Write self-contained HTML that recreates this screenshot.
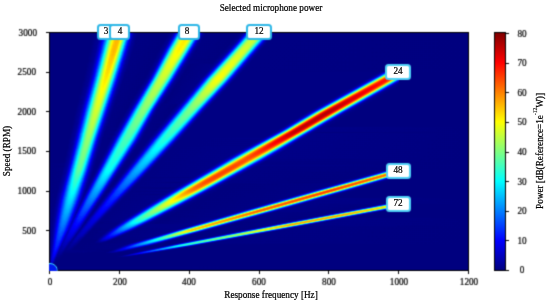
<!DOCTYPE html>
<html><head><meta charset="utf-8"><style>
html,body{margin:0;padding:0;background:#fff;width:550px;height:304px;overflow:hidden}
body{position:relative;font-family:"Liberation Serif","Times New Roman",serif;color:#000}
b{font-weight:normal;display:block}
#all{position:absolute;left:0;top:0;width:550px;height:304px;filter:url(#soft);background:#fff}
.heat{position:absolute;left:49px;top:32px;width:420px;height:239px;background:#000;overflow:hidden;filter:url(#jet)}
.heat i{position:absolute;left:0;width:420px;height:1px}
.frame{position:absolute;left:49px;top:32px;width:420px;height:239px;box-sizing:border-box;border:1px solid #000}
.cbar{position:absolute;left:494px;top:32px;width:12px;height:239px;box-sizing:border-box;border:1px solid #000;background:linear-gradient(to top,rgb(0,0,128) 0%,rgb(0,0,255) 12.5%,rgb(0,128,255) 25%,rgb(0,255,255) 37.5%,rgb(128,255,128) 50%,rgb(255,255,0) 62.5%,rgb(255,128,0) 75%,rgb(255,0,0) 87.5%,rgb(128,0,0) 100%)}
.tk{position:absolute;background:#000}
.t{position:absolute;font-size:36.8px;line-height:44px;white-space:nowrap;transform-origin:0 0;-webkit-text-stroke:0.85px #000}
.lb{position:absolute;box-sizing:border-box;background:#fff;border:2px solid #4fd0f5;border-radius:3.5px}
.lb.top{border-color:#2cb6e6}
.org{position:absolute;left:41.5px;top:262.5px;width:16px;height:16px;border-radius:50%;box-sizing:border-box;border:1.5px solid #3cdcff;background:#0018f0;clip-path:inset(0 0 7.5px 7.5px)}
</style></head><body>
<svg width="0" height="0" style="position:absolute"><filter id="jet" x="0" y="0" width="100%" height="100%" color-interpolation-filters="sRGB">
<feComponentTransfer><feFuncR type="table" tableValues="0 0 0 0 0.5 1 1 1 0.5"/><feFuncG type="table" tableValues="0 0 0.5 1 1 1 0.5 0 0"/><feFuncB type="table" tableValues="0.5 1 1 1 0.5 0 0 0 0"/></feComponentTransfer>
</filter><filter id="soft" x="0" y="0" width="100%" height="100%" color-interpolation-filters="sRGB"><feConvolveMatrix order="3" kernelMatrix="0.02768 0.11101 0.02768 0.11101 0.44521 0.11101 0.02768 0.11101 0.02768" edgeMode="duplicate" preserveAlpha="true"/></filter></svg>
<div id="all">
<div class="heat">
<i style="top:0px;background:linear-gradient(90deg,#000000 0px,#000000 44.8px,#060606 51.2px,#131313 54.2px,#282828 56.8px,#444444 59px,#898989 63.8px,#a0a0a0 65.8px,#afafaf 68px,#b2b2b2 70.2px,#aeaeae 72.2px,#9d9d9d 74.2px,#838383 76px,#373737 80.2px,#252525 81.5px,#181818 82.8px,#070707 85.5px,#010101 89.2px,#000000 119.8px,#050505 124.2px,#101010 126.2px,#232323 128px,#3a3a3a 129.5px,#797979 133px,#939393 135px,#a2a2a2 137.2px,#a6a6a6 140.2px,#a2a2a2 143px,#9a9a9a 144.2px,#909090 145.2px,#777777 147px,#2c2c2c 151px,#121212 153px,#050505 155px,#010101 157.8px,#000000 190.2px,#040404 194.5px,#0d0d0d 196.5px,#1d1d1d 198.2px,#323232 199.8px,#6a6a6a 203.2px,#7f7f7f 205px,#8d8d8d 207.2px,#8f8f8f 210px,#8d8d8d 212.5px,#838383 214.5px,#6d6d6d 216.5px,#2e2e2e 220.5px,#171717 222.2px,#070707 224.5px,#010101 227.5px,#000000 420px)"></i>
<i style="top:1px;background:linear-gradient(90deg,#000000 0px,#000000 44.5px,#060606 51px,#131313 54px,#282828 56.5px,#444444 58.8px,#868686 63.2px,#a0a0a0 65.5px,#afafaf 67.8px,#b2b2b2 70px,#aeaeae 72px,#9d9d9d 74px,#838383 75.8px,#363636 80px,#252525 81.2px,#171717 82.5px,#070707 85.2px,#010101 89px,#000000 119.2px,#050505 123.8px,#111111 125.8px,#242424 127.5px,#3b3b3b 129px,#7a7a7a 132.5px,#949494 134.5px,#a2a2a2 136.8px,#a6a6a6 139.5px,#a3a3a3 142px,#979797 144px,#7d7d7d 146px,#323232 150px,#191919 151.8px,#070707 154px,#010101 157px,#000000 189.5px,#040404 193.8px,#0c0c0c 195.5px,#1c1c1c 197.2px,#303030 198.8px,#686868 202.2px,#808080 204.2px,#8d8d8d 206.5px,#909090 209.2px,#8d8d8d 211.8px,#828282 213.8px,#6c6c6c 215.8px,#2c2c2c 219.8px,#161616 221.5px,#070707 223.8px,#010101 226.5px,#000000 420px)"></i>
<i style="top:2px;background:linear-gradient(90deg,#000000 0px,#000000 44.2px,#060606 50.8px,#131313 53.8px,#282828 56.2px,#454545 58.5px,#878787 63px,#a1a1a1 65.2px,#afafaf 67.5px,#b2b2b2 69.8px,#aeaeae 71.8px,#9c9c9c 73.8px,#828282 75.5px,#3a3a3a 79.5px,#272727 80.8px,#191919 82px,#0f0f0f 83.2px,#070707 84.8px,#010101 88.5px,#000000 118.5px,#050505 123px,#0f0f0f 125px,#212121 126.8px,#383838 128.2px,#7b7b7b 132px,#949494 134px,#a2a2a2 136.2px,#a5a5a5 139px,#a3a3a3 141.5px,#969696 143.5px,#7c7c7c 145.5px,#353535 149.2px,#181818 151.2px,#070707 153.5px,#010101 156.5px,#000000 188.5px,#040404 192.8px,#0d0d0d 194.8px,#1d1d1d 196.5px,#323232 198px,#6b6b6b 201.5px,#808080 203.2px,#8d8d8d 205.5px,#909090 208.2px,#8e8e8e 210.8px,#848484 212.8px,#6e6e6e 214.8px,#2e2e2e 218.8px,#171717 220.5px,#070707 222.8px,#010101 225.8px,#000000 420px)"></i>
<i style="top:3px;background:linear-gradient(90deg,#000000 0px,#000000 44px,#060606 50.5px,#131313 53.5px,#292929 56px,#454545 58.2px,#878787 62.8px,#a1a1a1 65px,#afafaf 67.2px,#b2b2b2 69.5px,#aeaeae 71.5px,#9c9c9c 73.5px,#818181 75.2px,#393939 79.2px,#272727 80.5px,#191919 81.8px,#0f0f0f 83px,#070707 84.5px,#010101 88.2px,#000000 118px,#050505 122.5px,#101010 124.5px,#222222 126.2px,#393939 127.8px,#787878 131.2px,#939393 133.2px,#a2a2a2 135.5px,#a5a5a5 138.5px,#a2a2a2 141px,#959595 143px,#7a7a7a 145px,#333333 148.8px,#1a1a1a 150.5px,#070707 152.8px,#010101 155.8px,#000000 187.8px,#040404 192px,#0c0c0c 193.8px,#1c1c1c 195.5px,#303030 197px,#696969 200.5px,#818181 202.5px,#8e8e8e 204.8px,#919191 207.5px,#8e8e8e 210px,#838383 212px,#6c6c6c 214px,#2c2c2c 218px,#161616 219.8px,#060606 222px,#010101 224.8px,#000000 420px)"></i>
<i style="top:4px;background:linear-gradient(90deg,#000000 0px,#000000 43.8px,#060606 50.2px,#131313 53.2px,#292929 55.8px,#454545 58px,#888888 62.5px,#a1a1a1 64.8px,#afafaf 67px,#b2b2b2 69.2px,#aeaeae 71.2px,#9b9b9b 73.2px,#808080 75px,#383838 79px,#262626 80.2px,#181818 81.5px,#0f0f0f 82.8px,#070707 84.2px,#010101 88px,#000000 117.5px,#050505 122px,#101010 124px,#232323 125.8px,#3b3b3b 127.2px,#797979 130.8px,#939393 132.8px,#a2a2a2 135px,#a5a5a5 137.8px,#a3a3a3 140.2px,#979797 142.2px,#7d7d7d 144.2px,#323232 148.2px,#191919 150px,#070707 152.2px,#010101 155.2px,#000000 186.8px,#040404 191px,#0d0d0d 193px,#1d1d1d 194.8px,#323232 196.2px,#6b6b6b 199.8px,#808080 201.5px,#8e8e8e 203.8px,#919191 206.5px,#8f8f8f 209px,#848484 211px,#6e6e6e 213px,#2e2e2e 217px,#171717 218.8px,#070707 221px,#010101 224px,#000000 420px)"></i>
<i style="top:5px;background:linear-gradient(90deg,#000000 0px,#000000 43.5px,#060606 50px,#131313 53px,#292929 55.5px,#454545 57.8px,#888888 62.2px,#a1a1a1 64.5px,#aeaeae 66.5px,#b2b2b2 68.8px,#afafaf 70.8px,#9e9e9e 72.8px,#848484 74.5px,#383838 78.8px,#262626 80px,#181818 81.2px,#070707 84px,#010101 87.8px,#000000 117px,#050505 121.5px,#0f0f0f 123.2px,#212121 125px,#383838 126.5px,#767676 130px,#919191 132px,#a1a1a1 134.2px,#a5a5a5 137.2px,#a2a2a2 139.8px,#969696 141.8px,#7b7b7b 143.8px,#353535 147.5px,#181818 149.5px,#070707 151.8px,#010101 154.8px,#000000 186px,#040404 190.2px,#0c0c0c 192px,#1c1c1c 193.8px,#303030 195.2px,#6a6a6a 198.8px,#828282 200.8px,#8f8f8f 203px,#919191 205.8px,#8f8f8f 208.2px,#838383 210.2px,#6d6d6d 212.2px,#2c2c2c 216.2px,#161616 218px,#060606 220.2px,#010101 223px,#000000 420px)"></i>
<i style="top:6px;background:linear-gradient(90deg,#000000 0px,#000000 43.2px,#060606 49.8px,#131313 52.8px,#292929 55.2px,#454545 57.5px,#888888 62px,#9f9f9f 64px,#afafaf 66.2px,#b2b2b2 68.5px,#aeaeae 70.5px,#9d9d9d 72.5px,#838383 74.2px,#373737 78.5px,#252525 79.8px,#181818 81px,#070707 83.8px,#010101 87.5px,#000000 116.5px,#050505 120.8px,#101010 122.8px,#222222 124.5px,#393939 126px,#777777 129.5px,#929292 131.5px,#a1a1a1 133.8px,#a5a5a5 136.8px,#a2a2a2 139.2px,#979797 141px,#7e7e7e 143px,#333333 147px,#191919 148.8px,#070707 151px,#010101 154px,#000000 185.2px,#040404 189.5px,#0d0d0d 191.2px,#1d1d1d 193px,#333333 194.5px,#6c6c6c 198px,#818181 199.8px,#8f8f8f 202px,#929292 204.8px,#8f8f8f 207.2px,#858585 209.2px,#6e6e6e 211.2px,#2e2e2e 215.2px,#171717 217px,#070707 219.2px,#010101 222.2px,#000000 420px)"></i>
<i style="top:7px;background:linear-gradient(90deg,#000000 0px,#000000 43px,#060606 49.5px,#131313 52.5px,#292929 55px,#464646 57.2px,#898989 61.8px,#a0a0a0 63.8px,#afafaf 66px,#b2b2b2 68.2px,#aeaeae 70.2px,#9d9d9d 72.2px,#828282 74px,#363636 78.2px,#252525 79.5px,#171717 80.8px,#070707 83.5px,#010101 87.2px,#000000 116px,#050505 120.2px,#101010 122.2px,#232323 124px,#3a3a3a 125.5px,#797979 129px,#939393 131px,#a1a1a1 133.2px,#a4a4a4 136px,#a2a2a2 138.5px,#969696 140.5px,#7c7c7c 142.5px,#313131 146.5px,#181818 148.2px,#070707 150.5px,#010101 153.5px,#000000 184.2px,#040404 188.5px,#0c0c0c 190.2px,#1c1c1c 192px,#313131 193.5px,#6a6a6a 197px,#828282 199px,#8f8f8f 201.2px,#929292 204px,#8f8f8f 206.5px,#848484 208.5px,#6d6d6d 210.5px,#303030 214.2px,#161616 216.2px,#060606 218.5px,#010101 221.2px,#000000 420px)"></i>
<i style="top:8px;background:linear-gradient(90deg,#000000 0px,#000000 42.8px,#060606 49.2px,#131313 52.2px,#292929 54.8px,#464646 57px,#898989 61.5px,#a0a0a0 63.5px,#afafaf 65.8px,#b2b2b2 68px,#aeaeae 70px,#9c9c9c 72px,#828282 73.8px,#393939 77.8px,#272727 79px,#191919 80.2px,#0f0f0f 81.5px,#070707 83px,#010101 86.8px,#000000 115.5px,#050505 119.8px,#0f0f0f 121.5px,#212121 123.2px,#373737 124.8px,#767676 128.2px,#919191 130.2px,#a1a1a1 132.5px,#a4a4a4 135.5px,#a1a1a1 138.2px,#999999 139.5px,#909090 140.5px,#767676 142.2px,#2c2c2c 146.2px,#121212 148.2px,#050505 150.2px,#010101 153px,#000000 183.5px,#040404 187.8px,#0d0d0d 189.5px,#1e1e1e 191.2px,#333333 192.8px,#6c6c6c 196.2px,#828282 198px,#8f8f8f 200.2px,#929292 203px,#909090 205.5px,#858585 207.5px,#6f6f6f 209.5px,#2e2e2e 213.5px,#171717 215.2px,#070707 217.5px,#010101 220.5px,#000000 420px)"></i>
<i style="top:9px;background:linear-gradient(90deg,#000000 0px,#000000 42.5px,#060606 49px,#131313 52px,#292929 54.5px,#464646 56.8px,#898989 61.2px,#a0a0a0 63.2px,#afafaf 65.5px,#b2b2b2 67.8px,#aeaeae 69.8px,#9c9c9c 71.8px,#818181 73.5px,#393939 77.5px,#272727 78.8px,#191919 80px,#0f0f0f 81.2px,#070707 82.8px,#010101 86.5px,#000000 115px,#060606 119.2px,#0f0f0f 121px,#222222 122.8px,#383838 124.2px,#777777 127.8px,#929292 129.8px,#a1a1a1 132px,#a4a4a4 135px,#a1a1a1 137.5px,#969696 139.2px,#7d7d7d 141.2px,#333333 145.2px,#191919 147px,#070707 149.2px,#010101 152.2px,#000000 182.5px,#040404 186.8px,#0c0c0c 188.5px,#1c1c1c 190.2px,#313131 191.8px,#6b6b6b 195.2px,#838383 197.2px,#8f8f8f 199.2px,#939393 202px,#909090 204.8px,#858585 206.8px,#6d6d6d 208.8px,#303030 212.5px,#161616 214.5px,#060606 216.8px,#010101 219.5px,#000000 420px)"></i>
<i style="top:10px;background:linear-gradient(90deg,#000000 0px,#000000 42.2px,#060606 48.8px,#131313 51.8px,#292929 54.2px,#464646 56.5px,#868686 60.8px,#a1a1a1 63px,#afafaf 65.2px,#b2b2b2 67.5px,#aeaeae 69.5px,#9b9b9b 71.5px,#808080 73.2px,#383838 77.2px,#262626 78.5px,#181818 79.8px,#0f0f0f 81px,#070707 82.5px,#010101 86.2px,#000000 114.2px,#050505 118.5px,#101010 120.5px,#232323 122.2px,#3a3a3a 123.8px,#787878 127.2px,#929292 129.2px,#a1a1a1 131.5px,#a4a4a4 134.2px,#a1a1a1 136.8px,#959595 138.8px,#7b7b7b 140.8px,#313131 144.8px,#181818 146.5px,#070707 148.8px,#010101 151.8px,#000000 181.8px,#040404 186px,#0d0d0d 187.8px,#1e1e1e 189.5px,#333333 191px,#6d6d6d 194.5px,#828282 196.2px,#909090 198.5px,#939393 201.2px,#919191 203.8px,#868686 205.8px,#6f6f6f 207.8px,#2e2e2e 211.8px,#171717 213.5px,#070707 215.8px,#010101 218.8px,#000000 420px)"></i>
<i style="top:11px;background:linear-gradient(90deg,#000000 0px,#000000 42.2px,#060606 48.5px,#121212 51.2px,#272727 53.8px,#434343 56px,#8a8a8a 60.8px,#a1a1a1 62.8px,#aeaeae 64.8px,#b2b2b2 67px,#afafaf 69px,#9e9e9e 71px,#848484 72.8px,#373737 77px,#262626 78.2px,#181818 79.5px,#070707 82.2px,#010101 86px,#000000 113.8px,#050505 118px,#0e0e0e 119.8px,#202020 121.5px,#373737 123px,#797979 126.8px,#939393 128.8px,#a1a1a1 131px,#a4a4a4 133.8px,#a0a0a0 136.5px,#999999 137.8px,#8f8f8f 138.8px,#767676 140.5px,#2b2b2b 144.5px,#121212 146.5px,#050505 148.5px,#010101 151.2px,#000000 180.8px,#040404 185px,#0c0c0c 186.8px,#1c1c1c 188.5px,#313131 190px,#6c6c6c 193.5px,#848484 195.5px,#909090 197.5px,#939393 200.2px,#919191 203px,#858585 205px,#6d6d6d 207px,#303030 210.8px,#161616 212.8px,#060606 215px,#010101 217.8px,#000000 420px)"></i>
<i style="top:12px;background:linear-gradient(90deg,#000000 0px,#000000 42px,#060606 48.2px,#121212 51px,#272727 53.5px,#434343 55.8px,#8a8a8a 60.5px,#a1a1a1 62.5px,#aeaeae 64.5px,#b2b2b2 66.8px,#aeaeae 68.8px,#9d9d9d 70.8px,#838383 72.5px,#373737 76.8px,#252525 78px,#181818 79.2px,#070707 82px,#010101 85.8px,#000000 113.2px,#050505 117.5px,#0f0f0f 119.2px,#212121 121px,#383838 122.5px,#767676 126px,#919191 128px,#a0a0a0 130.2px,#a4a4a4 133.2px,#a0a0a0 135.8px,#969696 137.5px,#7c7c7c 139.5px,#323232 143.5px,#191919 145.2px,#070707 147.5px,#010101 150.5px,#000000 180px,#040404 184.2px,#0d0d0d 186px,#1e1e1e 187.8px,#333333 189.2px,#6e6e6e 192.8px,#838383 194.5px,#919191 196.8px,#949494 199.5px,#919191 202px,#868686 204px,#6f6f6f 206px,#2e2e2e 210px,#171717 211.8px,#070707 214px,#010101 217px,#000000 420px)"></i>
<i style="top:13px;background:linear-gradient(90deg,#000000 0px,#000000 41.8px,#060606 48px,#121212 50.8px,#272727 53.2px,#434343 55.5px,#878787 60px,#a1a1a1 62.2px,#afafaf 64.2px,#b2b2b2 66.5px,#aeaeae 68.5px,#9c9c9c 70.5px,#828282 72.2px,#363636 76.5px,#252525 77.8px,#171717 79px,#070707 81.8px,#010101 85.5px,#000000 112.8px,#060606 117px,#101010 118.8px,#222222 120.5px,#393939 122px,#777777 125.5px,#929292 127.5px,#a0a0a0 129.8px,#a3a3a3 132.5px,#a1a1a1 135px,#959595 137px,#7b7b7b 139px,#353535 142.8px,#181818 144.8px,#070707 147px,#010101 150px,#000000 179px,#040404 183.2px,#0c0c0c 185px,#1d1d1d 186.8px,#323232 188.2px,#6c6c6c 191.8px,#858585 193.8px,#919191 195.8px,#949494 198.5px,#919191 201.2px,#868686 203.2px,#6e6e6e 205.2px,#303030 209px,#181818 210.8px,#070707 213px,#010101 216px,#000000 420px)"></i>
<i style="top:14px;background:linear-gradient(90deg,#000000 0px,#000000 41.5px,#060606 47.8px,#131313 50.8px,#292929 53.2px,#434343 55.2px,#878787 59.8px,#a2a2a2 62px,#afafaf 64px,#b2b2b2 66.2px,#aeaeae 68.2px,#9c9c9c 70.2px,#818181 72px,#393939 76px,#272727 77.2px,#191919 78.5px,#0f0f0f 79.8px,#070707 81.2px,#010101 85px,#000000 112px,#050505 116.2px,#0e0e0e 118px,#202020 119.8px,#363636 121.2px,#797979 125px,#929292 127px,#a0a0a0 129.2px,#a3a3a3 132px,#9f9f9f 134.8px,#989898 136px,#8e8e8e 137px,#757575 138.8px,#2b2b2b 142.8px,#121212 144.8px,#050505 146.8px,#010101 149.5px,#000000 178.2px,#050505 182.5px,#0d0d0d 184.2px,#1e1e1e 186px,#343434 187.5px,#6b6b6b 190.8px,#848484 192.8px,#929292 195px,#959595 197.8px,#929292 200.2px,#878787 202.2px,#707070 204.2px,#2e2e2e 208.2px,#171717 210px,#070707 212.2px,#010101 215.2px,#000000 420px)"></i>
<i style="top:15px;background:linear-gradient(90deg,#000000 0px,#000000 41.5px,#060606 47.8px,#131313 50.5px,#292929 53px,#434343 55px,#878787 59.5px,#9f9f9f 61.5px,#afafaf 63.8px,#b2b2b2 66px,#aeaeae 68px,#9b9b9b 70px,#818181 71.8px,#393939 75.8px,#272727 77px,#191919 78.2px,#0f0f0f 79.5px,#070707 81px,#010101 84.8px,#000000 111.5px,#050505 115.8px,#0f0f0f 117.5px,#212121 119.2px,#373737 120.8px,#767676 124.2px,#909090 126.2px,#a0a0a0 128.5px,#a3a3a3 131.5px,#9f9f9f 134.2px,#979797 135.5px,#8d8d8d 136.5px,#737373 138.2px,#2d2d2d 142px,#131313 144px,#060606 146px,#010101 148.8px,#000000 177.2px,#040404 181.5px,#0c0c0c 183.2px,#1d1d1d 185px,#323232 186.5px,#6d6d6d 190px,#858585 192px,#929292 194px,#959595 196.8px,#939393 199.2px,#888888 201.2px,#727272 203.2px,#2f2f2f 207.2px,#181818 209px,#070707 211.2px,#010101 214.2px,#000000 420px)"></i>
<i style="top:16px;background:linear-gradient(90deg,#000000 0px,#000000 41.2px,#060606 47.5px,#131313 50.2px,#292929 52.8px,#434343 54.8px,#888888 59.2px,#a0a0a0 61.2px,#afafaf 63.5px,#b2b2b2 65.8px,#adadad 67.8px,#9b9b9b 69.8px,#848484 71.2px,#383838 75.5px,#262626 76.8px,#181818 78px,#070707 80.8px,#010101 84.5px,#000000 111px,#050505 115.2px,#0f0f0f 117px,#222222 118.8px,#393939 120.2px,#777777 123.8px,#919191 125.8px,#a0a0a0 128px,#a3a3a3 130.8px,#a0a0a0 133.2px,#949494 135.2px,#7a7a7a 137.2px,#343434 141px,#171717 143px,#060606 145.2px,#010101 148.2px,#000000 176.5px,#050505 180.8px,#0d0d0d 182.5px,#1e1e1e 184.2px,#343434 185.8px,#6b6b6b 189px,#858585 191px,#929292 193.2px,#959595 196px,#939393 198.5px,#888888 200.5px,#707070 202.5px,#2e2e2e 206.5px,#171717 208.2px,#070707 210.5px,#010101 213.2px,#000000 420px)"></i>
<i style="top:17px;background:linear-gradient(90deg,#000000 0px,#000000 41px,#060606 47.2px,#121212 50px,#282828 52.5px,#424242 54.5px,#888888 59px,#a0a0a0 61px,#aeaeae 63px,#b2b2b2 65.2px,#afafaf 67.2px,#9d9d9d 69.2px,#848484 71px,#373737 75.2px,#262626 76.5px,#181818 77.8px,#070707 80.5px,#010101 84.2px,#000000 110.5px,#060606 114.8px,#101010 116.5px,#232323 118.2px,#3a3a3a 119.8px,#747474 123px,#8f8f8f 125px,#9f9f9f 127.2px,#a3a3a3 130.2px,#9f9f9f 133px,#979797 134.2px,#8e8e8e 135.2px,#747474 137px,#2a2a2a 141px,#111111 143px,#050505 145px,#010101 147.8px,#000000 175.8px,#050505 180px,#0e0e0e 181.8px,#202020 183.5px,#363636 185px,#6d6d6d 188.2px,#848484 190px,#929292 192.2px,#969696 195px,#939393 197.5px,#898989 199.5px,#727272 201.5px,#2f2f2f 205.5px,#181818 207.2px,#070707 209.5px,#010101 212.5px,#000000 420px)"></i>
<i style="top:18px;background:linear-gradient(90deg,#000000 0px,#000000 40.8px,#060606 47px,#121212 49.8px,#282828 52.2px,#424242 54.2px,#888888 58.8px,#a0a0a0 60.8px,#aeaeae 62.8px,#b2b2b2 65px,#aeaeae 67px,#9d9d9d 69px,#838383 70.8px,#363636 75px,#252525 76.2px,#171717 77.5px,#070707 80.2px,#010101 84px,#000000 109.8px,#050505 114px,#0e0e0e 115.8px,#202020 117.5px,#363636 119px,#757575 122.5px,#909090 124.5px,#9f9f9f 126.8px,#a2a2a2 129.8px,#9e9e9e 132.5px,#969696 133.8px,#8c8c8c 134.8px,#727272 136.5px,#2d2d2d 140.2px,#131313 142.2px,#060606 144.2px,#010101 147px,#000000 174.8px,#050505 179px,#0e0e0e 180.8px,#1f1f1f 182.5px,#353535 184px,#6c6c6c 187.2px,#858585 189.2px,#939393 191.5px,#969696 194.2px,#939393 196.8px,#888888 198.8px,#717171 200.8px,#2e2e2e 204.8px,#171717 206.5px,#070707 208.8px,#010101 211.5px,#000000 420px)"></i>
<i style="top:19px;background:linear-gradient(90deg,#000000 0px,#000000 40.5px,#060606 46.8px,#121212 49.5px,#282828 52px,#424242 54px,#888888 58.5px,#a0a0a0 60.5px,#aeaeae 62.5px,#b2b2b2 64.8px,#adadad 66.8px,#9c9c9c 68.8px,#818181 70.5px,#393939 74.5px,#272727 75.8px,#191919 77px,#0f0f0f 78.2px,#070707 79.8px,#010101 83.5px,#000000 109.2px,#050505 113.5px,#0e0e0e 115.2px,#202020 117px,#373737 118.5px,#757575 122px,#909090 124px,#9f9f9f 126.2px,#a2a2a2 129px,#9f9f9f 131.5px,#939393 133.5px,#797979 135.5px,#333333 139.2px,#171717 141.2px,#060606 143.5px,#010101 146.5px,#000000 174px,#040404 178px,#0d0d0d 179.8px,#1e1e1e 181.5px,#333333 183px,#6e6e6e 186.5px,#858585 188.2px,#939393 190.5px,#969696 193.2px,#949494 195.8px,#898989 197.8px,#737373 199.8px,#303030 203.8px,#181818 205.5px,#070707 207.8px,#010101 210.8px,#000000 420px)"></i>
<i style="top:20px;background:linear-gradient(90deg,#000000 0px,#000000 40.5px,#060606 46.5px,#121212 49.2px,#282828 51.8px,#424242 53.8px,#888888 58.2px,#a0a0a0 60.2px,#adadad 62.2px,#b1b1b1 64.5px,#adadad 66.5px,#9b9b9b 68.5px,#808080 70.2px,#383838 74.2px,#272727 75.5px,#191919 76.8px,#0f0f0f 78px,#070707 79.5px,#010101 83.2px,#000000 108.8px,#050505 113px,#0f0f0f 114.8px,#212121 116.5px,#373737 118px,#767676 121.5px,#909090 123.5px,#9e9e9e 125.8px,#a1a1a1 128.5px,#9e9e9e 131px,#949494 132.8px,#7b7b7b 134.8px,#323232 138.8px,#191919 140.5px,#070707 142.8px,#010101 145.8px,#000000 173px,#050505 177.2px,#0e0e0e 179px,#202020 180.8px,#363636 182.2px,#6d6d6d 185.5px,#868686 187.5px,#949494 189.8px,#979797 192.5px,#949494 195px,#898989 197px,#717171 199px,#2e2e2e 203px,#171717 204.8px,#070707 207px,#010101 210px,#000000 420px)"></i>
<i style="top:21px;background:linear-gradient(90deg,#000000 0px,#000000 40.2px,#060606 46.2px,#121212 49px,#282828 51.5px,#424242 53.5px,#888888 58px,#a0a0a0 60px,#adadad 62px,#b1b1b1 64.2px,#acacac 66.2px,#9a9a9a 68.2px,#7f7f7f 70px,#383838 74px,#262626 75.2px,#181818 76.5px,#070707 79.2px,#010101 83px,#000000 108.2px,#050505 112.5px,#0f0f0f 114.2px,#212121 116px,#383838 117.5px,#767676 121px,#8e8e8e 122.8px,#9d9d9d 125px,#a1a1a1 127.8px,#9e9e9e 130.2px,#939393 132.2px,#797979 134.2px,#303030 138.2px,#171717 140px,#060606 142.2px,#010101 145.2px,#000000 172px,#050505 176.2px,#0e0e0e 178px,#1f1f1f 179.8px,#353535 181.2px,#707070 184.8px,#868686 186.5px,#949494 188.8px,#979797 191.5px,#959595 194px,#8a8a8a 196px,#737373 198px,#303030 202px,#191919 203.8px,#070707 206px,#010101 209px,#000000 420px)"></i>
<i style="top:22px;background:linear-gradient(90deg,#000000 0px,#000000 40px,#060606 46px,#121212 48.8px,#282828 51.2px,#434343 53.2px,#888888 57.8px,#a0a0a0 59.8px,#adadad 61.8px,#b1b1b1 63.8px,#adadad 65.8px,#9c9c9c 67.8px,#828282 69.5px,#373737 73.8px,#252525 75px,#171717 76.2px,#070707 79px,#010101 82.8px,#000000 108px,#050505 112px,#0f0f0f 113.8px,#212121 115.5px,#383838 117px,#737373 120.2px,#8e8e8e 122.2px,#9d9d9d 124.5px,#a0a0a0 127.2px,#9d9d9d 130px,#969696 131.2px,#8c8c8c 132.2px,#737373 134px,#2a2a2a 138px,#111111 140px,#050505 142px,#010101 144.8px,#000000 171.2px,#050505 175.2px,#0d0d0d 177px,#1e1e1e 178.8px,#333333 180.2px,#6e6e6e 183.8px,#878787 185.8px,#959595 188px,#979797 190.8px,#959595 193.2px,#898989 195.2px,#727272 197.2px,#2e2e2e 201.2px,#171717 203px,#070707 205.2px,#010101 208.2px,#000000 420px)"></i>
<i style="top:23px;background:linear-gradient(90deg,#000000 0px,#000000 39.8px,#060606 45.8px,#121212 48.5px,#282828 51px,#434343 53px,#888888 57.5px,#9f9f9f 59.5px,#adadad 61.5px,#b0b0b0 63.5px,#acacac 65.5px,#9b9b9b 67.5px,#818181 69.2px,#363636 73.5px,#242424 74.8px,#171717 76px,#070707 78.8px,#010101 82.5px,#000000 107.5px,#050505 111.5px,#0f0f0f 113.2px,#222222 115px,#393939 116.5px,#737373 119.8px,#8e8e8e 121.8px,#9d9d9d 124px,#a0a0a0 126.8px,#9d9d9d 129.2px,#929292 131px,#797979 133px,#313131 137px,#181818 138.8px,#070707 141px,#010101 144px,#000000 170.2px,#050505 174.5px,#0e0e0e 176.2px,#202020 178px,#363636 179.5px,#6d6d6d 182.8px,#878787 184.8px,#959595 187px,#989898 189.8px,#959595 192.2px,#8b8b8b 194.2px,#747474 196.2px,#313131 200.2px,#161616 202.2px,#060606 204.5px,#010101 207.2px,#000000 420px)"></i>
<i style="top:24px;background:linear-gradient(90deg,#000000 0px,#000000 39.5px,#060606 45.5px,#121212 48.2px,#282828 50.8px,#434343 52.8px,#858585 57px,#9d9d9d 59px,#ababab 61px,#b0b0b0 63.2px,#ababab 65.2px,#9a9a9a 67.2px,#808080 69px,#393939 73px,#272727 74.2px,#191919 75.5px,#0f0f0f 76.8px,#070707 78.2px,#010101 82px,#000000 107px,#050505 111px,#0f0f0f 112.8px,#222222 114.5px,#393939 116px,#747474 119.2px,#8e8e8e 121.2px,#9b9b9b 123.2px,#9f9f9f 126px,#9d9d9d 128.5px,#919191 130.5px,#787878 132.5px,#333333 136.2px,#171717 138.2px,#060606 140.5px,#010101 143.5px,#000000 169.2px,#050505 173.5px,#0e0e0e 175.2px,#1f1f1f 177px,#353535 178.5px,#707070 182px,#888888 184px,#959595 186.2px,#989898 189px,#959595 191.5px,#8a8a8a 193.5px,#727272 195.5px,#2f2f2f 199.5px,#181818 201.2px,#070707 203.5px,#010101 206.5px,#000000 420px)"></i>
<i style="top:25px;background:linear-gradient(90deg,#000000 0px,#000000 39.2px,#060606 45.2px,#121212 48px,#282828 50.5px,#434343 52.5px,#858585 56.8px,#9d9d9d 58.8px,#ababab 60.8px,#afafaf 63px,#ababab 65px,#999999 67px,#7f7f7f 68.8px,#383838 72.8px,#262626 74px,#181818 75.2px,#070707 78px,#010101 81.8px,#000000 106.5px,#050505 110.5px,#0f0f0f 112.2px,#222222 114px,#3a3a3a 115.5px,#747474 118.8px,#8c8c8c 120.5px,#9b9b9b 122.8px,#9e9e9e 125.5px,#9c9c9c 128px,#909090 130px,#767676 132px,#313131 135.8px,#181818 137.5px,#070707 139.8px,#010101 142.8px,#000000 168.5px,#050505 172.8px,#0f0f0f 174.5px,#212121 176.2px,#373737 177.8px,#6e6e6e 181px,#878787 183px,#959595 185.2px,#989898 188px,#969696 190.5px,#8b8b8b 192.5px,#747474 194.5px,#313131 198.5px,#171717 200.5px,#070707 202.8px,#010101 205.8px,#000000 420px)"></i>
<i style="top:26px;background:linear-gradient(90deg,#000000 0px,#000000 39px,#060606 45px,#121212 47.8px,#282828 50.2px,#434343 52.2px,#858585 56.5px,#9d9d9d 58.5px,#ababab 60.5px,#afafaf 62.8px,#aaaaaa 64.8px,#989898 66.8px,#7e7e7e 68.5px,#373737 72.5px,#252525 73.8px,#181818 75px,#070707 77.8px,#010101 81.5px,#000000 106px,#050505 110px,#0f0f0f 111.8px,#232323 113.5px,#363636 114.8px,#717171 118px,#8c8c8c 120px,#9b9b9b 122.2px,#9e9e9e 125px,#9a9a9a 127.8px,#939393 129px,#898989 130px,#707070 131.8px,#2b2b2b 135.5px,#121212 137.5px,#050505 139.5px,#010101 142.2px,#000000 167.5px,#050505 171.8px,#0f0f0f 173.5px,#202020 175.2px,#363636 176.8px,#6d6d6d 180px,#878787 182px,#959595 184.2px,#999999 187.2px,#969696 189.8px,#8b8b8b 191.8px,#737373 193.8px,#2f2f2f 197.8px,#181818 199.5px,#070707 201.8px,#010101 204.8px,#000000 420px)"></i>
<i style="top:27px;background:linear-gradient(90deg,#000000 0px,#000000 38.8px,#060606 44.8px,#121212 47.5px,#282828 50px,#434343 52px,#858585 56.2px,#9d9d9d 58.2px,#ababab 60.2px,#aeaeae 62.5px,#a9a9a9 64.5px,#979797 66.5px,#818181 68px,#363636 72.2px,#242424 73.5px,#171717 74.8px,#070707 77.5px,#010101 81.2px,#000000 105.5px,#050505 109.5px,#101010 111.2px,#202020 112.8px,#373737 114.2px,#717171 117.5px,#8c8c8c 119.5px,#9a9a9a 121.5px,#9d9d9d 124.2px,#9b9b9b 126.8px,#8f8f8f 128.8px,#767676 130.8px,#323232 134.5px,#161616 136.5px,#060606 138.8px,#000000 141.8px,#000000 166.5px,#050505 170.8px,#0e0e0e 172.5px,#1f1f1f 174.2px,#353535 175.8px,#707070 179.2px,#888888 181.2px,#969696 183.5px,#999999 186.2px,#979797 188.8px,#8c8c8c 190.8px,#757575 192.8px,#323232 196.8px,#171717 198.8px,#070707 201px,#010101 204px,#000000 420px)"></i>
<i style="top:28px;background:linear-gradient(90deg,#000000 0px,#000000 38.8px,#020202 42.2px,#060606 44.8px,#121212 47.2px,#282828 49.8px,#434343 51.8px,#858585 56px,#9d9d9d 58px,#aaaaaa 60px,#aeaeae 62px,#aaaaaa 64px,#999999 66px,#808080 67.8px,#393939 71.8px,#191919 74.2px,#0f0f0f 75.5px,#070707 77px,#010101 80.8px,#000000 105px,#050505 109px,#101010 110.8px,#202020 112.2px,#373737 113.8px,#727272 117px,#8c8c8c 119px,#999999 121px,#9d9d9d 123.8px,#9a9a9a 126.2px,#8e8e8e 128.2px,#747474 130.2px,#303030 134px,#181818 135.8px,#070707 138px,#010101 141px,#000000 165.8px,#060606 170px,#0f0f0f 171.8px,#212121 173.5px,#373737 175px,#6e6e6e 178.2px,#888888 180.2px,#969696 182.5px,#999999 185.5px,#979797 188px,#8b8b8b 190px,#737373 192px,#303030 196px,#181818 197.8px,#070707 200px,#010101 203px,#000000 420px)"></i>
<i style="top:29px;background:linear-gradient(90deg,#000000 0px,#000000 38.5px,#020202 42px,#060606 44.5px,#121212 47px,#282828 49.5px,#434343 51.5px,#858585 55.8px,#9d9d9d 57.8px,#aaaaaa 59.8px,#adadad 61.8px,#a9a9a9 63.8px,#989898 65.8px,#7f7f7f 67.5px,#383838 71.5px,#262626 72.8px,#181818 74px,#0e0e0e 75.2px,#070707 76.8px,#010101 80.5px,#000000 104.5px,#050505 108.5px,#101010 110.2px,#202020 111.8px,#383838 113.2px,#727272 116.5px,#8a8a8a 118.2px,#939393 119.2px,#999999 120.5px,#9c9c9c 123.2px,#989898 126px,#919191 127.2px,#878787 128.2px,#6e6e6e 130px,#2a2a2a 133.8px,#121212 135.8px,#050505 137.8px,#010101 140.5px,#000000 164.8px,#050505 169px,#0f0f0f 170.8px,#202020 172.5px,#363636 174px,#717171 177.5px,#898989 179.5px,#979797 181.8px,#9a9a9a 184.5px,#979797 187px,#8c8c8c 189px,#767676 191px,#323232 195px,#171717 197px,#070707 199.2px,#010101 202.2px,#000000 420px)"></i>
<i style="top:30px;background:linear-gradient(90deg,#000000 0px,#000000 38.2px,#060606 44.2px,#121212 46.8px,#282828 49.2px,#434343 51.2px,#858585 55.5px,#9c9c9c 57.5px,#aaaaaa 59.5px,#adadad 61.5px,#a9a9a9 63.5px,#979797 65.5px,#7d7d7d 67.2px,#373737 71.2px,#252525 72.5px,#181818 73.8px,#070707 76.5px,#010101 80.2px,#000000 104px,#060606 108px,#101010 109.8px,#212121 111.2px,#383838 112.8px,#737373 116px,#8a8a8a 117.8px,#989898 119.8px,#9c9c9c 122.5px,#999999 125px,#8d8d8d 127px,#747474 129px,#313131 132.8px,#181818 134.5px,#070707 136.8px,#010101 139.8px,#000000 163.8px,#050505 168px,#0e0e0e 169.8px,#1f1f1f 171.5px,#353535 173px,#707070 176.5px,#898989 178.5px,#979797 180.8px,#9a9a9a 183.8px,#979797 186.2px,#8c8c8c 188.2px,#747474 190.2px,#303030 194.2px,#191919 196px,#080808 198.2px,#010101 201.2px,#000000 420px)"></i>
<i style="top:31px;background:linear-gradient(90deg,#000000 0px,#000000 38px,#060606 44px,#121212 46.5px,#282828 49px,#434343 51px,#818181 55px,#9a9a9a 57px,#a8a8a8 59px,#adadad 61.2px,#a8a8a8 63.2px,#969696 65.2px,#7c7c7c 67px,#363636 71px,#242424 72.2px,#171717 73.5px,#070707 76.2px,#010101 80px,#000000 103.5px,#060606 107.5px,#101010 109.2px,#212121 110.8px,#343434 112px,#737373 115.5px,#8a8a8a 117.2px,#989898 119.2px,#9b9b9b 122px,#989898 124.5px,#8e8e8e 126.2px,#767676 128.2px,#2f2f2f 132.2px,#171717 134px,#060606 136.2px,#010101 139.2px,#000000 163px,#060606 167.2px,#0f0f0f 169px,#212121 170.8px,#373737 172.2px,#6e6e6e 175.5px,#888888 177.5px,#979797 179.8px,#9a9a9a 182.8px,#989898 185.2px,#8d8d8d 187.2px,#767676 189.2px,#2f2f2f 193.5px,#171717 195.2px,#070707 197.5px,#010101 200.5px,#000000 420px)"></i>
<i style="top:32px;background:linear-gradient(90deg,#000000 0px,#000000 37.8px,#060606 43.8px,#121212 46.2px,#282828 48.8px,#434343 50.8px,#818181 54.8px,#9a9a9a 56.8px,#a8a8a8 58.8px,#acacac 61px,#a7a7a7 63px,#959595 65px,#7f7f7f 66.5px,#353535 70.8px,#242424 72px,#171717 73.2px,#060606 76px,#010101 79.8px,#000000 103px,#060606 107px,#101010 108.8px,#212121 110.2px,#353535 111.5px,#707070 114.8px,#888888 116.5px,#979797 118.5px,#9b9b9b 121.2px,#989898 124px,#8b8b8b 126px,#707070 128px,#363636 131.2px,#1f1f1f 132.8px,#0f0f0f 134.2px,#050505 136px,#000000 140.2px,#020202 164.8px,#0a0a0a 167.2px,#1b1b1b 169.2px,#323232 171px,#757575 175px,#8c8c8c 177px,#989898 179px,#9b9b9b 181.8px,#989898 184.5px,#8c8c8c 186.5px,#757575 188.5px,#313131 192.5px,#161616 194.5px,#070707 196.8px,#010101 199.8px,#000000 420px)"></i>
<i style="top:33px;background:linear-gradient(90deg,#000000 0px,#000000 37.5px,#060606 43.5px,#121212 46px,#282828 48.5px,#434343 50.5px,#818181 54.5px,#9a9a9a 56.5px,#a8a8a8 58.5px,#acacac 60.8px,#a7a7a7 62.8px,#949494 64.8px,#7e7e7e 66.2px,#383838 70.2px,#181818 72.8px,#0e0e0e 74px,#070707 75.5px,#010101 79.2px,#000000 102.5px,#060606 106.5px,#111111 108.2px,#222222 109.8px,#353535 111px,#707070 114.2px,#888888 116px,#969696 118px,#9a9a9a 120.8px,#979797 123.5px,#898989 125.5px,#6f6f6f 127.5px,#383838 130.5px,#212121 132px,#0e0e0e 133.8px,#050505 135.5px,#000000 140px,#020202 164px,#0b0b0b 166.5px,#1c1c1c 168.5px,#353535 170.2px,#737373 174px,#8b8b8b 176px,#989898 178.2px,#9b9b9b 181px,#999999 183.5px,#8e8e8e 185.5px,#777777 187.5px,#2f2f2f 191.8px,#181818 193.5px,#070707 195.8px,#010101 198.8px,#000000 420px)"></i>
<i style="top:34px;background:linear-gradient(90deg,#000000 0px,#000000 37.5px,#060606 43.2px,#121212 45.8px,#282828 48.2px,#434343 50.2px,#818181 54.2px,#9a9a9a 56.2px,#a8a8a8 58.2px,#ababab 60.2px,#a7a7a7 62.2px,#979797 64.2px,#7d7d7d 66px,#373737 70px,#181818 72.5px,#070707 75.2px,#010101 79px,#000000 102px,#060606 106px,#111111 107.8px,#222222 109.2px,#363636 110.5px,#717171 113.8px,#888888 115.5px,#969696 117.5px,#999999 120px,#979797 122.8px,#919191 124px,#888888 125px,#717171 126.8px,#363636 130px,#1f1f1f 131.5px,#0f0f0f 133px,#050505 134.8px,#000000 139px,#020202 163px,#0b0b0b 165.5px,#1c1c1c 167.5px,#343434 169.2px,#727272 173px,#8b8b8b 175px,#989898 177.2px,#9b9b9b 180px,#989898 182.8px,#8d8d8d 184.8px,#757575 186.8px,#313131 190.8px,#171717 192.8px,#070707 195px,#010101 198px,#000000 420px)"></i>
<i style="top:35px;background:linear-gradient(90deg,#000000 0px,#000000 37.2px,#060606 43px,#121212 45.5px,#282828 48px,#434343 50px,#818181 54px,#9a9a9a 56px,#a7a7a7 58px,#ababab 60px,#a7a7a7 62px,#969696 64px,#7c7c7c 65.8px,#363636 69.8px,#171717 72.2px,#070707 75px,#010101 78.8px,#000000 101.5px,#050505 105.2px,#0f0f0f 107px,#1f1f1f 108.5px,#363636 110px,#717171 113.2px,#888888 115px,#969696 117px,#999999 119.5px,#969696 122.2px,#898989 124.2px,#6f6f6f 126.2px,#353535 129.5px,#1e1e1e 131px,#0e0e0e 132.5px,#050505 134.2px,#000000 138.5px,#020202 162px,#0a0a0a 164.5px,#1b1b1b 166.5px,#323232 168.2px,#757575 172.2px,#8c8c8c 174.2px,#999999 176.5px,#9c9c9c 179.2px,#999999 181.8px,#8e8e8e 183.8px,#777777 185.8px,#2f2f2f 190px,#181818 191.8px,#070707 194px,#010101 197px,#000000 420px)"></i>
<i style="top:36px;background:linear-gradient(90deg,#000000 0px,#000000 37px,#060606 42.8px,#121212 45.2px,#262626 47.5px,#3f3f3f 49.5px,#828282 53.8px,#9a9a9a 55.8px,#a7a7a7 57.8px,#aaaaaa 59.8px,#a6a6a6 61.8px,#959595 63.8px,#7b7b7b 65.5px,#353535 69.5px,#242424 70.8px,#171717 72px,#060606 74.8px,#010101 78.5px,#000000 101px,#050505 104.8px,#0f0f0f 106.5px,#1f1f1f 108px,#373737 109.5px,#6e6e6e 112.5px,#868686 114.2px,#959595 116.2px,#989898 118.8px,#959595 121.8px,#888888 123.8px,#717171 125.5px,#333333 129px,#202020 130.2px,#101010 131.8px,#050505 133.5px,#000000 137.8px,#020202 161.2px,#0b0b0b 163.8px,#1d1d1d 165.8px,#353535 167.5px,#737373 171.2px,#8c8c8c 173.2px,#999999 175.5px,#9c9c9c 178.2px,#999999 181px,#8e8e8e 183px,#767676 185px,#323232 189px,#171717 191px,#070707 193.2px,#010101 196.2px,#000000 420px)"></i>
<i style="top:37px;background:linear-gradient(90deg,#000000 0px,#000000 36.8px,#060606 42.5px,#121212 45px,#262626 47.2px,#404040 49.2px,#828282 53.5px,#999999 55.5px,#a7a7a7 57.5px,#aaaaaa 59.5px,#a5a5a5 61.5px,#949494 63.5px,#7a7a7a 65.2px,#383838 69px,#181818 71.5px,#0e0e0e 72.8px,#070707 74.2px,#010101 78px,#000000 100.5px,#050505 104.2px,#0f0f0f 106px,#202020 107.5px,#333333 108.8px,#6e6e6e 112px,#868686 113.8px,#949494 115.8px,#989898 118.2px,#959595 121px,#8f8f8f 122.2px,#868686 123.2px,#6f6f6f 125px,#353535 128.2px,#1f1f1f 129.8px,#0f0f0f 131.2px,#050505 133px,#000000 137.2px,#020202 160.2px,#0b0b0b 162.8px,#1c1c1c 164.8px,#343434 166.5px,#767676 170.5px,#8d8d8d 172.5px,#9a9a9a 174.8px,#9c9c9c 177.5px,#9a9a9a 180px,#8f8f8f 182px,#787878 184px,#303030 188.2px,#181818 190px,#070707 192.2px,#010101 195.2px,#000000 420px)"></i>
<i style="top:38px;background:linear-gradient(90deg,#000000 0px,#000000 36.5px,#060606 42.2px,#121212 44.8px,#262626 47px,#404040 49px,#828282 53.2px,#999999 55.2px,#a6a6a6 57.2px,#a9a9a9 59.2px,#a5a5a5 61.2px,#939393 63.2px,#7d7d7d 64.8px,#373737 68.8px,#181818 71.2px,#070707 74px,#010101 77.8px,#000000 100px,#050505 103.8px,#0f0f0f 105.5px,#202020 107px,#333333 108.2px,#6f6f6f 111.5px,#868686 113.2px,#949494 115.2px,#979797 117.8px,#949494 120.5px,#878787 122.5px,#6d6d6d 124.5px,#343434 127.8px,#202020 129px,#101010 130.5px,#050505 132.2px,#000000 136.5px,#020202 159.2px,#0a0a0a 161.8px,#1b1b1b 163.8px,#323232 165.5px,#757575 169.5px,#8c8c8c 171.5px,#9a9a9a 173.8px,#9d9d9d 176.5px,#9a9a9a 179.2px,#8e8e8e 181.2px,#767676 183.2px,#323232 187.2px,#171717 189.2px,#070707 191.5px,#010101 194.5px,#000000 420px)"></i>
<i style="top:39px;background:linear-gradient(90deg,#000000 0px,#000000 36.2px,#060606 42px,#121212 44.5px,#252525 46.8px,#404040 48.8px,#828282 53px,#999999 55px,#a6a6a6 57px,#a9a9a9 59px,#a4a4a4 61px,#959595 62.8px,#7c7c7c 64.5px,#363636 68.5px,#171717 71px,#070707 73.8px,#010101 77.5px,#000000 99.5px,#050505 103.2px,#0f0f0f 105px,#202020 106.5px,#343434 107.8px,#6f6f6f 111px,#868686 112.8px,#949494 114.8px,#979797 117px,#939393 120px,#868686 122px,#6f6f6f 123.8px,#363636 127px,#1f1f1f 128.5px,#0f0f0f 130px,#050505 131.8px,#000000 136px,#020202 158.5px,#0b0b0b 161px,#1d1d1d 163px,#353535 164.8px,#737373 168.5px,#8e8e8e 170.8px,#9a9a9a 173px,#9d9d9d 175.8px,#9a9a9a 178.2px,#909090 180.2px,#757575 182.5px,#303030 186.5px,#191919 188.2px,#0d0d0d 189.5px,#070707 190.8px,#010101 193.8px,#000000 420px)"></i>
<i style="top:40px;background:linear-gradient(90deg,#000000 0px,#000000 36px,#060606 41.8px,#121212 44.2px,#252525 46.5px,#404040 48.5px,#828282 52.8px,#979797 54.5px,#a5a5a5 56.5px,#a9a9a9 58.5px,#a5a5a5 60.5px,#949494 62.5px,#7b7b7b 64.2px,#353535 68.2px,#171717 70.8px,#070707 73.2px,#010101 76.8px,#000000 99px,#050505 102.8px,#101010 104.5px,#212121 106px,#343434 107.2px,#6c6c6c 110.2px,#848484 112px,#939393 114px,#969696 116.5px,#939393 119.2px,#878787 121.2px,#6e6e6e 123.2px,#343434 126.5px,#1e1e1e 128px,#0e0e0e 129.5px,#050505 131.2px,#000000 135.5px,#020202 157.5px,#0b0b0b 160px,#1c1c1c 162px,#343434 163.8px,#767676 167.8px,#8d8d8d 169.8px,#9a9a9a 172px,#9d9d9d 174.8px,#9a9a9a 177.5px,#8f8f8f 179.5px,#777777 181.5px,#323232 185.5px,#1a1a1a 187.2px,#080808 189.5px,#010101 192.2px,#010101 329.8px,#080808 333.2px,#0f0f0f 334.5px,#1b1b1b 335.8px,#2a2a2a 337px,#3f3f3f 338.2px,#979797 342.5px,#b8b8b8 344.5px,#c4c4c4 345.5px,#cecece 346.8px,#d4d4d4 348px,#d6d6d6 349.5px,#000000 349.8px,#000000 420px)"></i>
<i style="top:41px;background:linear-gradient(90deg,#000000 0px,#000000 35.8px,#060606 41.5px,#111111 44px,#252525 46.2px,#404040 48.2px,#828282 52.5px,#979797 54.2px,#a5a5a5 56.2px,#a8a8a8 58.2px,#a4a4a4 60.2px,#939393 62.2px,#797979 64px,#343434 68px,#181818 70.2px,#0f0f0f 71.5px,#070707 73px,#010101 76.5px,#000000 98.5px,#050505 102.2px,#101010 104px,#212121 105.5px,#353535 106.8px,#6c6c6c 109.8px,#848484 111.5px,#929292 113.5px,#969696 116px,#939393 118.8px,#868686 120.8px,#6c6c6c 122.8px,#373737 125.8px,#202020 127.2px,#0f0f0f 128.8px,#050505 130.5px,#000000 134.8px,#020202 156.5px,#0a0a0a 159px,#1b1b1b 161px,#323232 162.8px,#757575 166.8px,#8d8d8d 168.8px,#9a9a9a 171px,#9e9e9e 174px,#9a9a9a 176.8px,#8e8e8e 178.8px,#757575 180.8px,#313131 184.8px,#191919 186.5px,#080808 188.8px,#010101 191.2px,#010101 328px,#070707 331.2px,#191919 333.8px,#282828 335px,#3c3c3c 336.2px,#9d9d9d 341px,#bdbdbd 343px,#c8c8c8 344px,#d1d1d1 345.2px,#d5d5d5 346.5px,#d7d7d7 348.2px,#d6d6d6 349.5px,#000000 349.8px,#000000 420px)"></i>
<i style="top:42px;background:linear-gradient(90deg,#000000 0px,#000000 35.5px,#060606 41.2px,#111111 43.8px,#252525 46px,#404040 48px,#7e7e7e 52px,#979797 54px,#a4a4a4 56px,#a8a8a8 58px,#a3a3a3 60px,#929292 62px,#787878 63.8px,#373737 67.5px,#181818 70px,#080808 72.5px,#010101 76px,#000000 98px,#050505 101.8px,#0e0e0e 103.2px,#1e1e1e 104.8px,#353535 106.2px,#6d6d6d 109.2px,#848484 111px,#929292 113px,#959595 115.2px,#939393 118px,#848484 120.2px,#6e6e6e 122px,#353535 125.2px,#1e1e1e 126.8px,#0f0f0f 128.2px,#050505 130px,#000000 134.2px,#020202 155.8px,#0b0b0b 158.2px,#1d1d1d 160.2px,#353535 162px,#777777 166px,#8e8e8e 168px,#9b9b9b 170.2px,#9e9e9e 173px,#9b9b9b 175.8px,#8f8f8f 177.8px,#777777 179.8px,#333333 183.8px,#1b1b1b 185.5px,#080808 187.8px,#010101 190.5px,#010101 326px,#080808 329.5px,#191919 332px,#292929 333.2px,#3d3d3d 334.5px,#999999 339px,#bbbbbb 341px,#c9c9c9 342.2px,#d2d2d2 343.5px,#d7d7d7 346.5px,#d2d2d2 349.5px,#000000 349.8px,#000000 420px)"></i>
<i style="top:43px;background:linear-gradient(90deg,#000000 0px,#000000 35.2px,#060606 41px,#111111 43.5px,#252525 45.8px,#404040 47.8px,#7e7e7e 51.8px,#979797 53.8px,#a4a4a4 55.8px,#a7a7a7 57.8px,#a3a3a3 59.8px,#919191 61.8px,#7b7b7b 63.2px,#363636 67.2px,#171717 69.8px,#080808 72.2px,#010101 75.8px,#000000 97.5px,#050505 101.2px,#0e0e0e 102.8px,#1e1e1e 104.2px,#323232 105.5px,#6d6d6d 108.8px,#858585 110.5px,#919191 112.2px,#959595 114.8px,#929292 117.5px,#838383 119.8px,#6c6c6c 121.5px,#333333 124.8px,#202020 126px,#101010 127.5px,#050505 129.2px,#000000 133.5px,#020202 154.8px,#0b0b0b 157.2px,#1c1c1c 159.2px,#343434 161px,#767676 165px,#8e8e8e 167px,#9b9b9b 169.2px,#9e9e9e 172.2px,#9b9b9b 175px,#8f8f8f 177px,#767676 179px,#313131 183px,#191919 184.8px,#080808 187px,#010101 189.5px,#010101 324.2px,#080808 327.8px,#1a1a1a 330.2px,#292929 331.5px,#3e3e3e 332.8px,#9b9b9b 337.2px,#bcbcbc 339.2px,#cacaca 340.5px,#d3d3d3 341.8px,#d8d8d8 344.8px,#d3d3d3 347.5px,#c4c4c4 349.5px,#000000 349.8px,#000000 420px)"></i>
<i style="top:44px;background:linear-gradient(90deg,#000000 0px,#000000 35px,#060606 40.8px,#111111 43.2px,#252525 45.5px,#404040 47.5px,#7e7e7e 51.5px,#969696 53.5px,#a4a4a4 55.5px,#a7a7a7 57.5px,#a2a2a2 59.5px,#939393 61.2px,#7a7a7a 63px,#353535 67px,#171717 69.5px,#070707 72px,#010101 75.5px,#000000 97px,#050505 100.8px,#0e0e0e 102.2px,#1f1f1f 103.8px,#323232 105px,#696969 108px,#828282 109.8px,#919191 111.8px,#949494 114.2px,#919191 117px,#848484 119px,#6e6e6e 120.8px,#313131 124.2px,#1f1f1f 125.5px,#0f0f0f 127px,#050505 128.8px,#000000 133px,#020202 153.8px,#0a0a0a 156.2px,#1b1b1b 158.2px,#323232 160px,#757575 164px,#8f8f8f 166.2px,#9c9c9c 168.5px,#9f9f9f 171.2px,#9c9c9c 174px,#909090 176px,#787878 178px,#333333 182px,#1b1b1b 183.8px,#090909 186px,#010101 188.8px,#010101 322.5px,#080808 326px,#0f0f0f 327.2px,#1a1a1a 328.5px,#2a2a2a 329.8px,#3f3f3f 331px,#9c9c9c 335.5px,#bdbdbd 337.5px,#cbcbcb 338.8px,#d3d3d3 340px,#d9d9d9 343px,#d7d7d7 345px,#d0d0d0 346.5px,#c2c2c2 348px,#acacac 349.5px,#000000 349.8px,#000000 420px)"></i>
<i style="top:45px;background:linear-gradient(90deg,#000000 0px,#000000 35px,#060606 40.5px,#111111 43px,#252525 45.2px,#404040 47.2px,#7e7e7e 51.2px,#969696 53.2px,#a2a2a2 55px,#a6a6a6 57px,#a3a3a3 59px,#929292 61px,#797979 62.8px,#343434 66.8px,#161616 69.2px,#070707 71.8px,#010101 75.2px,#000000 96.5px,#050505 100.2px,#0e0e0e 101.8px,#1f1f1f 103.2px,#333333 104.5px,#6a6a6a 107.5px,#828282 109.2px,#909090 111.2px,#939393 113.5px,#919191 116.2px,#838383 118.5px,#6c6c6c 120.2px,#212121 124.8px,#101010 126.2px,#060606 128px,#000000 132.2px,#020202 153px,#0c0c0c 155.5px,#1d1d1d 157.5px,#353535 159.2px,#777777 163.2px,#8f8f8f 165.2px,#9c9c9c 167.5px,#9f9f9f 170.5px,#9c9c9c 173.2px,#8f8f8f 175.2px,#767676 177.2px,#323232 181.2px,#1a1a1a 183px,#080808 185.2px,#010101 187.8px,#010101 320.8px,#070707 324px,#181818 326.5px,#282828 327.8px,#3c3c3c 329px,#9d9d9d 333.8px,#bebebe 335.8px,#cccccc 337px,#d4d4d4 338.2px,#d9d9d9 341.2px,#d7d7d7 343.5px,#cacaca 345.5px,#b0b0b0 347.5px,#8a8a8a 349.5px,#000000 349.8px,#000000 420px)"></i>
<i style="top:46px;background:linear-gradient(90deg,#000000 0px,#000000 34.8px,#060606 40.2px,#111111 42.8px,#252525 45px,#404040 47px,#7e7e7e 51px,#969696 53px,#a2a2a2 54.8px,#a6a6a6 56.8px,#a2a2a2 58.8px,#919191 60.8px,#787878 62.5px,#333333 66.5px,#181818 68.8px,#080808 71.2px,#010101 74.8px,#000000 96px,#050505 99.8px,#0e0e0e 101.2px,#1f1f1f 102.8px,#333333 104px,#6a6a6a 107px,#828282 108.8px,#8f8f8f 110.5px,#939393 113px,#909090 115.8px,#848484 117.8px,#6a6a6a 119.8px,#323232 123px,#1f1f1f 124.2px,#0f0f0f 125.8px,#050505 127.5px,#000000 131.8px,#020202 152px,#0b0b0b 154.5px,#1c1c1c 156.5px,#343434 158.2px,#767676 162.2px,#8e8e8e 164.2px,#9c9c9c 166.5px,#9f9f9f 169.5px,#9c9c9c 172.2px,#919191 174.2px,#797979 176.2px,#343434 180.2px,#1b1b1b 182px,#090909 184.2px,#010101 187px,#010101 319px,#080808 322.2px,#191919 324.8px,#282828 326px,#3d3d3d 327.2px,#9f9f9f 332px,#bfbfbf 334px,#cbcbcb 335px,#d4d4d4 336.2px,#d9d9d9 337.5px,#dadada 339.2px,#d7d7d7 341.8px,#cdcdcd 343.5px,#b4b4b4 345.5px,#909090 347.5px,#656565 349.5px,#000000 349.8px,#000000 420px)"></i>
<i style="top:47px;background:linear-gradient(90deg,#000000 0px,#000000 34.5px,#060606 40px,#111111 42.5px,#262626 44.8px,#404040 46.8px,#7e7e7e 50.8px,#949494 52.5px,#a2a2a2 54.5px,#a5a5a5 56.5px,#a1a1a1 58.5px,#909090 60.5px,#777777 62.2px,#363636 66px,#171717 68.5px,#080808 71px,#010101 74.5px,#000000 95.5px,#060606 99.2px,#0f0f0f 100.8px,#202020 102.2px,#343434 103.5px,#6b6b6b 106.5px,#838383 108.2px,#8f8f8f 110px,#929292 112.5px,#8f8f8f 115.2px,#828282 117.2px,#6c6c6c 119px,#343434 122.2px,#1e1e1e 123.8px,#0e0e0e 125.2px,#060606 126.8px,#000000 131px,#020202 151px,#0a0a0a 153.5px,#1e1e1e 155.8px,#363636 157.5px,#777777 161.5px,#8f8f8f 163.5px,#9c9c9c 165.8px,#9f9f9f 168.8px,#9b9b9b 171.5px,#8f8f8f 173.5px,#767676 175.5px,#313131 179.5px,#1a1a1a 181.2px,#080808 183.5px,#010101 186px,#010101 317px,#080808 320.5px,#1a1a1a 323px,#292929 324.2px,#3e3e3e 325.5px,#a0a0a0 330.2px,#c0c0c0 332.2px,#cccccc 333.2px,#d5d5d5 334.5px,#d9d9d9 335.8px,#dbdbdb 337.5px,#d9d9d9 339.5px,#d1d1d1 341.2px,#c3c3c3 342.8px,#a8a8a8 344.5px,#414141 349.5px,#000000 349.8px,#000000 420px)"></i>
<i style="top:48px;background:linear-gradient(90deg,#000000 0px,#000000 34.2px,#060606 39.8px,#121212 42.2px,#262626 44.5px,#404040 46.5px,#7f7f7f 50.5px,#949494 52.2px,#a2a2a2 54.2px,#a5a5a5 56.2px,#a1a1a1 58.2px,#8f8f8f 60.2px,#797979 61.8px,#353535 65.8px,#171717 68.2px,#070707 70.8px,#010101 74.2px,#000000 94.8px,#050505 98.5px,#0e0e0e 100px,#1e1e1e 101.5px,#313131 102.8px,#686868 105.8px,#818181 107.5px,#8f8f8f 109.5px,#929292 111.8px,#8f8f8f 114.5px,#818181 116.8px,#6a6a6a 118.5px,#323232 121.8px,#1f1f1f 123px,#0f0f0f 124.5px,#050505 126.2px,#000000 130.5px,#020202 150.2px,#0b0b0b 152.8px,#1c1c1c 154.8px,#333333 156.5px,#757575 160.5px,#8d8d8d 162.5px,#9a9a9a 164.8px,#9e9e9e 167.8px,#9b9b9b 170.5px,#8f8f8f 172.5px,#777777 174.5px,#323232 178.5px,#1a1a1a 180.2px,#080808 182.5px,#010101 185.2px,#010101 315.2px,#080808 318.8px,#0f0f0f 320px,#1a1a1a 321.2px,#2a2a2a 322.5px,#3f3f3f 323.8px,#9c9c9c 328.2px,#bebebe 330.2px,#cdcdcd 331.5px,#d6d6d6 332.8px,#dadada 334px,#dcdcdc 335.8px,#dadada 337.8px,#d3d3d3 339.2px,#c6c6c6 340.8px,#b5b5b5 342px,#959595 343.8px,#464646 347.5px,#252525 349.5px,#000000 349.8px,#000000 420px)"></i>
<i style="top:49px;background:linear-gradient(90deg,#000000 0px,#000000 34px,#060606 39.5px,#121212 42px,#262626 44.2px,#414141 46.2px,#7b7b7b 50px,#949494 52px,#a1a1a1 54px,#a4a4a4 56px,#a0a0a0 58px,#919191 59.8px,#787878 61.5px,#343434 65.5px,#181818 67.8px,#080808 70.2px,#010101 73.8px,#000000 94.2px,#050505 98px,#0f0f0f 99.5px,#1f1f1f 101px,#333333 102.2px,#6a6a6a 105.2px,#818181 107px,#8e8e8e 108.8px,#919191 111.2px,#8e8e8e 114px,#828282 116px,#6c6c6c 117.8px,#202020 122.2px,#101010 123.8px,#050505 125.5px,#000000 129.8px,#020202 149.5px,#0b0b0b 152px,#1d1d1d 154px,#343434 155.8px,#767676 159.8px,#8d8d8d 161.8px,#9a9a9a 164px,#9d9d9d 166.8px,#9a9a9a 169.5px,#8f8f8f 171.5px,#787878 173.5px,#303030 177.8px,#181818 179.5px,#090909 181.5px,#010101 184.2px,#010101 313.5px,#080808 317px,#101010 318.2px,#1b1b1b 319.5px,#2b2b2b 320.8px,#404040 322px,#9e9e9e 326.5px,#bfbfbf 328.5px,#cecece 329.8px,#d7d7d7 331px,#dbdbdb 332.2px,#dcdcdc 334px,#dbdbdb 335.8px,#d5d5d5 337.2px,#cccccc 338.5px,#bdbdbd 339.8px,#9f9f9f 341.5px,#545454 345px,#383838 346.5px,#212121 348px,#121212 349.5px,#000000 349.8px,#000000 420px)"></i>
<i style="top:50px;background:linear-gradient(90deg,#000000 0px,#000000 33.8px,#060606 39.2px,#121212 41.8px,#272727 44px,#414141 46px,#7b7b7b 49.8px,#949494 51.8px,#a1a1a1 53.8px,#a4a4a4 55.8px,#9f9f9f 57.8px,#909090 59.5px,#777777 61.2px,#333333 65.2px,#171717 67.5px,#070707 70px,#010101 73.5px,#000000 93.5px,#050505 97.2px,#0d0d0d 98.8px,#1d1d1d 100.2px,#303030 101.5px,#6b6b6b 104.8px,#7f7f7f 106.2px,#8e8e8e 108.2px,#919191 110.8px,#8e8e8e 113.5px,#808080 115.5px,#696969 117.2px,#313131 120.5px,#1e1e1e 121.8px,#0f0f0f 123.2px,#060606 124.8px,#000000 128.8px,#020202 148.5px,#0a0a0a 151px,#1b1b1b 153px,#323232 154.8px,#737373 158.8px,#8d8d8d 161px,#999999 163.2px,#9c9c9c 166px,#999999 168.8px,#8d8d8d 170.8px,#757575 172.8px,#313131 176.8px,#191919 178.5px,#080808 180.8px,#010101 183.2px,#010101 311.8px,#090909 315.2px,#101010 316.5px,#1c1c1c 317.8px,#2c2c2c 319px,#414141 320.2px,#9f9f9f 324.8px,#c1c1c1 326.8px,#cfcfcf 328px,#d7d7d7 329.2px,#dddddd 332.2px,#d7d7d7 335.2px,#cfcfcf 336.5px,#c4c4c4 337.5px,#a4a4a4 339.5px,#4f4f4f 343.5px,#303030 345.2px,#161616 347.2px,#070707 349.5px,#000000 349.8px,#000000 420px)"></i>
<i style="top:51px;background:linear-gradient(90deg,#000000 0px,#000000 33.5px,#060606 39px,#121212 41.5px,#272727 43.8px,#3e3e3e 45.5px,#7c7c7c 49.5px,#939393 51.5px,#a0a0a0 53.2px,#a3a3a3 55.2px,#a0a0a0 57.2px,#8f8f8f 59.2px,#767676 61px,#353535 64.8px,#171717 67.2px,#070707 69.8px,#010101 73.2px,#000000 93px,#050505 96.8px,#0e0e0e 98.2px,#1e1e1e 99.8px,#323232 101px,#686868 104px,#808080 105.8px,#8c8c8c 107.5px,#909090 110px,#8e8e8e 112.8px,#818181 114.8px,#6b6b6b 116.5px,#202020 121px,#0f0f0f 122.5px,#050505 124.2px,#000000 128.5px,#020202 147.8px,#0b0b0b 150.2px,#1c1c1c 152.2px,#333333 154px,#747474 158px,#8b8b8b 160px,#989898 162.2px,#9b9b9b 165px,#989898 167.8px,#8d8d8d 169.8px,#757575 171.8px,#323232 175.8px,#1a1a1a 177.5px,#080808 179.8px,#010101 182.2px,#010101 310px,#080808 313.2px,#1a1a1a 315.8px,#292929 317px,#3d3d3d 318.2px,#a1a1a1 323px,#c2c2c2 325px,#d0d0d0 326.2px,#d8d8d8 327.5px,#dedede 330.5px,#d9d9d9 333.2px,#d1d1d1 334.5px,#c7c7c7 335.5px,#a8a8a8 337.5px,#4a4a4a 342px,#282828 344px,#191919 345.2px,#0e0e0e 346.5px,#000000 349.8px,#000000 420px)"></i>
<i style="top:52px;background:linear-gradient(90deg,#000000 0px,#000000 33.2px,#060606 38.8px,#121212 41.2px,#272727 43.5px,#3e3e3e 45.2px,#7c7c7c 49.2px,#919191 51px,#9f9f9f 53px,#a3a3a3 55px,#9f9f9f 57px,#8e8e8e 59px,#787878 60.5px,#343434 64.5px,#161616 67px,#070707 69.5px,#010101 72.8px,#000000 92.5px,#060606 96.2px,#0f0f0f 97.8px,#202020 99.2px,#696969 103.5px,#808080 105.2px,#8c8c8c 107px,#909090 109.5px,#8d8d8d 112.2px,#808080 114.2px,#696969 116px,#303030 119.2px,#1e1e1e 120.5px,#0e0e0e 122px,#050505 123.5px,#000000 127.8px,#020202 147px,#0c0c0c 149.5px,#1d1d1d 151.5px,#353535 153.2px,#717171 157px,#898989 159px,#969696 161.2px,#9a9a9a 164.2px,#979797 167px,#8b8b8b 169px,#727272 171px,#333333 174.8px,#1a1a1a 176.5px,#080808 178.8px,#010101 181.2px,#010101 308px,#080808 311.5px,#1a1a1a 314px,#2a2a2a 315.2px,#3f3f3f 316.5px,#a2a2a2 321.2px,#c3c3c3 323.2px,#d1d1d1 324.5px,#d9d9d9 325.8px,#dedede 328.8px,#dadada 331.5px,#d2d2d2 332.8px,#c7c7c7 333.8px,#bababa 334.8px,#a4a4a4 336px,#4f4f4f 340px,#2c2c2c 342px,#121212 344.2px,#040404 347px,#000000 349.8px,#000000 420px)"></i>
<i style="top:53px;background:linear-gradient(90deg,#000000 0px,#000000 33px,#060606 38.5px,#111111 40.8px,#252525 43px,#3f3f3f 45px,#7c7c7c 49px,#919191 50.8px,#9f9f9f 52.8px,#a2a2a2 54.8px,#9e9e9e 56.8px,#909090 58.5px,#777777 60.2px,#333333 64.2px,#171717 66.5px,#070707 69px,#010101 72.5px,#000000 91.8px,#050505 95.5px,#0e0e0e 97px,#1e1e1e 98.5px,#313131 99.8px,#666666 102.8px,#7e7e7e 104.5px,#8c8c8c 106.5px,#8f8f8f 109px,#8d8d8d 111.5px,#808080 113.5px,#6b6b6b 115.2px,#1f1f1f 119.8px,#0f0f0f 121.2px,#050505 123px,#000000 127px,#020202 146px,#0b0b0b 148.5px,#1b1b1b 150.5px,#323232 152.2px,#727272 156.2px,#898989 158.2px,#969696 160.5px,#999999 163.2px,#969696 166px,#8b8b8b 168px,#737373 170px,#303030 174px,#181818 175.8px,#090909 177.8px,#010101 180.5px,#010101 306.2px,#080808 309.8px,#101010 311px,#1b1b1b 312.2px,#2b2b2b 313.5px,#404040 314.8px,#9e9e9e 319.2px,#c4c4c4 321.5px,#d2d2d2 322.8px,#dadada 324px,#dfdfdf 327px,#dadada 329.8px,#d2d2d2 331px,#c8c8c8 332px,#bababa 333px,#a4a4a4 334.2px,#4f4f4f 338.2px,#2b2b2b 340.2px,#121212 342.5px,#040404 345.2px,#000000 349.8px,#000000 420px)"></i>
<i style="top:54px;background:linear-gradient(90deg,#000000 0px,#000000 32.8px,#060606 38.2px,#111111 40.5px,#252525 42.8px,#3f3f3f 44.8px,#7c7c7c 48.8px,#919191 50.5px,#9f9f9f 52.5px,#a2a2a2 54.5px,#9d9d9d 56.5px,#8f8f8f 58.2px,#767676 60px,#323232 64px,#171717 66.2px,#070707 68.8px,#010101 72px,#000000 91.2px,#060606 95px,#0f0f0f 96.5px,#1f1f1f 98px,#323232 99.2px,#686868 102.2px,#7f7f7f 104px,#8b8b8b 105.8px,#8f8f8f 108.2px,#8c8c8c 111px,#7f7f7f 113px,#686868 114.8px,#303030 118px,#1d1d1d 119.2px,#0e0e0e 120.8px,#050505 122.2px,#000000 126.2px,#020202 145.2px,#0b0b0b 147.8px,#1c1c1c 149.8px,#333333 151.5px,#6f6f6f 155.2px,#898989 157.5px,#959595 159.8px,#989898 162.5px,#959595 165.2px,#888888 167.2px,#707070 169.2px,#313131 173px,#191919 174.8px,#080808 177px,#010101 179.5px,#010101 304.5px,#090909 308px,#101010 309.2px,#1b1b1b 310.5px,#2c2c2c 311.8px,#414141 313px,#a0a0a0 317.5px,#c2c2c2 319.5px,#d0d0d0 320.8px,#dadada 322px,#dedede 323.2px,#e0e0e0 325px,#dbdbdb 328px,#d2d2d2 329.2px,#c8c8c8 330.2px,#a9a9a9 332.2px,#4f4f4f 336.5px,#2b2b2b 338.5px,#121212 340.8px,#040404 343.5px,#000000 349.8px,#000000 420px)"></i>
<i style="top:55px;background:linear-gradient(90deg,#000000 0px,#000000 32.5px,#070707 38px,#111111 40.2px,#252525 42.5px,#3f3f3f 44.5px,#7c7c7c 48.5px,#919191 50.2px,#9e9e9e 52.2px,#a1a1a1 54.2px,#9d9d9d 56.2px,#8d8d8d 58px,#747474 59.8px,#343434 63.5px,#232323 64.8px,#161616 66px,#070707 68.5px,#010101 71.8px,#000000 90.5px,#050505 94.2px,#0d0d0d 95.8px,#1d1d1d 97.2px,#303030 98.5px,#696969 101.8px,#7f7f7f 103.5px,#8b8b8b 105.2px,#8e8e8e 107.8px,#8b8b8b 110.5px,#7d7d7d 112.5px,#666666 114.2px,#323232 117.2px,#1f1f1f 118.5px,#0f0f0f 120px,#060606 121.5px,#000000 125.5px,#020202 144.5px,#0c0c0c 147px,#1d1d1d 149px,#353535 150.8px,#707070 154.5px,#878787 156.5px,#949494 158.8px,#979797 161.5px,#949494 164.2px,#888888 166.2px,#717171 168.2px,#323232 172px,#1a1a1a 173.8px,#080808 176px,#010101 178.5px,#010101 302.8px,#090909 306.2px,#101010 307.5px,#1c1c1c 308.8px,#2d2d2d 310px,#424242 311.2px,#a1a1a1 315.8px,#c3c3c3 317.8px,#d1d1d1 319px,#dbdbdb 320.2px,#dfdfdf 321.5px,#e1e1e1 323.2px,#dddddd 326px,#d5d5d5 327.2px,#cbcbcb 328.2px,#bebebe 329.2px,#a9a9a9 330.5px,#4f4f4f 334.8px,#2b2b2b 336.8px,#1b1b1b 338px,#101010 339.2px,#040404 342px,#000000 347.5px,#000000 420px)"></i>
<i style="top:56px;background:linear-gradient(90deg,#000000 0px,#000000 32px,#060606 37.5px,#111111 40px,#252525 42.2px,#404040 44.2px,#797979 48px,#919191 50px,#9e9e9e 52px,#a1a1a1 54px,#9c9c9c 56px,#8c8c8c 57.8px,#777777 59.2px,#333333 63.2px,#171717 65.5px,#070707 68px,#010101 71.5px,#000000 90px,#050505 93.8px,#0e0e0e 95.2px,#1e1e1e 96.8px,#313131 98px,#666666 101px,#7d7d7d 102.8px,#8b8b8b 104.8px,#8e8e8e 107.2px,#8b8b8b 109.8px,#7e7e7e 111.8px,#686868 113.5px,#2f2f2f 116.8px,#1d1d1d 118px,#0d0d0d 119.5px,#050505 121px,#000000 125px,#020202 143.5px,#0b0b0b 146px,#1b1b1b 148px,#323232 149.8px,#6e6e6e 153.5px,#878787 155.8px,#939393 158px,#969696 160.8px,#929292 163.5px,#868686 165.5px,#6e6e6e 167.5px,#333333 171px,#1a1a1a 172.8px,#080808 175px,#010101 177.5px,#010101 301px,#080808 304.2px,#1a1a1a 306.8px,#2a2a2a 308px,#3e3e3e 309.2px,#a2a2a2 314px,#c4c4c4 316px,#d3d3d3 317.2px,#dbdbdb 318.5px,#e0e0e0 319.8px,#e1e1e1 321.5px,#dddddd 324.2px,#d5d5d5 325.5px,#cccccc 326.5px,#bebebe 327.5px,#a9a9a9 328.8px,#4f4f4f 333px,#2b2b2b 335px,#1b1b1b 336.2px,#101010 337.5px,#040404 340.2px,#000000 345.8px,#000000 420px)"></i>
<i style="top:57px;background:linear-gradient(90deg,#000000 0px,#000000 31.8px,#060606 37.2px,#121212 39.8px,#262626 42px,#3c3c3c 43.8px,#797979 47.8px,#919191 49.8px,#9d9d9d 51.5px,#a0a0a0 53.5px,#9c9c9c 55.5px,#8b8b8b 57.5px,#767676 59px,#323232 63px,#171717 65.2px,#070707 67.8px,#010101 71px,#000000 89.5px,#060606 93.2px,#0f0f0f 94.8px,#1f1f1f 96.2px,#676767 100.5px,#7e7e7e 102.2px,#8a8a8a 104px,#8d8d8d 106.5px,#8a8a8a 109.2px,#7d7d7d 111.2px,#666666 113px,#313131 116px,#1e1e1e 117.2px,#0e0e0e 118.8px,#050505 120.2px,#000000 124.2px,#020202 142.8px,#0b0b0b 145.2px,#1c1c1c 147.2px,#333333 149px,#6e6e6e 152.8px,#858585 154.8px,#929292 157px,#959595 159.8px,#929292 162.5px,#868686 164.5px,#6e6e6e 166.5px,#303030 170.2px,#181818 172px,#090909 174px,#010101 176.8px,#010101 299px,#080808 302.5px,#0f0f0f 303.8px,#1b1b1b 305px,#2b2b2b 306.2px,#3f3f3f 307.5px,#a4a4a4 312.2px,#c5c5c5 314.2px,#d4d4d4 315.5px,#dcdcdc 316.8px,#e2e2e2 319.8px,#dedede 322.5px,#d6d6d6 323.8px,#cccccc 324.8px,#bfbfbf 325.8px,#a9a9a9 327px,#4e4e4e 331.2px,#2b2b2b 333.2px,#1b1b1b 334.5px,#101010 335.8px,#040404 338.5px,#000000 344px,#000000 420px)"></i>
<i style="top:58px;background:linear-gradient(90deg,#000000 0px,#000000 31.5px,#060606 37px,#121212 39.5px,#262626 41.8px,#3d3d3d 43.5px,#797979 47.5px,#8e8e8e 49.2px,#9c9c9c 51.2px,#a0a0a0 53.2px,#9c9c9c 55.2px,#8d8d8d 57px,#757575 58.8px,#313131 62.8px,#161616 65px,#070707 67.5px,#010101 70.8px,#000000 88.8px,#050505 92.5px,#0e0e0e 94px,#1d1d1d 95.5px,#303030 96.8px,#646464 99.8px,#7c7c7c 101.5px,#898989 103.5px,#8d8d8d 106px,#8a8a8a 108.5px,#7e7e7e 110.5px,#676767 112.2px,#1f1f1f 116.5px,#0f0f0f 118px,#060606 119.5px,#000000 123.5px,#020202 142px,#0a0a0a 144.2px,#1a1a1a 146.2px,#313131 148px,#6f6f6f 152px,#858585 154px,#919191 156.2px,#949494 159px,#919191 161.5px,#868686 163.5px,#6f6f6f 165.5px,#313131 169.2px,#191919 171px,#080808 173.2px,#010101 175.8px,#010101 297.2px,#090909 300.8px,#101010 302px,#1b1b1b 303.2px,#2c2c2c 304.5px,#414141 305.8px,#a5a5a5 310.5px,#c7c7c7 312.5px,#d5d5d5 313.8px,#dddddd 315px,#e3e3e3 318px,#dedede 320.8px,#d6d6d6 322px,#cccccc 323px,#bfbfbf 324px,#a9a9a9 325.2px,#4e4e4e 329.5px,#2b2b2b 331.5px,#1b1b1b 332.8px,#101010 334px,#030303 336.8px,#000000 342.2px,#000000 420px)"></i>
<i style="top:59px;background:linear-gradient(90deg,#000000 0px,#000000 31.2px,#060606 36.8px,#101010 39px,#242424 41.2px,#3d3d3d 43.2px,#797979 47.2px,#8e8e8e 49px,#9c9c9c 51px,#9f9f9f 53px,#9b9b9b 55px,#8c8c8c 56.8px,#737373 58.5px,#333333 62.2px,#171717 64.5px,#070707 67px,#010101 70.2px,#000000 88.2px,#060606 92px,#0f0f0f 93.5px,#1f1f1f 95px,#656565 99.2px,#7c7c7c 101px,#898989 103px,#8c8c8c 105.5px,#898989 108px,#7c7c7c 110px,#656565 111.8px,#303030 114.8px,#1d1d1d 116px,#0e0e0e 117.5px,#050505 119px,#000000 123px,#020202 141px,#0b0b0b 143.5px,#1b1b1b 145.5px,#323232 147.2px,#6d6d6d 151px,#838383 153px,#909090 155.2px,#939393 158px,#909090 160.8px,#848484 162.8px,#6c6c6c 164.8px,#323232 168.2px,#1a1a1a 170px,#080808 172.2px,#010101 174.8px,#010101 295.5px,#090909 299px,#101010 300.2px,#1c1c1c 301.5px,#2c2c2c 302.8px,#424242 304px,#a2a2a2 308.5px,#c8c8c8 310.8px,#d6d6d6 312px,#dedede 313.2px,#e3e3e3 316.2px,#dfdfdf 319px,#d7d7d7 320.2px,#cdcdcd 321.2px,#bfbfbf 322.2px,#a9a9a9 323.5px,#4e4e4e 327.8px,#2b2b2b 329.8px,#1b1b1b 331px,#0f0f0f 332.2px,#030303 335px,#000000 340.5px,#000000 420px)"></i>
<i style="top:60px;background:linear-gradient(90deg,#000000 0px,#000000 31px,#060606 36.5px,#101010 38.8px,#242424 41px,#3d3d3d 43px,#7a7a7a 47px,#8e8e8e 48.8px,#9c9c9c 50.8px,#9f9f9f 52.8px,#9a9a9a 54.8px,#8b8b8b 56.5px,#767676 58px,#323232 62px,#171717 64.2px,#070707 66.8px,#010101 70px,#000000 87.8px,#060606 91.5px,#0f0f0f 93px,#202020 94.5px,#636363 98.5px,#7a7a7a 100.2px,#888888 102.2px,#8c8c8c 104.8px,#898989 107.2px,#7d7d7d 109.2px,#676767 111px,#1f1f1f 115.2px,#0e0e0e 116.8px,#050505 118.2px,#000000 122.2px,#020202 140.2px,#0a0a0a 142.5px,#1a1a1a 144.5px,#303030 146.2px,#6e6e6e 150.2px,#838383 152.2px,#8f8f8f 154.5px,#919191 157.2px,#8f8f8f 159.8px,#848484 161.8px,#6d6d6d 163.8px,#2f2f2f 167.5px,#181818 169.2px,#080808 171.2px,#010101 173.8px,#010101 293.8px,#080808 297px,#1a1a1a 299.5px,#2a2a2a 300.8px,#3e3e3e 302px,#a3a3a3 306.8px,#c9c9c9 309px,#d7d7d7 310.2px,#dfdfdf 311.5px,#e4e4e4 314.5px,#dfdfdf 317.2px,#d7d7d7 318.5px,#cdcdcd 319.5px,#bfbfbf 320.5px,#a9a9a9 321.8px,#4e4e4e 326px,#2a2a2a 328px,#1b1b1b 329.2px,#0f0f0f 330.5px,#030303 333.2px,#000000 338.8px,#000000 420px)"></i>
<i style="top:61px;background:linear-gradient(90deg,#000000 0px,#000000 30.8px,#060606 36.2px,#111111 38.5px,#242424 40.8px,#3e3e3e 42.8px,#7a7a7a 46.8px,#8e8e8e 48.5px,#9b9b9b 50.5px,#9e9e9e 52.5px,#999999 54.5px,#8a8a8a 56.2px,#757575 57.8px,#313131 61.8px,#161616 64px,#070707 66.5px,#010101 69.8px,#000000 87px,#050505 90.8px,#0e0e0e 92.2px,#1e1e1e 93.8px,#303030 95px,#646464 98px,#7b7b7b 99.8px,#888888 101.8px,#8b8b8b 104.2px,#898989 106.8px,#7c7c7c 108.8px,#656565 110.5px,#303030 113.5px,#1d1d1d 114.8px,#0f0f0f 116px,#060606 117.5px,#000000 121.2px,#020202 139.2px,#0a0a0a 141.8px,#1b1b1b 143.8px,#313131 145.5px,#6b6b6b 149.2px,#818181 151.2px,#8e8e8e 153.5px,#909090 156.2px,#8e8e8e 159px,#828282 161px,#6a6a6a 163px,#303030 166.5px,#181818 168.2px,#090909 170.2px,#010101 173px,#010101 292px,#080808 295.2px,#0f0f0f 296.5px,#1b1b1b 297.8px,#2b2b2b 299px,#3f3f3f 300.2px,#a4a4a4 305px,#c7c7c7 307px,#d5d5d5 308.2px,#dfdfdf 309.5px,#e3e3e3 310.8px,#e5e5e5 312.5px,#e0e0e0 315.5px,#d8d8d8 316.8px,#cdcdcd 317.8px,#bfbfbf 318.8px,#a9a9a9 320px,#4d4d4d 324.2px,#2a2a2a 326.2px,#1a1a1a 327.5px,#0f0f0f 328.8px,#030303 331.5px,#000000 337px,#000000 420px)"></i>
<i style="top:62px;background:linear-gradient(90deg,#000000 0px,#000000 30.5px,#060606 36px,#111111 38.2px,#242424 40.5px,#3e3e3e 42.5px,#777777 46.2px,#8e8e8e 48.2px,#9b9b9b 50.2px,#9e9e9e 52.2px,#999999 54.2px,#898989 56px,#737373 57.5px,#333333 61.2px,#181818 63.5px,#070707 66px,#010101 69.2px,#000000 86.5px,#060606 90.2px,#0f0f0f 91.8px,#1f1f1f 93.2px,#656565 97.5px,#7b7b7b 99.2px,#888888 101.2px,#8b8b8b 103.5px,#898989 106px,#7d7d7d 108px,#666666 109.8px,#1e1e1e 114px,#0e0e0e 115.5px,#050505 117px,#000000 121px,#020202 138.5px,#090909 140.8px,#191919 142.8px,#2f2f2f 144.5px,#6c6c6c 148.5px,#818181 150.5px,#8d8d8d 152.8px,#8f8f8f 155.5px,#8d8d8d 158px,#828282 160px,#6a6a6a 162px,#2d2d2d 165.8px,#161616 167.5px,#080808 169.5px,#010101 172px,#010101 290px,#090909 293.5px,#101010 294.8px,#1b1b1b 296px,#2b2b2b 297.2px,#404040 298.5px,#a6a6a6 303.2px,#c8c8c8 305.2px,#d7d7d7 306.5px,#e0e0e0 307.8px,#e4e4e4 309px,#e6e6e6 310.8px,#e2e2e2 313.5px,#dadada 314.8px,#d0d0d0 315.8px,#c3c3c3 316.8px,#aeaeae 318px,#4d4d4d 322.5px,#2a2a2a 324.5px,#1a1a1a 325.8px,#0f0f0f 327px,#030303 329.8px,#000000 335.2px,#000000 420px)"></i>
<i style="top:63px;background:linear-gradient(90deg,#000000 0px,#000000 30.2px,#060606 35.8px,#111111 38px,#252525 40.2px,#3b3b3b 42px,#777777 46px,#8e8e8e 48px,#9a9a9a 49.8px,#9d9d9d 51.8px,#999999 53.8px,#8b8b8b 55.5px,#727272 57.2px,#323232 61px,#171717 63.2px,#070707 65.8px,#010101 69px,#000000 85.8px,#050505 89.5px,#0e0e0e 91px,#1d1d1d 92.5px,#2f2f2f 93.8px,#626262 96.8px,#797979 98.5px,#878787 100.5px,#8a8a8a 103px,#888888 105.5px,#7b7b7b 107.5px,#646464 109.2px,#2f2f2f 112.2px,#1c1c1c 113.5px,#0f0f0f 114.8px,#050505 116.2px,#000000 120.2px,#020202 137.8px,#0a0a0a 140px,#1a1a1a 142px,#303030 143.8px,#696969 147.5px,#7f7f7f 149.5px,#8c8c8c 151.8px,#8e8e8e 154.5px,#8c8c8c 157px,#828282 159px,#6b6b6b 161px,#2e2e2e 164.8px,#171717 166.5px,#080808 168.5px,#010101 171px,#010101 288.2px,#090909 291.8px,#101010 293px,#1c1c1c 294.2px,#2c2c2c 295.5px,#424242 296.8px,#a7a7a7 301.5px,#c9c9c9 303.5px,#d8d8d8 304.8px,#e1e1e1 306px,#e5e5e5 307.2px,#e6e6e6 309px,#e2e2e2 311.8px,#dadada 313px,#d1d1d1 314px,#c3c3c3 315px,#aeaeae 316.2px,#4d4d4d 320.8px,#2a2a2a 322.8px,#1a1a1a 324px,#0f0f0f 325.2px,#030303 328px,#000000 333.5px,#000000 420px)"></i>
<i style="top:64px;background:linear-gradient(90deg,#000000 0px,#000000 30px,#070707 35.5px,#111111 37.8px,#252525 40px,#3b3b3b 41.8px,#777777 45.8px,#8b8b8b 47.5px,#999999 49.5px,#9d9d9d 51.5px,#989898 53.5px,#8a8a8a 55.2px,#757575 56.8px,#313131 60.8px,#161616 63px,#070707 65.5px,#010101 68.8px,#000000 85.2px,#060606 89px,#0f0f0f 90.5px,#1e1e1e 92px,#636363 96.2px,#7a7a7a 98px,#878787 100px,#8a8a8a 102.5px,#878787 105px,#797979 107px,#626262 108.8px,#313131 111.5px,#1e1e1e 112.8px,#0d0d0d 114.2px,#050505 115.8px,#000000 119.5px,#020202 136.8px,#0a0a0a 139.2px,#1b1b1b 141.2px,#313131 143px,#6a6a6a 146.8px,#7f7f7f 148.8px,#8b8b8b 151px,#8d8d8d 153.8px,#8b8b8b 156.2px,#7f7f7f 158.2px,#686868 160.2px,#2f2f2f 163.8px,#181818 165.5px,#080808 167.5px,#010101 170px,#010101 286.5px,#090909 290px,#111111 291.2px,#1d1d1d 292.5px,#2d2d2d 293.8px,#434343 295px,#a4a4a4 299.5px,#cbcbcb 301.8px,#d9d9d9 303px,#e2e2e2 304.2px,#e7e7e7 307.2px,#e3e3e3 310px,#dbdbdb 311.2px,#d1d1d1 312.2px,#c3c3c3 313.2px,#aeaeae 314.5px,#4d4d4d 319px,#2a2a2a 321px,#1a1a1a 322.2px,#0f0f0f 323.5px,#030303 326.2px,#000000 332px,#000000 420px)"></i>
<i style="top:65px;background:linear-gradient(90deg,#000000 0px,#000000 29.8px,#070707 35.2px,#111111 37.5px,#252525 39.8px,#3c3c3c 41.5px,#777777 45.5px,#8b8b8b 47.2px,#999999 49.2px,#9c9c9c 51.2px,#989898 53.2px,#898989 55px,#737373 56.5px,#303030 60.5px,#151515 62.8px,#060606 65.2px,#010101 68.2px,#000000 84.8px,#060606 88.5px,#0f0f0f 90px,#202020 91.5px,#616161 95.5px,#787878 97.2px,#858585 99.2px,#898989 101.8px,#878787 104.2px,#7a7a7a 106.2px,#646464 108px,#2e2e2e 111px,#1c1c1c 112.2px,#0e0e0e 113.5px,#050505 115px,#000000 118.8px,#020202 136px,#0a0a0a 138.2px,#191919 140.2px,#2f2f2f 142px,#676767 145.8px,#7e7e7e 147.8px,#8a8a8a 150px,#8c8c8c 152.8px,#8a8a8a 155.2px,#7f7f7f 157.2px,#696969 159.2px,#2c2c2c 163px,#161616 164.8px,#070707 166.8px,#010101 169.2px,#010101 284.8px,#080808 288px,#0f0f0f 289.2px,#1b1b1b 290.5px,#2a2a2a 291.8px,#3f3f3f 293px,#a5a5a5 297.8px,#cccccc 300px,#dadada 301.2px,#e2e2e2 302.5px,#e8e8e8 305.5px,#e3e3e3 308.2px,#dbdbdb 309.5px,#d1d1d1 310.5px,#c3c3c3 311.5px,#aeaeae 312.8px,#4c4c4c 317.2px,#292929 319.2px,#1a1a1a 320.5px,#0f0f0f 321.8px,#030303 324.5px,#000000 330.2px,#000000 420px)"></i>
<i style="top:66px;background:linear-gradient(90deg,#000000 0px,#000000 29.5px,#070707 35px,#111111 37.2px,#262626 39.5px,#3c3c3c 41.2px,#777777 45.2px,#8b8b8b 47px,#999999 49px,#9c9c9c 51px,#979797 53px,#878787 54.8px,#727272 56.2px,#333333 60px,#171717 62.2px,#070707 64.8px,#010101 68px,#000000 84.2px,#050505 87.8px,#0e0e0e 89.2px,#1e1e1e 90.8px,#303030 92px,#626262 95px,#787878 96.8px,#858585 98.8px,#898989 101.2px,#868686 103.8px,#797979 105.8px,#616161 107.5px,#303030 110.2px,#1d1d1d 111.5px,#0f0f0f 112.8px,#060606 114.2px,#000000 118px,#020202 135.2px,#0a0a0a 137.5px,#1a1a1a 139.5px,#303030 141.2px,#686868 145px,#7e7e7e 147px,#898989 149.2px,#8b8b8b 152px,#898989 154.5px,#7d7d7d 156.5px,#696969 158.2px,#2d2d2d 162px,#161616 163.8px,#080808 165.8px,#010101 168.2px,#010101 283px,#080808 286.2px,#101010 287.5px,#1b1b1b 288.8px,#2b2b2b 290px,#404040 291.2px,#a7a7a7 296px,#cdcdcd 298.2px,#dbdbdb 299.5px,#e3e3e3 300.8px,#e9e9e9 303.8px,#e4e4e4 306.5px,#dcdcdc 307.8px,#d1d1d1 308.8px,#c3c3c3 309.8px,#adadad 311px,#4c4c4c 315.5px,#292929 317.5px,#1a1a1a 318.8px,#0f0f0f 320px,#030303 322.8px,#000000 328.5px,#000000 420px)"></i>
<i style="top:67px;background:linear-gradient(90deg,#000000 0px,#000000 29.2px,#020202 32.5px,#070707 34.8px,#121212 37px,#262626 39.2px,#3c3c3c 41px,#747474 44.8px,#8b8b8b 46.8px,#989898 48.8px,#9b9b9b 50.8px,#969696 52.8px,#868686 54.5px,#717171 56px,#313131 59.8px,#161616 62px,#070707 64.5px,#010101 67.5px,#000000 83.5px,#060606 87.2px,#0f0f0f 88.8px,#1f1f1f 90.2px,#636363 94.5px,#797979 96.2px,#858585 98.2px,#888888 100.8px,#858585 103.2px,#7a7a7a 105px,#636363 106.8px,#1e1e1e 110.8px,#0e0e0e 112.2px,#050505 113.8px,#000000 117.5px,#020202 134.2px,#090909 136.5px,#181818 138.5px,#2e2e2e 140.2px,#666666 144px,#7c7c7c 146px,#888888 148.2px,#8a8a8a 151px,#888888 153.5px,#7d7d7d 155.5px,#666666 157.5px,#2e2e2e 161px,#171717 162.8px,#080808 164.8px,#010101 167.2px,#010101 281.2px,#090909 284.5px,#101010 285.8px,#1c1c1c 287px,#2c2c2c 288.2px,#424242 289.5px,#a8a8a8 294.2px,#cbcbcb 296.2px,#dadada 297.5px,#e3e3e3 298.8px,#e8e8e8 300.2px,#e9e9e9 302px,#e4e4e4 304.8px,#dcdcdc 306px,#d2d2d2 307px,#c4c4c4 308px,#adadad 309.2px,#515151 313.5px,#292929 315.8px,#191919 317px,#0f0f0f 318.2px,#030303 321px,#000000 326.8px,#000000 420px)"></i>
<i style="top:68px;background:linear-gradient(90deg,#000000 0px,#000000 29px,#060606 34.2px,#101010 36.5px,#232323 38.8px,#3d3d3d 40.8px,#747474 44.5px,#8b8b8b 46.5px,#979797 48.2px,#9b9b9b 50.2px,#979797 52.2px,#888888 54px,#747474 55.5px,#303030 59.5px,#151515 61.8px,#060606 64.2px,#010101 67.2px,#000000 83px,#060606 86.8px,#101010 88.2px,#202020 89.8px,#606060 93.8px,#777777 95.5px,#848484 97.5px,#888888 100px,#858585 102.5px,#787878 104.5px,#656565 106px,#303030 109px,#1c1c1c 110.2px,#0f0f0f 111.5px,#050505 113px,#000000 116.8px,#020202 133.5px,#0a0a0a 135.8px,#191919 137.8px,#2f2f2f 139.5px,#666666 143.2px,#7c7c7c 145.2px,#878787 147.5px,#898989 150.2px,#878787 152.8px,#7b7b7b 154.8px,#676767 156.5px,#2b2b2b 160.2px,#181818 161.8px,#080808 163.8px,#010101 166.2px,#010101 279.2px,#090909 282.8px,#111111 284px,#1d1d1d 285.2px,#2d2d2d 286.5px,#434343 287.8px,#a9a9a9 292.5px,#cccccc 294.5px,#dbdbdb 295.8px,#e4e4e4 297px,#e9e9e9 298.2px,#eaeaea 300px,#e5e5e5 303px,#dcdcdc 304.2px,#d2d2d2 305.2px,#c4c4c4 306.2px,#adadad 307.5px,#505050 311.8px,#2c2c2c 313.8px,#1c1c1c 315px,#101010 316.2px,#080808 317.8px,#030303 319.2px,#000000 325px,#000000 420px)"></i>
<i style="top:69px;background:linear-gradient(90deg,#000000 0px,#000000 28.8px,#060606 34px,#101010 36.2px,#242424 38.5px,#3d3d3d 40.5px,#747474 44.2px,#8b8b8b 46.2px,#979797 48px,#9a9a9a 50px,#969696 52px,#878787 53.8px,#727272 55.2px,#2f2f2f 59.2px,#151515 61.5px,#070707 63.8px,#010101 67px,#000000 82.5px,#060606 86px,#0f0f0f 87.5px,#1e1e1e 89px,#616161 93.2px,#777777 95px,#848484 97px,#878787 99.5px,#848484 102px,#777777 104px,#636363 105.5px,#1e1e1e 109.5px,#0f0f0f 110.8px,#060606 112.2px,#000000 116px,#020202 132.8px,#0a0a0a 135px,#1a1a1a 137px,#2c2c2c 138.5px,#646464 142.2px,#7a7a7a 144.2px,#868686 146.5px,#888888 149.2px,#868686 151.8px,#7b7b7b 153.8px,#686868 155.5px,#2c2c2c 159.2px,#161616 161px,#070707 163px,#010101 165.5px,#010101 277.5px,#090909 281px,#111111 282.2px,#1d1d1d 283.5px,#2e2e2e 284.8px,#444444 286px,#ababab 290.8px,#cdcdcd 292.8px,#dcdcdc 294px,#e5e5e5 295.2px,#e9e9e9 296.5px,#ebebeb 298.2px,#e7e7e7 301px,#dfdfdf 302.2px,#d5d5d5 303.2px,#c8c8c8 304.2px,#b2b2b2 305.5px,#505050 310px,#2c2c2c 312px,#1c1c1c 313.2px,#101010 314.5px,#080808 316px,#030303 317.5px,#000000 323.2px,#000000 420px)"></i>
<i style="top:70px;background:linear-gradient(90deg,#000000 0px,#000000 28.5px,#060606 33.8px,#111111 36px,#242424 38.2px,#3a3a3a 40px,#747474 44px,#898989 45.8px,#969696 47.8px,#9a9a9a 49.8px,#959595 51.8px,#868686 53.5px,#717171 55px,#323232 58.8px,#161616 61px,#070707 63.5px,#010101 66.5px,#000000 81.8px,#060606 85.5px,#0f0f0f 87px,#1f1f1f 88.5px,#626262 92.8px,#777777 94.5px,#848484 96.5px,#878787 99px,#848484 101.5px,#787878 103.2px,#646464 104.8px,#2f2f2f 107.8px,#1c1c1c 109px,#0e0e0e 110.2px,#050505 111.8px,#000000 115.5px,#020202 131.8px,#090909 134px,#181818 136px,#2e2e2e 137.8px,#656565 141.5px,#7a7a7a 143.5px,#848484 145.5px,#878787 148.2px,#858585 150.8px,#7b7b7b 152.8px,#656565 154.8px,#2d2d2d 158.2px,#171717 160px,#080808 162px,#010101 164.5px,#010101 275.8px,#080808 279px,#101010 280.2px,#1b1b1b 281.5px,#2b2b2b 282.8px,#404040 284px,#a7a7a7 288.8px,#cecece 291px,#dddddd 292.2px,#e6e6e6 293.5px,#eaeaea 294.8px,#ebebeb 296.5px,#e7e7e7 299.2px,#dfdfdf 300.5px,#d5d5d5 301.5px,#c8c8c8 302.5px,#b2b2b2 303.8px,#505050 308.2px,#2c2c2c 310.2px,#1c1c1c 311.5px,#101010 312.8px,#080808 314.2px,#030303 315.8px,#000000 321.5px,#000000 420px)"></i>
<i style="top:71px;background:linear-gradient(90deg,#000000 0px,#000000 28.2px,#060606 33.5px,#111111 35.8px,#242424 38px,#3a3a3a 39.8px,#757575 43.8px,#898989 45.5px,#969696 47.5px,#999999 49.5px,#949494 51.5px,#858585 53.2px,#707070 54.8px,#303030 58.5px,#151515 60.8px,#060606 63.2px,#010101 66.2px,#000000 81.2px,#070707 85px,#101010 86.5px,#1d1d1d 87.8px,#606060 92px,#767676 93.8px,#838383 95.8px,#868686 98.2px,#848484 100.8px,#767676 102.8px,#626262 104.2px,#1d1d1d 108.2px,#0f0f0f 109.5px,#050505 111px,#000000 114.8px,#020202 131px,#0a0a0a 133.2px,#191919 135.2px,#2f2f2f 137px,#626262 140.5px,#787878 142.5px,#848484 144.8px,#868686 147.5px,#848484 150px,#797979 152px,#656565 153.8px,#2a2a2a 157.5px,#171717 159px,#080808 161px,#010101 163.5px,#010101 274px,#090909 277.2px,#101010 278.5px,#1c1c1c 279.8px,#2c2c2c 281px,#414141 282.2px,#a9a9a9 287px,#d0d0d0 289.2px,#dedede 290.5px,#e7e7e7 291.8px,#ececec 294.8px,#e8e8e8 297.5px,#e0e0e0 298.8px,#d6d6d6 299.8px,#c8c8c8 300.8px,#b2b2b2 302px,#505050 306.5px,#2c2c2c 308.5px,#1b1b1b 309.8px,#101010 311px,#070707 312.5px,#030303 314px,#000000 319.8px,#000000 420px)"></i>
<i style="top:72px;background:linear-gradient(90deg,#000000 0px,#000000 28px,#060606 33.2px,#111111 35.5px,#252525 37.8px,#3a3a3a 39.5px,#757575 43.5px,#898989 45.2px,#969696 47.2px,#999999 49.2px,#959595 51px,#878787 52.8px,#727272 54.2px,#2f2f2f 58.2px,#151515 60.5px,#070707 62.8px,#010101 66px,#000000 80.8px,#060606 84.2px,#0f0f0f 85.8px,#1e1e1e 87.2px,#616161 91.5px,#767676 93.2px,#828282 95.2px,#868686 98px,#848484 100px,#797979 101.8px,#646464 103.5px,#2a2a2a 106.8px,#151515 108.2px,#070707 110px,#010101 112.5px,#000000 127.8px,#070707 131.8px,#0f0f0f 133.2px,#1d1d1d 134.8px,#606060 139.5px,#767676 141.5px,#828282 143.8px,#858585 146.5px,#838383 149px,#797979 151px,#626262 153px,#2b2b2b 156.5px,#151515 158.2px,#070707 160.2px,#010101 162.5px,#010101 272.2px,#090909 275.5px,#111111 276.8px,#1c1c1c 278px,#2d2d2d 279.2px,#434343 280.5px,#aaaaaa 285.2px,#d1d1d1 287.5px,#dfdfdf 288.8px,#e8e8e8 290px,#ededed 293px,#e8e8e8 295.8px,#e0e0e0 297px,#d6d6d6 298px,#c8c8c8 299px,#b2b2b2 300.2px,#4f4f4f 304.8px,#2b2b2b 306.8px,#1b1b1b 308px,#101010 309.2px,#070707 310.8px,#030303 312.2px,#000000 318px,#000000 420px)"></i>
<i style="top:73px;background:linear-gradient(90deg,#000000 0px,#000000 27.8px,#070707 33px,#111111 35.2px,#252525 37.5px,#3b3b3b 39.2px,#717171 43px,#888888 45px,#959595 47px,#989898 49px,#949494 50.8px,#868686 52.5px,#717171 54px,#323232 57.8px,#161616 60px,#070707 62.5px,#010101 65.5px,#000000 80px,#060606 83.8px,#101010 85.2px,#1d1d1d 86.5px,#626262 91px,#767676 92.8px,#828282 94.8px,#858585 97.2px,#838383 99.5px,#787878 101.2px,#656565 102.8px,#282828 106.2px,#131313 107.8px,#060606 109.5px,#010101 112px,#000000 127px,#060606 130.8px,#101010 132.5px,#1e1e1e 134px,#616161 138.8px,#767676 140.8px,#828282 143px,#848484 145.8px,#828282 148.2px,#777777 150.2px,#636363 152px,#2c2c2c 155.5px,#161616 157.2px,#070707 159.2px,#010101 161.5px,#010101 270.2px,#090909 273.8px,#111111 275px,#1d1d1d 276.2px,#2e2e2e 277.5px,#444444 278.8px,#acacac 283.5px,#cfcfcf 285.5px,#dedede 286.8px,#e7e7e7 288px,#ededed 289.5px,#eeeeee 291.2px,#e9e9e9 294px,#e1e1e1 295.2px,#d6d6d6 296.2px,#c8c8c8 297.2px,#b2b2b2 298.5px,#4f4f4f 303px,#2b2b2b 305px,#1b1b1b 306.2px,#101010 307.5px,#070707 309px,#030303 310.5px,#000000 316.2px,#000000 420px)"></i>
<i style="top:74px;background:linear-gradient(90deg,#000000 0px,#000000 27.5px,#070707 32.8px,#111111 35px,#252525 37.2px,#3b3b3b 39px,#727272 42.8px,#888888 44.8px,#949494 46.5px,#989898 48.5px,#949494 50.5px,#858585 52.2px,#707070 53.8px,#313131 57.5px,#151515 59.8px,#070707 62px,#010101 65.2px,#000000 79.5px,#060606 83px,#0f0f0f 84.5px,#1e1e1e 86px,#5f5f5f 90.2px,#757575 92px,#818181 94px,#848484 96.8px,#828282 99px,#797979 100.5px,#636363 102.2px,#292929 105.5px,#141414 107px,#070707 108.8px,#010101 111.2px,#000000 126.2px,#060606 130px,#101010 131.8px,#1f1f1f 133.2px,#5e5e5e 137.8px,#747474 139.8px,#808080 142px,#838383 144.8px,#818181 147.2px,#777777 149.2px,#646464 151px,#292929 154.8px,#171717 156.2px,#080808 158.2px,#010101 160.8px,#010101 268.5px,#0a0a0a 272px,#121212 273.2px,#1e1e1e 274.5px,#2f2f2f 275.8px,#454545 277px,#adadad 281.8px,#d0d0d0 283.8px,#dfdfdf 285px,#e8e8e8 286.2px,#ededed 287.5px,#eeeeee 289.2px,#e9e9e9 292.2px,#e1e1e1 293.5px,#d6d6d6 294.5px,#c8c8c8 295.5px,#b2b2b2 296.8px,#4f4f4f 301.2px,#2b2b2b 303.2px,#1b1b1b 304.5px,#101010 305.8px,#070707 307.2px,#030303 308.8px,#000000 314.5px,#000000 420px)"></i>
<i style="top:75px;background:linear-gradient(90deg,#000000 0px,#000000 27.2px,#070707 32.5px,#111111 34.8px,#252525 37px,#3b3b3b 38.8px,#727272 42.5px,#868686 44.2px,#949494 46.2px,#979797 48.2px,#939393 50.2px,#848484 52px,#6e6e6e 53.5px,#2f2f2f 57.2px,#151515 59.5px,#070707 61.8px,#010101 64.8px,#000000 79px,#060606 82.5px,#0f0f0f 84px,#1f1f1f 85.5px,#606060 89.8px,#757575 91.5px,#818181 93.5px,#848484 96.2px,#828282 98.2px,#777777 100px,#616161 101.8px,#2b2b2b 104.8px,#161616 106.2px,#070707 108px,#010101 110.5px,#000000 125.5px,#070707 129.2px,#0f0f0f 130.8px,#1d1d1d 132.2px,#5f5f5f 137px,#727272 138.8px,#7f7f7f 141px,#828282 144px,#808080 146.5px,#767676 148.2px,#616161 150.2px,#2a2a2a 153.8px,#151515 155.5px,#070707 157.5px,#010101 159.8px,#010101 266.8px,#090909 270px,#101010 271.2px,#1c1c1c 272.5px,#2c2c2c 273.8px,#414141 275px,#afafaf 280px,#d1d1d1 282px,#e0e0e0 283.2px,#e9e9e9 284.5px,#eeeeee 285.8px,#efefef 287.5px,#eaeaea 290.5px,#e1e1e1 291.8px,#d7d7d7 292.8px,#c8c8c8 293.8px,#b2b2b2 295px,#4e4e4e 299.5px,#2b2b2b 301.5px,#1b1b1b 302.8px,#101010 304px,#030303 307px,#000000 312.8px,#000000 420px)"></i>
<i style="top:76px;background:linear-gradient(90deg,#000000 0px,#000000 27px,#070707 32.2px,#121212 34.5px,#232323 36.5px,#383838 38.2px,#727272 42.2px,#868686 44px,#939393 46px,#979797 48px,#929292 50px,#838383 51.8px,#6d6d6d 53.2px,#323232 56.8px,#161616 59px,#070707 61.5px,#010101 64.5px,#000000 78.5px,#070707 82px,#101010 83.5px,#1d1d1d 84.8px,#5e5e5e 89px,#737373 90.8px,#808080 92.8px,#838383 95.5px,#818181 97.8px,#787878 99.2px,#636363 101px,#292929 104.2px,#141414 105.8px,#060606 107.5px,#010101 109.8px,#000000 124.5px,#060606 128.2px,#101010 130px,#1e1e1e 131.5px,#5c5c5c 136px,#727272 138px,#7e7e7e 140.2px,#818181 143px,#7f7f7f 145.5px,#747474 147.5px,#616161 149.2px,#2b2b2b 152.8px,#151515 154.5px,#070707 156.5px,#010101 158.8px,#010101 265px,#090909 268.2px,#111111 269.5px,#1c1c1c 270.8px,#2d2d2d 272px,#424242 273.2px,#ababab 278px,#d2d2d2 280.2px,#e1e1e1 281.5px,#eaeaea 282.8px,#eeeeee 284px,#f0f0f0 285.8px,#ececec 288.5px,#e4e4e4 289.8px,#dadada 290.8px,#cccccc 291.8px,#b7b7b7 293px,#4e4e4e 297.8px,#2a2a2a 299.8px,#1b1b1b 301px,#0f0f0f 302.2px,#030303 305.2px,#000000 311px,#000000 420px)"></i>
<i style="top:77px;background:linear-gradient(90deg,#000000 0px,#000000 26.8px,#070707 32px,#121212 34.2px,#232323 36.2px,#393939 38px,#727272 42px,#868686 43.8px,#939393 45.8px,#969696 47.8px,#939393 49.5px,#848484 51.2px,#707070 52.8px,#313131 56.5px,#151515 58.8px,#070707 61px,#010101 64.2px,#000000 77.8px,#060606 81.2px,#0f0f0f 82.8px,#1e1e1e 84.2px,#5f5f5f 88.5px,#737373 90.2px,#808080 92.2px,#838383 95px,#808080 97.2px,#777777 98.8px,#606060 100.5px,#2b2b2b 103.5px,#151515 105px,#070707 106.8px,#010101 109.2px,#000000 123.8px,#060606 127.5px,#0f0f0f 129px,#1c1c1c 130.5px,#5d5d5d 135.2px,#727272 137.2px,#7e7e7e 139.5px,#808080 142.2px,#7e7e7e 144.8px,#747474 146.5px,#5e5e5e 148.5px,#292929 152px,#161616 153.5px,#070707 155.5px,#010101 157.8px,#010101 263.2px,#090909 266.5px,#111111 267.8px,#1d1d1d 269px,#2e2e2e 270.2px,#444444 271.5px,#acacac 276.2px,#d4d4d4 278.5px,#e2e2e2 279.8px,#ebebeb 281px,#efefef 282.2px,#f1f1f1 284px,#ececec 286.8px,#e4e4e4 288px,#dadada 289px,#cdcdcd 290px,#b7b7b7 291.2px,#535353 295.8px,#2a2a2a 298px,#1a1a1a 299.2px,#0f0f0f 300.5px,#030303 303.5px,#000000 309.2px,#000000 420px)"></i>
<i style="top:78px;background:linear-gradient(90deg,#000000 0px,#000000 26.5px,#070707 31.8px,#121212 34px,#232323 36px,#393939 37.8px,#727272 41.8px,#868686 43.5px,#939393 45.5px,#969696 47.5px,#929292 49.2px,#838383 51px,#6f6f6f 52.5px,#303030 56.2px,#151515 58.5px,#070707 60.8px,#010101 63.8px,#000000 77.2px,#060606 80.8px,#101010 82.2px,#1c1c1c 83.5px,#606060 88px,#747474 89.8px,#808080 91.8px,#828282 94.5px,#808080 96.5px,#757575 98.2px,#636363 99.8px,#292929 103px,#141414 104.5px,#060606 106.2px,#010101 108.5px,#000000 123px,#070707 126.8px,#0f0f0f 128.2px,#1d1d1d 129.8px,#5b5b5b 134.2px,#707070 136.2px,#7c7c7c 138.5px,#7f7f7f 141.2px,#7d7d7d 143.8px,#727272 145.8px,#5f5f5f 147.5px,#2a2a2a 151px,#141414 152.8px,#060606 154.8px,#010101 157px,#010101 261.2px,#0a0a0a 264.8px,#121212 266px,#1e1e1e 267.2px,#2f2f2f 268.5px,#454545 269.8px,#aeaeae 274.5px,#d1d1d1 276.5px,#e1e1e1 277.8px,#ebebeb 279px,#f0f0f0 280.5px,#f1f1f1 282.2px,#ededed 285px,#e5e5e5 286.2px,#dbdbdb 287.2px,#cdcdcd 288.2px,#b7b7b7 289.5px,#535353 294px,#2a2a2a 296.2px,#1a1a1a 297.5px,#0f0f0f 298.8px,#030303 301.8px,#000000 307.5px,#000000 420px)"></i>
<i style="top:79px;background:linear-gradient(90deg,#000000 0px,#000000 26.2px,#070707 31.5px,#121212 33.8px,#232323 35.8px,#393939 37.5px,#727272 41.5px,#868686 43.2px,#929292 45.2px,#959595 47.2px,#919191 49px,#828282 50.8px,#6d6d6d 52.2px,#2e2e2e 56px,#161616 58px,#070707 60.5px,#010101 63.5px,#000000 76.8px,#070707 80.2px,#101010 81.8px,#1d1d1d 83px,#5d5d5d 87.2px,#727272 89px,#7f7f7f 91px,#828282 93.8px,#7f7f7f 96px,#777777 97.5px,#616161 99.2px,#282828 102.5px,#131313 104px,#060606 105.8px,#010101 108px,#000000 122px,#060606 125.8px,#0e0e0e 127.2px,#1b1b1b 128.8px,#5c5c5c 133.5px,#717171 135.5px,#7c7c7c 137.8px,#7e7e7e 140.5px,#7c7c7c 143px,#737373 144.8px,#5d5d5d 146.8px,#282828 150.2px,#151515 151.8px,#070707 153.8px,#010101 156px,#010101 259.5px,#0a0a0a 263px,#121212 264.2px,#1e1e1e 265.5px,#303030 266.8px,#464646 268px,#afafaf 272.8px,#d3d3d3 274.8px,#e2e2e2 276px,#ebebeb 277.2px,#f1f1f1 278.8px,#f2f2f2 280.5px,#ededed 283.2px,#e5e5e5 284.5px,#dbdbdb 285.5px,#cdcdcd 286.5px,#b7b7b7 287.8px,#525252 292.2px,#2a2a2a 294.5px,#1a1a1a 295.8px,#0f0f0f 297px,#030303 300px,#000000 306px,#000000 420px)"></i>
<i style="top:80px;background:linear-gradient(90deg,#000000 0px,#000000 26px,#070707 31.2px,#121212 33.5px,#232323 35.5px,#393939 37.2px,#727272 41.2px,#858585 43px,#919191 44.8px,#949494 46.8px,#909090 48.8px,#818181 50.5px,#6c6c6c 52px,#313131 55.5px,#151515 57.8px,#070707 60px,#010101 63.2px,#000000 76.2px,#070707 79.8px,#111111 81.2px,#1e1e1e 82.5px,#5e5e5e 86.8px,#727272 88.5px,#7e7e7e 90.5px,#818181 93.2px,#7f7f7f 95.5px,#767676 97px,#606060 98.8px,#2b2b2b 101.8px,#151515 103.2px,#070707 105px,#010101 107.5px,#000000 121.2px,#060606 125px,#0f0f0f 126.5px,#1c1c1c 128px,#595959 132.5px,#6f6f6f 134.5px,#7b7b7b 136.8px,#7e7e7e 139.5px,#7b7b7b 142px,#717171 144px,#5e5e5e 145.8px,#292929 149.2px,#141414 151px,#060606 153px,#010101 155.2px,#010101 257.8px,#0a0a0a 261.2px,#121212 262.5px,#1e1e1e 263.8px,#2f2f2f 265px,#454545 266.2px,#afafaf 271px,#d2d2d2 273px,#e2e2e2 274.2px,#ebebeb 275.5px,#f1f1f1 277px,#f2f2f2 278.8px,#eeeeee 281.5px,#e5e5e5 282.8px,#dbdbdb 283.8px,#cdcdcd 284.8px,#b7b7b7 286px,#535353 290.5px,#2a2a2a 292.8px,#1a1a1a 294px,#0f0f0f 295.2px,#070707 296.8px,#020202 298.5px,#000000 304.2px,#000000 420px)"></i>
<i style="top:81px;background:linear-gradient(90deg,#000000 0px,#000000 25.8px,#070707 31px,#121212 33.2px,#232323 35.2px,#393939 37px,#727272 41px,#858585 42.8px,#909090 44.5px,#949494 46.5px,#919191 48.2px,#838383 50px,#6f6f6f 51.5px,#303030 55.2px,#151515 57.5px,#070707 59.8px,#010101 62.8px,#000000 75.5px,#060606 79px,#0f0f0f 80.5px,#1c1c1c 81.8px,#5e5e5e 86.2px,#727272 88px,#7e7e7e 90px,#818181 92.5px,#7f7f7f 94.8px,#747474 96.5px,#626262 98px,#2a2a2a 101.2px,#151515 102.8px,#070707 104.5px,#010101 107px,#000000 120.5px,#070707 124.2px,#0f0f0f 125.8px,#1d1d1d 127.2px,#5a5a5a 131.8px,#6d6d6d 133.5px,#7a7a7a 135.8px,#7d7d7d 138.5px,#7b7b7b 141px,#717171 143px,#5f5f5f 144.8px,#272727 148.5px,#151515 150px,#070707 152px,#010101 154.2px,#010101 256.2px,#090909 259.5px,#111111 260.8px,#1d1d1d 262px,#2e2e2e 263.2px,#444444 264.5px,#adadad 269.2px,#d5d5d5 271.5px,#e3e3e3 272.8px,#ececec 274px,#f1f1f1 275.2px,#f2f2f2 277px,#eeeeee 279.8px,#e6e6e6 281px,#dcdcdc 282px,#cecece 283px,#b8b8b8 284.2px,#535353 288.8px,#2b2b2b 291px,#1b1b1b 292.2px,#0f0f0f 293.5px,#070707 295px,#030303 296.8px,#000000 302.5px,#000000 420px)"></i>
<i style="top:82px;background:linear-gradient(90deg,#000000 0px,#000000 25.5px,#070707 30.8px,#121212 33px,#232323 35px,#393939 36.8px,#6f6f6f 40.5px,#858585 42.5px,#909090 44.2px,#939393 46.2px,#909090 48px,#828282 49.8px,#6d6d6d 51.2px,#2f2f2f 55px,#141414 57.2px,#060606 59.5px,#010101 62.5px,#000000 75px,#070707 78.5px,#101010 80px,#1c1c1c 81.2px,#5c5c5c 85.5px,#707070 87.2px,#7d7d7d 89.2px,#808080 92px,#7e7e7e 94.2px,#757575 95.8px,#616161 97.5px,#292929 100.8px,#141414 102.2px,#070707 104px,#010101 106.5px,#000000 119.5px,#060606 123.2px,#0e0e0e 124.8px,#1c1c1c 126.2px,#585858 130.8px,#6d6d6d 132.8px,#797979 135px,#7c7c7c 137.8px,#7a7a7a 140.2px,#707070 142.2px,#5d5d5d 144px,#282828 147.5px,#141414 149.2px,#060606 151.2px,#010101 153.5px,#010101 254.5px,#090909 257.8px,#111111 259px,#1c1c1c 260.2px,#2d2d2d 261.5px,#424242 262.8px,#acacac 267.5px,#d4d4d4 269.8px,#e3e3e3 271px,#ececec 272.2px,#f0f0f0 273.5px,#f2f2f2 275.2px,#eeeeee 278px,#e6e6e6 279.2px,#dcdcdc 280.2px,#cecece 281.2px,#b9b9b9 282.5px,#4f4f4f 287.2px,#2b2b2b 289.2px,#1b1b1b 290.5px,#101010 291.8px,#070707 293.2px,#030303 295px,#000000 300.8px,#000000 420px)"></i>
<i style="top:83px;background:linear-gradient(90deg,#000000 0px,#000000 25.2px,#070707 30.5px,#121212 32.8px,#232323 34.8px,#393939 36.5px,#6f6f6f 40.2px,#828282 42px,#909090 44px,#939393 46px,#8f8f8f 47.8px,#818181 49.5px,#6c6c6c 51px,#2d2d2d 54.8px,#151515 56.8px,#070707 59px,#010101 62px,#000000 74.5px,#070707 78px,#101010 79.5px,#1d1d1d 80.8px,#5c5c5c 85px,#717171 86.8px,#7d7d7d 88.8px,#808080 91.5px,#7d7d7d 93.8px,#747474 95.2px,#5f5f5f 97px,#282828 100.2px,#141414 101.8px,#060606 103.5px,#010101 106px,#000000 118.8px,#070707 122.5px,#0f0f0f 124px,#1d1d1d 125.5px,#595959 130px,#6c6c6c 131.8px,#787878 134px,#7b7b7b 136.8px,#7a7a7a 139.2px,#707070 141.2px,#5e5e5e 143px,#262626 146.8px,#151515 148.2px,#070707 150.2px,#010101 152.5px,#010101 253px,#0a0a0a 256.2px,#121212 257.5px,#1e1e1e 258.8px,#303030 260px,#464646 261.2px,#b0b0b0 266px,#d3d3d3 268px,#e2e2e2 269.2px,#ebebeb 270.5px,#f0f0f0 271.8px,#f2f2f2 273.5px,#ededed 276.5px,#e4e4e4 277.8px,#d9d9d9 278.8px,#cbcbcb 279.8px,#b4b4b4 281px,#505050 285.5px,#2c2c2c 287.5px,#1b1b1b 288.8px,#101010 290px,#070707 291.5px,#030303 293.2px,#000000 299px,#000000 420px)"></i>
<i style="top:84px;background:linear-gradient(90deg,#000000 0px,#000000 25px,#070707 30.2px,#121212 32.5px,#232323 34.5px,#393939 36.2px,#6e6e6e 40px,#828282 41.8px,#8f8f8f 43.8px,#929292 45.8px,#8e8e8e 47.5px,#808080 49.2px,#6b6b6b 50.8px,#303030 54.2px,#151515 56.5px,#070707 58.8px,#010101 61.8px,#000000 74px,#070707 77.5px,#111111 79px,#1e1e1e 80.2px,#5d5d5d 84.5px,#717171 86.2px,#7c7c7c 88.2px,#7f7f7f 90.8px,#7d7d7d 93px,#737373 94.8px,#5e5e5e 96.5px,#272727 99.8px,#131313 101.2px,#060606 103px,#010101 105.2px,#000000 118px,#070707 121.8px,#101010 123.2px,#1e1e1e 124.8px,#575757 129px,#6c6c6c 131px,#787878 133.2px,#7b7b7b 136px,#787878 138.5px,#6e6e6e 140.5px,#5b5b5b 142.2px,#282828 145.8px,#161616 147.2px,#070707 149.2px,#010101 151.5px,#010101 251.2px,#090909 254.5px,#111111 255.8px,#1d1d1d 257px,#2e2e2e 258.2px,#444444 259.5px,#aeaeae 264.2px,#d2d2d2 266.2px,#e1e1e1 267.5px,#ebebeb 268.8px,#f0f0f0 270.2px,#f1f1f1 272px,#ededed 274.8px,#e4e4e4 276px,#dadada 277px,#cccccc 278px,#b5b5b5 279.2px,#515151 283.8px,#2c2c2c 285.8px,#1c1c1c 287px,#101010 288.2px,#080808 289.8px,#030303 291.5px,#000000 297.5px,#000000 420px)"></i>
<i style="top:85px;background:linear-gradient(90deg,#000000 0px,#000000 24.8px,#070707 30px,#121212 32.2px,#232323 34.2px,#393939 36px,#6e6e6e 39.8px,#828282 41.5px,#8f8f8f 43.5px,#929292 45.5px,#8e8e8e 47.2px,#7f7f7f 49px,#696969 50.5px,#2f2f2f 54px,#141414 56.2px,#060606 58.5px,#010101 61.5px,#000000 73.2px,#060606 76.8px,#0f0f0f 78.2px,#1c1c1c 79.5px,#5a5a5a 83.8px,#6f6f6f 85.5px,#7b7b7b 87.5px,#7f7f7f 90.2px,#7c7c7c 92.5px,#727272 94.2px,#5d5d5d 96px,#2a2a2a 99px,#151515 100.5px,#060606 102.5px,#010101 104.8px,#000000 117px,#060606 120.8px,#0f0f0f 122.2px,#1c1c1c 123.8px,#585858 128.2px,#6a6a6a 130px,#777777 132.2px,#7a7a7a 135px,#787878 137.5px,#6e6e6e 139.5px,#5c5c5c 141.2px,#262626 145px,#141414 146.5px,#070707 148.5px,#010101 150.8px,#010101 249.5px,#090909 252.8px,#111111 254px,#1c1c1c 255.2px,#2d2d2d 256.5px,#434343 257.8px,#adadad 262.5px,#c5c5c5 263.8px,#d4d4d4 264.8px,#e3e3e3 266px,#ececec 267.2px,#f0f0f0 268.5px,#f1f1f1 270.2px,#ededed 273px,#e5e5e5 274.2px,#dadada 275.2px,#cccccc 276.2px,#b6b6b6 277.5px,#515151 282px,#292929 284.2px,#191919 285.5px,#0f0f0f 286.8px,#070707 288.2px,#020202 290px,#000000 295.8px,#000000 420px)"></i>
<i style="top:86px;background:linear-gradient(90deg,#000000 0px,#000000 24.8px,#070707 29.8px,#121212 32px,#232323 34px,#393939 35.8px,#6e6e6e 39.5px,#828282 41.2px,#8e8e8e 43px,#919191 45px,#8e8e8e 46.8px,#808080 48.5px,#6c6c6c 50px,#2d2d2d 53.8px,#151515 55.8px,#070707 58px,#010101 61px,#000000 72.8px,#070707 76.2px,#101010 77.8px,#1d1d1d 79px,#5b5b5b 83.2px,#6f6f6f 85px,#7b7b7b 87px,#7e7e7e 89.8px,#7c7c7c 92px,#737373 93.5px,#5f5f5f 95.2px,#292929 98.5px,#151515 100px,#060606 102px,#010101 104.2px,#000000 116.2px,#070707 120px,#0f0f0f 121.5px,#1d1d1d 123px,#565656 127.2px,#6b6b6b 129.2px,#777777 131.5px,#797979 134.2px,#777777 136.8px,#6d6d6d 138.8px,#5a5a5a 140.5px,#272727 144px,#151515 145.5px,#070707 147.5px,#010101 149.8px,#010101 248px,#0a0a0a 251.2px,#121212 252.5px,#1e1e1e 253.8px,#303030 255px,#464646 256.2px,#ababab 260.8px,#d3d3d3 263px,#e2e2e2 264.2px,#ebebeb 265.5px,#f0f0f0 266.8px,#f1f1f1 268.5px,#ededed 271.2px,#e5e5e5 272.5px,#dbdbdb 273.5px,#cdcdcd 274.5px,#b7b7b7 275.8px,#525252 280.2px,#292929 282.5px,#1a1a1a 283.8px,#0f0f0f 285px,#070707 286.5px,#020202 288.2px,#000000 294px,#000000 420px)"></i>
<i style="top:87px;background:linear-gradient(90deg,#000000 0px,#000000 24.5px,#070707 29.5px,#111111 31.8px,#232323 33.8px,#393939 35.5px,#6e6e6e 39.2px,#828282 41px,#8d8d8d 42.8px,#919191 44.8px,#8d8d8d 46.5px,#7f7f7f 48.2px,#6b6b6b 49.8px,#2c2c2c 53.5px,#151515 55.5px,#070707 57.8px,#010101 60.8px,#000000 72.2px,#070707 75.8px,#111111 77.2px,#1d1d1d 78.5px,#5c5c5c 82.8px,#707070 84.5px,#7b7b7b 86.5px,#7e7e7e 89px,#7c7c7c 91.2px,#727272 93px,#5e5e5e 94.8px,#282828 98px,#141414 99.5px,#070707 101.2px,#010101 103.8px,#000000 115.5px,#070707 119.2px,#101010 120.8px,#1b1b1b 122px,#575757 126.5px,#696969 128.2px,#757575 130.5px,#787878 133.2px,#777777 135.8px,#6d6d6d 137.8px,#5b5b5b 139.5px,#252525 143.2px,#141414 144.8px,#060606 146.8px,#010101 149px,#010101 246.2px,#090909 249.5px,#111111 250.8px,#1e1e1e 252px,#2f2f2f 253.2px,#454545 254.5px,#afafaf 259.2px,#d2d2d2 261.2px,#e1e1e1 262.5px,#ebebeb 263.8px,#f0f0f0 265px,#f1f1f1 266.8px,#ededed 269.5px,#e5e5e5 270.8px,#dbdbdb 271.8px,#cecece 272.8px,#b8b8b8 274px,#535353 278.5px,#2a2a2a 280.8px,#1a1a1a 282px,#0f0f0f 283.2px,#070707 284.8px,#020202 286.5px,#000000 292.2px,#000000 420px)"></i>
<i style="top:88px;background:linear-gradient(90deg,#000000 0px,#000000 24.2px,#070707 29.2px,#111111 31.5px,#232323 33.5px,#393939 35.2px,#6e6e6e 39px,#828282 40.8px,#8d8d8d 42.5px,#909090 44.5px,#8d8d8d 46.2px,#7e7e7e 48px,#696969 49.5px,#2f2f2f 53px,#141414 55.2px,#060606 57.5px,#010101 60.2px,#000000 71.8px,#070707 75.2px,#111111 76.8px,#1e1e1e 78px,#595959 82px,#6e6e6e 83.8px,#7a7a7a 85.8px,#7d7d7d 88.5px,#7b7b7b 90.8px,#717171 92.5px,#5c5c5c 94.2px,#272727 97.5px,#141414 99px,#070707 100.8px,#010101 103.2px,#000000 114.8px,#060606 118.2px,#0f0f0f 119.8px,#1c1c1c 121.2px,#585858 125.8px,#696969 127.5px,#757575 129.8px,#787878 132.5px,#767676 135px,#6b6b6b 137px,#595959 138.8px,#272727 142.2px,#151515 143.8px,#070707 145.8px,#010101 148px,#010101 244.5px,#090909 247.8px,#111111 249px,#1d1d1d 250.2px,#2e2e2e 251.5px,#434343 252.8px,#adadad 257.5px,#d1d1d1 259.5px,#e1e1e1 260.8px,#eaeaea 262px,#f0f0f0 263.5px,#f1f1f1 265.2px,#ececec 268px,#e3e3e3 269.2px,#d9d9d9 270.2px,#cacaca 271.2px,#b3b3b3 272.5px,#4e4e4e 277px,#2a2a2a 279px,#1a1a1a 280.2px,#0f0f0f 281.5px,#070707 283px,#020202 284.8px,#000000 290.5px,#000000 420px)"></i>
<i style="top:89px;background:linear-gradient(90deg,#000000 0px,#000000 24px,#060606 29px,#111111 31.2px,#232323 33.2px,#393939 35px,#6e6e6e 38.8px,#818181 40.5px,#8c8c8c 42.2px,#909090 44.2px,#8c8c8c 46px,#7d7d7d 47.8px,#686868 49.2px,#2e2e2e 52.8px,#151515 54.8px,#070707 57px,#010101 60px,#000000 71px,#060606 74.5px,#101010 76px,#1c1c1c 77.2px,#5a5a5a 81.5px,#6e6e6e 83.2px,#7a7a7a 85.2px,#7d7d7d 88px,#7a7a7a 90.2px,#707070 92px,#5f5f5f 93.5px,#262626 97px,#131313 98.5px,#060606 100.2px,#010101 102.8px,#000000 114px,#070707 117.5px,#0f0f0f 119px,#1b1b1b 120.2px,#555555 124.8px,#686868 126.5px,#747474 128.8px,#777777 131.5px,#757575 134px,#6c6c6c 136px,#5a5a5a 137.8px,#282828 141.2px,#141414 143px,#060606 145px,#010101 147.2px,#010101 243px,#0a0a0a 246.2px,#121212 247.5px,#1f1f1f 248.8px,#303030 250px,#474747 251.2px,#acacac 255.8px,#c4c4c4 257px,#d4d4d4 258px,#e2e2e2 259.2px,#ebebeb 260.5px,#f0f0f0 261.8px,#f1f1f1 263.5px,#ececec 266.2px,#e4e4e4 267.5px,#d9d9d9 268.5px,#cbcbcb 269.5px,#b4b4b4 270.8px,#4f4f4f 275.2px,#2b2b2b 277.2px,#1b1b1b 278.5px,#0f0f0f 279.8px,#070707 281.2px,#020202 283px,#000000 288.8px,#000000 420px)"></i>
<i style="top:90px;background:linear-gradient(90deg,#000000 0px,#000000 23.8px,#060606 28.8px,#111111 31px,#232323 33px,#393939 34.8px,#6e6e6e 38.5px,#818181 40.2px,#8c8c8c 42px,#8f8f8f 44px,#8b8b8b 45.8px,#7c7c7c 47.5px,#676767 49px,#2c2c2c 52.5px,#151515 54.5px,#070707 56.8px,#010101 59.8px,#000000 70.5px,#070707 74px,#101010 75.5px,#1d1d1d 76.8px,#5b5b5b 81px,#6e6e6e 82.8px,#797979 84.8px,#7c7c7c 87.2px,#7a7a7a 89.5px,#717171 91.2px,#5d5d5d 93px,#292929 96.2px,#151515 97.8px,#060606 99.8px,#010101 102px,#010101 113.2px,#070707 116.8px,#101010 118.2px,#1c1c1c 119.5px,#565656 124px,#686868 125.8px,#747474 128px,#767676 130.8px,#747474 133.2px,#6a6a6a 135.2px,#585858 137px,#262626 140.5px,#151515 142px,#070707 144px,#010101 146.2px,#010101 241.2px,#090909 244.5px,#111111 245.8px,#1e1e1e 247px,#2f2f2f 248.2px,#454545 249.5px,#aaaaaa 254px,#d3d3d3 256.2px,#e2e2e2 257.5px,#ebebeb 258.8px,#efefef 260px,#f1f1f1 261.8px,#ececec 264.5px,#e4e4e4 265.8px,#dadada 266.8px,#cbcbcb 267.8px,#b5b5b5 269px,#505050 273.5px,#282828 275.8px,#181818 277px,#0e0e0e 278.2px,#060606 279.8px,#020202 281.5px,#000000 287.2px,#000000 420px)"></i>
<i style="top:91px;background:linear-gradient(90deg,#000000 0px,#000000 23.5px,#060606 28.5px,#111111 30.8px,#232323 32.8px,#393939 34.5px,#6b6b6b 38px,#7f7f7f 39.8px,#8b8b8b 41.5px,#8f8f8f 43.5px,#8c8c8c 45.2px,#7e7e7e 47px,#696969 48.5px,#2b2b2b 52.2px,#141414 54.2px,#060606 56.5px,#010101 59.2px,#000000 70px,#070707 73.5px,#111111 75px,#1e1e1e 76.2px,#585858 80.2px,#6c6c6c 82px,#787878 84px,#7c7c7c 86.8px,#797979 89px,#707070 90.8px,#5c5c5c 92.5px,#282828 95.8px,#141414 97.2px,#060606 99.2px,#010101 101.5px,#000000 112.2px,#070707 115.8px,#0f0f0f 117.2px,#1a1a1a 118.5px,#545454 123px,#686868 125px,#737373 127px,#757575 129.8px,#747474 132.2px,#6a6a6a 134.2px,#595959 136px,#272727 139.5px,#131313 141.2px,#060606 143.2px,#010101 145.5px,#010101 239.5px,#090909 242.8px,#111111 244px,#1d1d1d 245.2px,#2e2e2e 246.5px,#444444 247.8px,#aeaeae 252.5px,#d2d2d2 254.5px,#e1e1e1 255.8px,#eaeaea 257px,#efefef 258.2px,#f0f0f0 260px,#ececec 262.8px,#e4e4e4 264px,#dadada 265px,#cccccc 266px,#b6b6b6 267.2px,#515151 271.8px,#282828 274px,#191919 275.2px,#0e0e0e 276.5px,#060606 278px,#020202 279.8px,#000000 285.5px,#000000 420px)"></i>
<i style="top:92px;background:linear-gradient(90deg,#000000 0px,#000000 23.2px,#060606 28.2px,#111111 30.5px,#232323 32.5px,#393939 34.2px,#6b6b6b 37.8px,#7f7f7f 39.5px,#8a8a8a 41.2px,#8e8e8e 43.2px,#8b8b8b 45px,#7d7d7d 46.8px,#686868 48.2px,#2e2e2e 51.8px,#131313 54px,#060606 56.2px,#010101 59px,#000000 69.5px,#070707 73px,#0f0f0f 74.2px,#1b1b1b 75.5px,#595959 79.8px,#6c6c6c 81.5px,#787878 83.5px,#7b7b7b 86.2px,#797979 88.5px,#6f6f6f 90.2px,#5b5b5b 92px,#272727 95.2px,#141414 96.8px,#060606 98.8px,#010101 101px,#000000 111.5px,#070707 115px,#101010 116.5px,#1b1b1b 117.8px,#555555 122.2px,#676767 124px,#727272 126.2px,#757575 129px,#737373 131.5px,#686868 133.5px,#575757 135.2px,#252525 138.8px,#141414 140.2px,#070707 142.2px,#010101 144.5px,#010101 238px,#0a0a0a 241.2px,#121212 242.5px,#1f1f1f 243.8px,#313131 245px,#474747 246.2px,#adadad 250.8px,#d1d1d1 252.8px,#e0e0e0 254px,#eaeaea 255.2px,#efefef 256.5px,#f0f0f0 258.2px,#ececec 261px,#e4e4e4 262.2px,#dadada 263.2px,#cdcdcd 264.2px,#b6b6b6 265.5px,#515151 270px,#292929 272.2px,#191919 273.5px,#0e0e0e 274.8px,#070707 276.2px,#020202 278px,#000000 283.8px,#000000 420px)"></i>
<i style="top:93px;background:linear-gradient(90deg,#000000 0px,#000000 23px,#060606 28px,#111111 30.2px,#232323 32.2px,#393939 34px,#6b6b6b 37.5px,#7e7e7e 39.2px,#8a8a8a 41px,#8e8e8e 43px,#8a8a8a 44.8px,#7c7c7c 46.5px,#676767 48px,#2d2d2d 51.5px,#151515 53.5px,#070707 55.8px,#010101 58.8px,#000000 69px,#070707 72.2px,#101010 73.8px,#1c1c1c 75px,#595959 79.2px,#6d6d6d 81px,#787878 83px,#7a7a7a 85.5px,#797979 87.8px,#707070 89.5px,#5d5d5d 91.2px,#262626 94.8px,#131313 96.2px,#060606 98.2px,#010101 100.5px,#010101 110.8px,#070707 114.2px,#101010 115.8px,#1c1c1c 117px,#535353 121.2px,#676767 123.2px,#717171 125.2px,#747474 128px,#727272 130.5px,#696969 132.5px,#575757 134.2px,#272727 137.8px,#131313 139.5px,#070707 141.2px,#010101 143.5px,#010101 236.2px,#090909 239.5px,#121212 240.8px,#1e1e1e 242px,#2f2f2f 243.2px,#464646 244.5px,#ababab 249px,#c3c3c3 250.2px,#d3d3d3 251.2px,#e2e2e2 252.5px,#ebebeb 253.8px,#efefef 255px,#f0f0f0 256.8px,#ebebeb 259.5px,#dbdbdb 261.5px,#cdcdcd 262.5px,#b7b7b7 263.8px,#525252 268.2px,#292929 270.5px,#191919 271.8px,#0f0f0f 273px,#070707 274.5px,#020202 276.2px,#000000 282px,#000000 420px)"></i>
<i style="top:94px;background:linear-gradient(90deg,#000000 0px,#000000 23px,#070707 28px,#111111 30px,#232323 32px,#393939 33.8px,#6b6b6b 37.2px,#7e7e7e 39px,#8a8a8a 40.8px,#8d8d8d 42.8px,#898989 44.5px,#7b7b7b 46.2px,#656565 47.8px,#2b2b2b 51.2px,#141414 53.2px,#060606 55.5px,#010101 58.2px,#000000 68.5px,#070707 71.8px,#101010 73.2px,#1d1d1d 74.5px,#575757 78.5px,#6b6b6b 80.2px,#777777 82.2px,#7a7a7a 85px,#787878 87.2px,#6f6f6f 89px,#5c5c5c 90.8px,#252525 94.2px,#131313 95.8px,#050505 97.8px,#010101 100px,#000000 109.8px,#070707 113.2px,#0f0f0f 114.8px,#1a1a1a 116px,#545454 120.5px,#656565 122.2px,#717171 124.5px,#737373 127.2px,#717171 129.8px,#676767 131.8px,#555555 133.5px,#252525 137px,#141414 138.5px,#070707 140.5px,#010101 142.8px,#010101 234.8px,#090909 237.8px,#111111 239px,#1d1d1d 240.2px,#2e2e2e 241.5px,#444444 242.8px,#afafaf 247.5px,#d2d2d2 249.5px,#e1e1e1 250.8px,#eaeaea 252px,#efefef 253.2px,#f0f0f0 255px,#ebebeb 257.8px,#e3e3e3 259px,#d8d8d8 260px,#cacaca 261px,#b3b3b3 262.2px,#535353 266.5px,#2a2a2a 268.8px,#1a1a1a 270px,#0f0f0f 271.2px,#070707 272.8px,#020202 274.5px,#000000 280.2px,#000000 420px)"></i>
<i style="top:95px;background:linear-gradient(90deg,#000000 0px,#000000 22.8px,#070707 27.8px,#111111 29.8px,#232323 31.8px,#393939 33.5px,#6b6b6b 37px,#7e7e7e 38.8px,#898989 40.5px,#8d8d8d 42.5px,#898989 44.2px,#7a7a7a 46px,#646464 47.5px,#2e2e2e 50.8px,#131313 53px,#060606 55.2px,#010101 58px,#000000 68px,#070707 71.2px,#111111 72.8px,#1e1e1e 74px,#575757 78px,#6b6b6b 79.8px,#777777 81.8px,#797979 84.2px,#777777 86.8px,#6e6e6e 88.5px,#5a5a5a 90.2px,#282828 93.5px,#121212 95.2px,#060606 97px,#010101 99.5px,#000000 109px,#070707 112.5px,#101010 114px,#1b1b1b 115.2px,#525252 119.5px,#656565 121.5px,#707070 123.5px,#727272 126.2px,#717171 128.8px,#676767 130.8px,#565656 132.5px,#262626 136px,#151515 137.5px,#070707 139.5px,#010101 141.8px,#010101 233px,#090909 236px,#101010 237.2px,#1c1c1c 238.5px,#2d2d2d 239.8px,#434343 241px,#adadad 245.8px,#d1d1d1 247.8px,#e0e0e0 249px,#eaeaea 250.2px,#eeeeee 251.5px,#f0f0f0 253.2px,#ebebeb 256px,#e3e3e3 257.2px,#d9d9d9 258.2px,#cacaca 259.2px,#b4b4b4 260.5px,#4e4e4e 265px,#2a2a2a 267px,#1a1a1a 268.2px,#0d0d0d 269.8px,#060606 271.2px,#020202 273px,#000000 420px)"></i>
<i style="top:96px;background:linear-gradient(90deg,#000000 0px,#000000 22.5px,#070707 27.5px,#111111 29.5px,#232323 31.5px,#393939 33.2px,#6a6a6a 36.8px,#7e7e7e 38.5px,#898989 40.2px,#8c8c8c 42.2px,#888888 44px,#7b7b7b 45.5px,#676767 47px,#2d2d2d 50.5px,#151515 52.5px,#060606 54.8px,#010101 57.5px,#010101 67.5px,#070707 70.8px,#0f0f0f 72px,#1c1c1c 73.2px,#585858 77.5px,#6b6b6b 79.2px,#767676 81.2px,#797979 83.8px,#777777 86px,#6f6f6f 87.8px,#5c5c5c 89.5px,#272727 93px,#121212 94.8px,#060606 96.5px,#010101 99px,#010101 108.2px,#070707 111.8px,#111111 113.2px,#1c1c1c 114.5px,#525252 118.8px,#646464 120.5px,#6f6f6f 122.8px,#727272 125.5px,#707070 128px,#676767 129.8px,#545454 131.8px,#242424 135.2px,#141414 136.8px,#060606 138.8px,#010101 141px,#010101 231.2px,#0a0a0a 234.5px,#121212 235.8px,#1e1e1e 237px,#303030 238.2px,#464646 239.5px,#acacac 244px,#d0d0d0 246px,#e0e0e0 247.2px,#e9e9e9 248.5px,#eeeeee 249.8px,#f0f0f0 251.5px,#ebebeb 254.2px,#e3e3e3 255.5px,#d9d9d9 256.5px,#cbcbcb 257.5px,#b5b5b5 258.8px,#4f4f4f 263.2px,#272727 265.5px,#181818 266.8px,#0d0d0d 268px,#060606 269.5px,#020202 271.2px,#000000 420px)"></i>
<i style="top:97px;background:linear-gradient(90deg,#000000 0px,#000000 22.2px,#070707 27.2px,#111111 29.2px,#232323 31.2px,#393939 33px,#676767 36.2px,#7b7b7b 38px,#878787 39.8px,#8b8b8b 41.8px,#888888 43.5px,#7a7a7a 45.2px,#656565 46.8px,#2c2c2c 50.2px,#141414 52.2px,#060606 54.5px,#010101 57.2px,#000000 66.8px,#070707 70px,#101010 71.5px,#1c1c1c 72.8px,#555555 76.8px,#696969 78.5px,#757575 80.5px,#787878 83.2px,#767676 85.5px,#6e6e6e 87.2px,#5b5b5b 89px,#262626 92.5px,#141414 94px,#060606 96px,#010101 98.2px,#000000 107.2px,#070707 110.8px,#0f0f0f 112.2px,#1b1b1b 113.5px,#505050 117.8px,#646464 119.8px,#6e6e6e 121.8px,#717171 124.5px,#6f6f6f 127px,#666666 129px,#555555 130.8px,#262626 134.2px,#151515 135.8px,#070707 137.8px,#010101 140px,#010101 229.8px,#090909 232.8px,#111111 234px,#1d1d1d 235.2px,#2f2f2f 236.5px,#454545 237.8px,#aaaaaa 242.2px,#c3c3c3 243.5px,#d3d3d3 244.5px,#e1e1e1 245.8px,#eaeaea 247px,#efefef 250px,#ebebeb 252.5px,#e4e4e4 253.8px,#dadada 254.8px,#cccccc 255.8px,#b5b5b5 257px,#505050 261.5px,#282828 263.8px,#181818 265px,#0e0e0e 266.2px,#060606 267.8px,#020202 269.5px,#000000 420px)"></i>
<i style="top:98px;background:linear-gradient(90deg,#000000 0px,#000000 22px,#070707 27px,#111111 29px,#232323 31px,#393939 32.8px,#676767 36px,#7b7b7b 37.8px,#878787 39.5px,#8b8b8b 41.5px,#888888 43.2px,#797979 45px,#646464 46.5px,#2a2a2a 50px,#131313 52px,#060606 54.2px,#010101 57px,#000000 66.2px,#070707 69.5px,#101010 71px,#1d1d1d 72.2px,#565656 76.2px,#6a6a6a 78px,#757575 80px,#787878 82.5px,#767676 85px,#6d6d6d 86.8px,#5a5a5a 88.5px,#252525 92px,#131313 93.5px,#060606 95.5px,#010101 97.8px,#000000 106.5px,#070707 110px,#101010 111.5px,#1c1c1c 112.8px,#515151 117px,#626262 118.8px,#6e6e6e 121px,#707070 123.8px,#6e6e6e 126.2px,#666666 128px,#535353 130px,#242424 133.5px,#131313 135px,#060606 137px,#010101 139.2px,#010101 228px,#090909 231px,#111111 232.2px,#1d1d1d 233.5px,#2e2e2e 234.8px,#444444 236px,#afafaf 240.8px,#d2d2d2 242.8px,#e1e1e1 244px,#eaeaea 245.2px,#eeeeee 246.5px,#efefef 248.2px,#eaeaea 251px,#dadada 253px,#cccccc 254px,#b6b6b6 255.2px,#505050 259.8px,#282828 262px,#181818 263.2px,#0e0e0e 264.5px,#060606 266px,#020202 267.8px,#000000 420px)"></i>
<i style="top:99px;background:linear-gradient(90deg,#000000 0px,#000000 22px,#070707 26.8px,#111111 28.8px,#232323 30.8px,#353535 32.2px,#676767 35.8px,#7b7b7b 37.5px,#878787 39.2px,#8a8a8a 41.2px,#878787 43px,#787878 44.8px,#636363 46.2px,#2d2d2d 49.5px,#151515 51.5px,#060606 53.8px,#010101 56.5px,#010101 65.8px,#070707 69px,#0f0f0f 70.2px,#1b1b1b 71.5px,#575757 75.8px,#6a6a6a 77.5px,#757575 79.5px,#777777 82px,#757575 84.5px,#6c6c6c 86.2px,#595959 88px,#242424 91.5px,#131313 93px,#060606 95px,#010101 97.2px,#010101 106px,#080808 109.2px,#1a1a1a 111.8px,#525252 116.2px,#636363 118px,#6d6d6d 120px,#707070 122.8px,#6e6e6e 125.2px,#646464 127.2px,#545454 129px,#252525 132.5px,#141414 134px,#070707 136px,#010101 138.2px,#010101 226.2px,#090909 229.2px,#111111 230.5px,#1d1d1d 231.8px,#2e2e2e 233px,#444444 234.2px,#afafaf 239px,#d2d2d2 241px,#e1e1e1 242.2px,#eaeaea 243.5px,#eeeeee 244.8px,#efefef 246.5px,#eaeaea 249.2px,#d9d9d9 251.2px,#cbcbcb 252.2px,#b5b5b5 253.5px,#505050 258px,#272727 260.2px,#181818 261.5px,#0d0d0d 262.8px,#060606 264.2px,#020202 266px,#000000 420px)"></i>
<i style="top:100px;background:linear-gradient(90deg,#000000 0px,#000000 21.8px,#070707 26.5px,#111111 28.5px,#232323 30.5px,#353535 32px,#676767 35.5px,#7b7b7b 37.2px,#868686 39px,#8a8a8a 41px,#868686 42.8px,#7a7a7a 44.2px,#656565 45.8px,#2c2c2c 49.2px,#141414 51.2px,#060606 53.5px,#010101 56.2px,#010101 65.2px,#080808 68.5px,#101010 69.8px,#1c1c1c 71px,#545454 75px,#686868 76.8px,#747474 78.8px,#777777 81.5px,#757575 83.8px,#6c6c6c 85.5px,#5b5b5b 87.2px,#272727 90.8px,#121212 92.5px,#050505 94.5px,#010101 96.8px,#010101 105px,#070707 108.2px,#101010 109.8px,#1b1b1b 111px,#505050 115.2px,#616161 117px,#6c6c6c 119.2px,#6f6f6f 122px,#6d6d6d 124.5px,#656565 126.2px,#525252 128.2px,#232323 131.8px,#131313 133.2px,#060606 135.2px,#010101 137.5px,#010101 224.5px,#050505 226.5px,#0c0c0c 228px,#181818 229.5px,#272727 230.8px,#4f4f4f 233px,#b4b4b4 237.5px,#cacaca 238.8px,#d8d8d8 239.8px,#e2e2e2 240.8px,#eaeaea 242px,#eeeeee 244.8px,#e9e9e9 247.5px,#d8d8d8 249.5px,#cbcbcb 250.5px,#b5b5b5 251.8px,#505050 256.2px,#282828 258.5px,#181818 259.8px,#0e0e0e 261px,#060606 262.5px,#020202 264.2px,#000000 270.2px,#000000 420px)"></i>
<i style="top:101px;background:linear-gradient(90deg,#000000 0px,#000000 21.5px,#070707 26.2px,#111111 28.2px,#232323 30.2px,#676767 35.2px,#7b7b7b 37px,#868686 38.8px,#898989 40.8px,#858585 42.5px,#797979 44px,#646464 45.5px,#2a2a2a 49px,#131313 51px,#070707 53px,#010101 55.8px,#010101 64.8px,#080808 68px,#101010 69.2px,#1d1d1d 70.5px,#555555 74.5px,#686868 76.2px,#737373 78.2px,#767676 80.8px,#747474 83.2px,#6b6b6b 85px,#5a5a5a 86.8px,#262626 90.2px,#141414 91.8px,#060606 93.8px,#010101 96.2px,#010101 104.2px,#070707 107.5px,#191919 110px,#515151 114.5px,#616161 116.2px,#6b6b6b 118.2px,#6e6e6e 121px,#6c6c6c 123.5px,#636363 125.5px,#535353 127.2px,#242424 130.8px,#141414 132.2px,#070707 134.2px,#010101 136.5px,#010101 222.5px,#090909 225.5px,#101010 226.8px,#1c1c1c 228px,#2c2c2c 229.2px,#424242 230.5px,#aaaaaa 235.2px,#c2c2c2 236.5px,#d1d1d1 237.5px,#dfdfdf 238.8px,#e8e8e8 240px,#ededed 243px,#e9e9e9 245.5px,#e1e1e1 246.8px,#d8d8d8 247.8px,#cacaca 248.8px,#b4b4b4 250px,#515151 254.5px,#292929 256.8px,#191919 258px,#0d0d0d 259.5px,#060606 261px,#020202 262.8px,#000000 420px)"></i>
<i style="top:102px;background:linear-gradient(90deg,#000000 0px,#000000 21.2px,#070707 26px,#111111 28px,#232323 30px,#676767 35px,#7a7a7a 36.8px,#868686 38.5px,#898989 40.5px,#848484 42.2px,#787878 43.8px,#636363 45.2px,#2d2d2d 48.5px,#151515 50.5px,#060606 52.8px,#010101 55.5px,#000000 64px,#070707 67.2px,#0f0f0f 68.5px,#1b1b1b 69.8px,#565656 74px,#686868 75.8px,#737373 77.8px,#767676 80.2px,#737373 82.8px,#6a6a6a 84.5px,#585858 86.2px,#252525 89.8px,#141414 91.2px,#060606 93.2px,#010101 95.8px,#010101 103.5px,#080808 106.8px,#1a1a1a 109.2px,#4f4f4f 113.5px,#606060 115.2px,#6a6a6a 117.2px,#6d6d6d 120px,#6c6c6c 122.5px,#636363 124.5px,#505050 126.5px,#222222 130px,#131313 131.5px,#070707 133.2px,#010101 135.5px,#010101 220.8px,#050505 222.8px,#0c0c0c 224.2px,#171717 225.8px,#262626 227px,#4d4d4d 229.2px,#b4b4b4 234px,#c9c9c9 235.2px,#d7d7d7 236.2px,#e0e0e0 237.2px,#e8e8e8 238.5px,#ebebeb 241.2px,#e8e8e8 243.8px,#e0e0e0 245px,#d7d7d7 246px,#c9c9c9 247px,#b4b4b4 248.2px,#4d4d4d 253px,#262626 255.2px,#181818 256.5px,#0d0d0d 257.8px,#060606 259.2px,#020202 261px,#000000 420px)"></i>
<i style="top:103px;background:linear-gradient(90deg,#000000 0px,#000000 21px,#070707 25.8px,#111111 27.8px,#232323 29.8px,#676767 34.8px,#7a7a7a 36.5px,#858585 38.2px,#888888 40px,#858585 41.8px,#777777 43.5px,#626262 45px,#2c2c2c 48.2px,#141414 50.2px,#060606 52.5px,#010101 55.2px,#010101 63.5px,#070707 66.8px,#0f0f0f 68px,#1b1b1b 69.2px,#535353 73.2px,#666666 75px,#727272 77px,#757575 79.8px,#737373 82.2px,#696969 84px,#575757 85.8px,#242424 89.2px,#131313 90.8px,#060606 92.8px,#010101 95px,#010101 102.5px,#070707 105.8px,#101010 107.2px,#1b1b1b 108.5px,#505050 112.8px,#606060 114.5px,#6a6a6a 116.5px,#6d6d6d 119.2px,#6b6b6b 121.8px,#626262 123.8px,#515151 125.5px,#242424 129px,#141414 130.5px,#070707 132.5px,#010101 134.8px,#010101 218.8px,#0a0a0a 222px,#121212 223.2px,#1e1e1e 224.5px,#2f2f2f 225.8px,#444444 227px,#a5a5a5 231.5px,#cccccc 233.8px,#dbdbdb 235px,#e4e4e4 236.2px,#e9e9e9 237.5px,#eaeaea 239.2px,#e6e6e6 242px,#dfdfdf 243.2px,#d6d6d6 244.2px,#c9c9c9 245.2px,#b4b4b4 246.5px,#4e4e4e 251.2px,#272727 253.5px,#181818 254.8px,#0c0c0c 256.2px,#020202 259.5px,#000000 420px)"></i>
<i style="top:104px;background:linear-gradient(90deg,#000000 0px,#000000 20.8px,#070707 25.5px,#111111 27.5px,#202020 29.2px,#353535 31px,#676767 34.5px,#7a7a7a 36.2px,#858585 38px,#888888 39.8px,#848484 41.5px,#787878 43px,#646464 44.5px,#2b2b2b 48px,#131313 50px,#070707 52px,#010101 54.8px,#010101 63px,#080808 66.2px,#101010 67.5px,#1c1c1c 68.8px,#545454 72.8px,#676767 74.5px,#727272 76.5px,#757575 79px,#737373 81.5px,#6a6a6a 83.2px,#595959 85px,#242424 88.8px,#131313 90.2px,#060606 92.2px,#010101 94.5px,#010101 101.8px,#070707 105px,#1a1a1a 107.5px,#4d4d4d 111.8px,#5e5e5e 113.5px,#696969 115.5px,#6c6c6c 118.2px,#6a6a6a 120.8px,#626262 122.8px,#4f4f4f 124.8px,#222222 128.2px,#121212 129.8px,#070707 131.5px,#010101 133.8px,#010101 217px,#090909 220px,#1c1c1c 222.5px,#2c2c2c 223.8px,#414141 225px,#a6a6a6 229.8px,#cccccc 232px,#dadada 233.2px,#e3e3e3 234.5px,#e9e9e9 237.5px,#e4e4e4 240.5px,#dcdcdc 241.8px,#d2d2d2 242.8px,#c4c4c4 243.8px,#afafaf 245px,#4f4f4f 249.5px,#282828 251.8px,#191919 253px,#0d0d0d 254.5px,#020202 257.8px,#000000 420px)"></i>
<i style="top:105px;background:linear-gradient(90deg,#000000 0px,#000000 20.5px,#070707 25.2px,#111111 27.2px,#202020 29px,#353535 30.8px,#676767 34.2px,#7a7a7a 36px,#848484 37.8px,#878787 39.5px,#838383 41.2px,#777777 42.8px,#636363 44.2px,#292929 47.8px,#121212 49.8px,#060606 51.8px,#010101 54.5px,#010101 62.5px,#080808 65.8px,#101010 67px,#1d1d1d 68.2px,#545454 72.2px,#676767 74px,#727272 76px,#747474 78.5px,#727272 81px,#696969 82.8px,#585858 84.5px,#262626 88px,#121212 89.8px,#060606 91.8px,#010101 94px,#010101 101px,#080808 104.2px,#1a1a1a 106.8px,#4e4e4e 111px,#5f5f5f 112.8px,#686868 114.8px,#6b6b6b 117.5px,#696969 120px,#606060 122px,#505050 123.8px,#232323 127.2px,#131313 128.8px,#060606 130.8px,#010101 133px,#010101 215px,#0a0a0a 218.2px,#1d1d1d 220.8px,#2d2d2d 222px,#424242 223.2px,#a6a6a6 228px,#cbcbcb 230.2px,#d9d9d9 231.5px,#e2e2e2 232.8px,#e7e7e7 235.8px,#e3e3e3 238.8px,#dbdbdb 240px,#d1d1d1 241px,#afafaf 243.2px,#4b4b4b 248px,#262626 250.2px,#171717 251.5px,#0c0c0c 253px,#020202 256.2px,#000000 420px)"></i>
<i style="top:106px;background:linear-gradient(90deg,#000000 0px,#000000 20.2px,#070707 25px,#111111 27px,#202020 28.8px,#353535 30.5px,#676767 34px,#777777 35.5px,#838383 37.2px,#878787 39.2px,#838383 41px,#767676 42.5px,#626262 44px,#2c2c2c 47.2px,#141414 49.2px,#070707 51.2px,#010101 54px,#000000 61.8px,#070707 65px,#0f0f0f 66.2px,#1b1b1b 67.5px,#525252 71.5px,#656565 73.2px,#717171 75.2px,#747474 78px,#717171 80.5px,#686868 82.2px,#575757 84px,#252525 87.5px,#141414 89px,#060606 91px,#010101 93.5px,#010101 100.2px,#080808 103.5px,#1b1b1b 106px,#4c4c4c 110px,#5d5d5d 111.8px,#676767 113.8px,#6a6a6a 116.5px,#696969 119px,#606060 121px,#515151 122.8px,#212121 126.5px,#121212 128px,#070707 129.8px,#010101 132px,#020202 213.2px,#0a0a0a 216.5px,#1e1e1e 219px,#2f2f2f 220.2px,#444444 221.5px,#a6a6a6 226.2px,#c8c8c8 228.2px,#d6d6d6 229.5px,#dfdfdf 230.8px,#e5e5e5 232.2px,#e6e6e6 234px,#e1e1e1 237px,#d0d0d0 239.2px,#aeaeae 241.5px,#4c4c4c 246.2px,#262626 248.5px,#181818 249.8px,#0c0c0c 251.2px,#020202 254.5px,#000000 420px)"></i>
<i style="top:107px;background:linear-gradient(90deg,#000000 0px,#000000 20px,#070707 24.8px,#111111 26.8px,#202020 28.5px,#353535 30.2px,#666666 33.8px,#777777 35.2px,#838383 37px,#868686 39px,#828282 40.8px,#757575 42.2px,#606060 43.8px,#2b2b2b 47px,#131313 49px,#070707 51px,#010101 53.8px,#010101 61.5px,#070707 64.5px,#0f0f0f 65.8px,#1b1b1b 67px,#525252 71px,#656565 72.8px,#707070 74.8px,#737373 77.2px,#717171 79.8px,#696969 81.5px,#555555 83.5px,#242424 87px,#131313 88.5px,#060606 90.5px,#010101 93px,#010101 99.5px,#080808 102.5px,#1a1a1a 105px,#4d4d4d 109.2px,#5d5d5d 111px,#676767 113px,#6a6a6a 115.8px,#686868 118.2px,#5f5f5f 120.2px,#4f4f4f 122px,#232323 125.5px,#131313 127px,#060606 129px,#010101 131.2px,#010101 211.2px,#090909 214.5px,#1c1c1c 217px,#2c2c2c 218.2px,#404040 219.5px,#a2a2a2 224.2px,#c7c7c7 226.5px,#d5d5d5 227.8px,#dedede 229px,#e4e4e4 230.5px,#e5e5e5 232.2px,#e0e0e0 235.2px,#cfcfcf 237.5px,#aeaeae 239.8px,#4d4d4d 244.5px,#272727 246.8px,#191919 248px,#0d0d0d 249.5px,#060606 251px,#020202 253px,#000000 420px)"></i>
<i style="top:108px;background:linear-gradient(90deg,#000000 0px,#000000 20px,#070707 24.5px,#111111 26.5px,#202020 28.2px,#353535 30px,#666666 33.5px,#777777 35px,#828282 36.8px,#868686 38.8px,#818181 40.5px,#747474 42px,#636363 43.2px,#2a2a2a 46.8px,#131313 48.8px,#060606 50.8px,#010101 53.5px,#010101 61px,#080808 64px,#101010 65.2px,#1c1c1c 66.5px,#535353 70.5px,#656565 72.2px,#707070 74.2px,#727272 76.8px,#707070 79.2px,#686868 81px,#575757 82.8px,#232323 86.5px,#121212 88px,#060606 90px,#010101 92.2px,#010101 98.8px,#080808 101.8px,#1b1b1b 104.2px,#4b4b4b 108.2px,#5b5b5b 110px,#666666 112px,#696969 114.8px,#676767 117.2px,#5f5f5f 119.2px,#4f4f4f 121px,#212121 124.8px,#111111 126.2px,#070707 128px,#010101 130.2px,#020202 209.5px,#0a0a0a 212.8px,#1d1d1d 215.2px,#2d2d2d 216.5px,#424242 217.8px,#a2a2a2 222.5px,#c7c7c7 224.8px,#d4d4d4 226px,#dddddd 227.2px,#e2e2e2 228.8px,#e3e3e3 230.5px,#dfdfdf 233.5px,#cecece 235.8px,#aeaeae 238px,#4d4d4d 242.8px,#282828 245px,#1a1a1a 246.2px,#0e0e0e 247.8px,#060606 249.2px,#020202 251.2px,#000000 420px)"></i>
<i style="top:109px;background:linear-gradient(90deg,#000000 0px,#000000 19.8px,#070707 24.2px,#111111 26.2px,#202020 28px,#353535 29.8px,#636363 33px,#777777 34.8px,#828282 36.5px,#858585 38.2px,#828282 40px,#767676 41.5px,#626262 43px,#292929 46.5px,#121212 48.5px,#060606 50.5px,#010101 53.2px,#010101 60.5px,#080808 63.5px,#101010 64.8px,#1c1c1c 66px,#505050 69.8px,#636363 71.5px,#6f6f6f 73.5px,#727272 76.2px,#6f6f6f 78.8px,#676767 80.5px,#555555 82.2px,#242424 85.8px,#131313 87.2px,#060606 89.2px,#010101 91.8px,#010101 98px,#080808 101px,#1b1b1b 103.5px,#4b4b4b 107.5px,#5b5b5b 109.2px,#656565 111.2px,#686868 114px,#666666 116.5px,#5d5d5d 118.5px,#4d4d4d 120.2px,#212121 123.8px,#121212 125.2px,#070707 127px,#010101 129.2px,#010101 207.5px,#090909 210.8px,#1c1c1c 213.2px,#2b2b2b 214.5px,#3f3f3f 215.8px,#a2a2a2 220.8px,#c6c6c6 223px,#d3d3d3 224.2px,#dcdcdc 225.5px,#e1e1e1 227px,#e2e2e2 228.8px,#dedede 231.8px,#cdcdcd 234px,#adadad 236.2px,#4a4a4a 241.2px,#262626 243.5px,#181818 244.8px,#0d0d0d 246.2px,#060606 247.8px,#020202 249.8px,#000000 420px)"></i>
<i style="top:110px;background:linear-gradient(90deg,#000000 0px,#000000 19.5px,#070707 24px,#111111 26px,#202020 27.8px,#353535 29.5px,#636363 32.8px,#777777 34.5px,#828282 36.2px,#858585 38px,#818181 39.8px,#757575 41.2px,#616161 42.8px,#2c2c2c 46px,#141414 48px,#070707 50px,#010101 52.8px,#010101 60px,#080808 63px,#101010 64.2px,#1c1c1c 65.5px,#505050 69.2px,#636363 71px,#6f6f6f 73px,#717171 75.5px,#6f6f6f 78px,#676767 79.8px,#565656 81.5px,#262626 85px,#121212 86.8px,#050505 88.8px,#010101 91px,#010101 97px,#070707 100px,#191919 102.5px,#494949 106.5px,#5a5a5a 108.2px,#646464 110.2px,#676767 113px,#656565 115.5px,#5d5d5d 117.5px,#4d4d4d 119.2px,#222222 122.8px,#121212 124.2px,#070707 126px,#010101 128.2px,#020202 205.8px,#050505 207.8px,#0d0d0d 209.5px,#181818 211px,#262626 212.2px,#494949 214.5px,#ababab 219.5px,#cbcbcb 221.8px,#dcdcdc 224px,#e1e1e1 227px,#dcdcdc 230px,#cccccc 232.2px,#bdbdbd 233.5px,#a9a9a9 234.8px,#4a4a4a 239.5px,#272727 241.8px,#191919 243px,#0d0d0d 244.5px,#060606 246px,#020202 248px,#000000 420px)"></i>
<i style="top:111px;background:linear-gradient(90deg,#000000 0px,#000000 19.2px,#070707 23.8px,#101010 25.8px,#202020 27.5px,#353535 29.2px,#636363 32.5px,#777777 34.2px,#828282 36px,#848484 37.8px,#818181 39.5px,#757575 41px,#606060 42.5px,#2b2b2b 45.8px,#141414 47.8px,#070707 49.8px,#010101 52.5px,#010101 59.5px,#080808 62.5px,#101010 63.8px,#1d1d1d 65px,#515151 68.8px,#646464 70.5px,#6e6e6e 72.5px,#717171 75px,#6f6f6f 77.5px,#666666 79.2px,#555555 81px,#242424 84.5px,#131313 86px,#060606 88px,#010101 90.2px,#010101 96.2px,#070707 99.2px,#1a1a1a 101.8px,#494949 105.8px,#595959 107.5px,#636363 109.5px,#666666 112.2px,#646464 114.8px,#5d5d5d 116.5px,#4e4e4e 118.2px,#202020 122px,#111111 123.5px,#060606 125.2px,#010101 127.5px,#010101 203.8px,#090909 207px,#1b1b1b 209.5px,#2a2a2a 210.8px,#414141 212.2px,#9e9e9e 217px,#c2c2c2 219.2px,#cfcfcf 220.5px,#dadada 222px,#dedede 223.5px,#dfdfdf 225.2px,#dbdbdb 228.2px,#cbcbcb 230.5px,#bcbcbc 231.8px,#a8a8a8 233px,#4b4b4b 237.8px,#242424 240.2px,#171717 241.5px,#0c0c0c 243px,#020202 246.5px,#000000 420px)"></i>
<i style="top:112px;background:linear-gradient(90deg,#000000 0px,#000000 19px,#060606 23.5px,#101010 25.5px,#202020 27.2px,#323232 28.8px,#636363 32.2px,#777777 34px,#818181 35.8px,#848484 37.5px,#808080 39.2px,#747474 40.8px,#5f5f5f 42.2px,#2b2b2b 45.5px,#131313 47.5px,#070707 49.5px,#010101 52.2px,#010101 59px,#080808 62px,#1a1a1a 64.2px,#515151 68.2px,#646464 70px,#6e6e6e 72px,#707070 74.5px,#6e6e6e 77px,#656565 78.8px,#535353 80.5px,#252525 83.8px,#141414 85.2px,#060606 87.2px,#010101 89.5px,#010101 95.5px,#080808 98.5px,#1a1a1a 101px,#474747 104.8px,#585858 106.5px,#626262 108.5px,#656565 111.2px,#636363 113.8px,#5b5b5b 115.8px,#4b4b4b 117.5px,#202020 121px,#111111 122.5px,#060606 124.2px,#010101 126.5px,#020202 202px,#0b0b0b 205.5px,#151515 207px,#252525 208.5px,#4b4b4b 211px,#a7a7a7 215.8px,#bbbbbb 217px,#cacaca 218.2px,#dadada 220.5px,#dedede 223.5px,#dadada 226.5px,#cacaca 228.8px,#bbbbbb 230px,#a8a8a8 231.2px,#484848 236.2px,#252525 238.5px,#181818 239.8px,#0d0d0d 241.2px,#020202 244.8px,#000000 420px)"></i>
<i style="top:113px;background:linear-gradient(90deg,#000000 0px,#000000 18.8px,#060606 23.2px,#101010 25.2px,#202020 27px,#323232 28.5px,#636363 32px,#777777 33.8px,#818181 35.5px,#848484 37.2px,#7f7f7f 39px,#737373 40.5px,#5e5e5e 42px,#2a2a2a 45.2px,#131313 47.2px,#070707 49.2px,#010101 52px,#010101 58.5px,#080808 61.5px,#1a1a1a 63.8px,#515151 67.8px,#616161 69.2px,#6d6d6d 71.2px,#707070 73.8px,#6e6e6e 76.2px,#656565 78px,#545454 79.8px,#232323 83.2px,#121212 84.8px,#050505 86.8px,#010101 89px,#010101 94.8px,#080808 97.8px,#181818 100px,#474747 104px,#585858 105.8px,#616161 107.8px,#646464 110.5px,#626262 113px,#5b5b5b 114.8px,#4c4c4c 116.5px,#212121 120px,#121212 121.5px,#070707 123.2px,#010101 125.5px,#010101 200px,#050505 202px,#0c0c0c 203.8px,#161616 205.2px,#232323 206.5px,#484848 209px,#a7a7a7 214px,#bababa 215.2px,#c9c9c9 216.5px,#d9d9d9 218.8px,#dddddd 221.8px,#d9d9d9 224.8px,#c9c9c9 227px,#bbbbbb 228.2px,#a8a8a8 229.5px,#484848 234.5px,#262626 236.8px,#161616 238.2px,#0c0c0c 239.8px,#020202 243.2px,#000000 420px)"></i>
<i style="top:114px;background:linear-gradient(90deg,#000000 0px,#000000 18.8px,#070707 23.2px,#101010 25px,#202020 26.8px,#323232 28.2px,#636363 31.8px,#747474 33.2px,#808080 35px,#838383 36.8px,#808080 38.5px,#727272 40.2px,#616161 41.5px,#292929 45px,#131313 47px,#060606 49px,#010101 51.8px,#010101 58px,#080808 61px,#1a1a1a 63.2px,#4e4e4e 67px,#626262 68.8px,#6d6d6d 70.8px,#6f6f6f 73.2px,#6d6d6d 75.8px,#646464 77.5px,#525252 79.2px,#242424 82.5px,#131313 84px,#060606 86px,#010101 88.2px,#010101 94px,#080808 97px,#191919 99.2px,#484848 103.2px,#575757 105px,#616161 107px,#636363 109.5px,#616161 112px,#595959 114px,#494949 115.8px,#212121 119px,#121212 120.5px,#070707 122.2px,#010101 124.5px,#020202 198.2px,#0b0b0b 201.8px,#151515 203.2px,#242424 204.8px,#494949 207.2px,#a7a7a7 212.2px,#bababa 213.5px,#c8c8c8 214.8px,#d7d7d7 217px,#dcdcdc 220px,#d7d7d7 223px,#c8c8c8 225.2px,#bababa 226.5px,#a7a7a7 227.8px,#494949 232.8px,#242424 235.2px,#151515 236.8px,#0b0b0b 238.2px,#020202 241.8px,#000000 420px)"></i>
<i style="top:115px;background:linear-gradient(90deg,#000000 0px,#000000 18.5px,#070707 23px,#101010 24.8px,#202020 26.5px,#323232 28px,#636363 31.5px,#747474 33px,#808080 34.8px,#838383 36.5px,#7f7f7f 38.2px,#747474 39.8px,#606060 41.2px,#292929 44.8px,#121212 46.8px,#060606 48.8px,#010101 51.2px,#010101 57.5px,#080808 60.5px,#1b1b1b 62.8px,#4f4f4f 66.5px,#626262 68.2px,#6c6c6c 70.2px,#6f6f6f 72.8px,#6d6d6d 75px,#646464 76.8px,#535353 78.5px,#222222 82px,#121212 83.5px,#060606 85.2px,#010101 87.5px,#010101 93px,#070707 96px,#191919 98.5px,#454545 102.2px,#565656 104px,#5f5f5f 106px,#626262 108.8px,#606060 111.2px,#595959 113px,#494949 114.8px,#1f1f1f 118.2px,#101010 119.8px,#060606 121.5px,#010101 123.5px,#020202 196.2px,#0b0b0b 200px,#161616 201.5px,#252525 203px,#464646 205.2px,#a7a7a7 210.5px,#b9b9b9 211.8px,#c7c7c7 213px,#d6d6d6 215.2px,#dadada 218.2px,#d6d6d6 221.2px,#c7c7c7 223.5px,#b9b9b9 224.8px,#a7a7a7 226px,#4a4a4a 231px,#252525 233.5px,#151515 235px,#0b0b0b 236.5px,#020202 240px,#000000 420px)"></i>
<i style="top:116px;background:linear-gradient(90deg,#000000 0px,#000000 18.2px,#070707 22.8px,#101010 24.5px,#202020 26.2px,#323232 27.8px,#636363 31.2px,#747474 32.8px,#7f7f7f 34.5px,#828282 36.2px,#7f7f7f 38px,#737373 39.5px,#606060 41px,#282828 44.5px,#141414 46.2px,#070707 48.2px,#010101 51px,#010101 57.2px,#080808 60px,#1b1b1b 62.2px,#4f4f4f 66px,#626262 67.8px,#6b6b6b 69.5px,#6e6e6e 72px,#6c6c6c 74.5px,#636363 76.2px,#515151 78px,#232323 81.2px,#121212 82.8px,#060606 84.8px,#010101 87px,#010101 92.5px,#070707 95.2px,#171717 97.5px,#464646 101.5px,#555555 103.2px,#5f5f5f 105.2px,#616161 107.8px,#5f5f5f 110.2px,#585858 112px,#4a4a4a 113.8px,#202020 117.2px,#111111 118.8px,#060606 120.5px,#010101 122.8px,#020202 194.5px,#0b0b0b 198px,#141414 199.5px,#232323 201px,#474747 203.5px,#a3a3a3 208.5px,#b6b6b6 209.8px,#c4c4c4 211px,#cfcfcf 212.2px,#d5d5d5 213.5px,#d9d9d9 216.5px,#d5d5d5 219.5px,#cecece 220.8px,#c4c4c4 222px,#a2a2a2 224.5px,#464646 229.5px,#252525 231.8px,#161616 233.2px,#0c0c0c 234.8px,#020202 238.5px,#000000 420px)"></i>
<i style="top:117px;background:linear-gradient(90deg,#000000 0px,#000000 18px,#070707 22.5px,#101010 24.2px,#202020 26px,#646464 31px,#747474 32.5px,#7f7f7f 34.2px,#828282 36px,#7e7e7e 37.8px,#727272 39.2px,#5f5f5f 40.8px,#2b2b2b 44px,#141414 46px,#070707 48px,#010101 50.8px,#010101 56.8px,#080808 59.5px,#1b1b1b 61.8px,#4f4f4f 65.5px,#606060 67px,#6b6b6b 69px,#6e6e6e 71.5px,#6c6c6c 73.8px,#646464 75.5px,#535353 77.2px,#212121 80.8px,#111111 82.2px,#060606 84px,#010101 86.2px,#010101 91.8px,#080808 94.5px,#181818 96.8px,#434343 100.5px,#545454 102.2px,#5e5e5e 104.2px,#606060 107px,#5e5e5e 109.5px,#565656 111.2px,#474747 113px,#202020 116.2px,#111111 117.8px,#070707 119.5px,#010101 121.8px,#020202 192.5px,#0b0b0b 196.2px,#151515 197.8px,#242424 199.2px,#484848 201.8px,#a3a3a3 206.8px,#c4c4c4 209.2px,#d4d4d4 211.8px,#d8d8d8 214.8px,#d4d4d4 217.8px,#c3c3c3 220.2px,#a2a2a2 222.8px,#474747 227.8px,#232323 230.2px,#151515 231.8px,#0b0b0b 233.2px,#020202 236.8px,#000000 420px)"></i>
<i style="top:118px;background:linear-gradient(90deg,#000000 0px,#000000 17.8px,#070707 22.2px,#101010 24px,#202020 25.8px,#606060 30.5px,#747474 32.2px,#7f7f7f 34px,#818181 35.8px,#7e7e7e 37.5px,#727272 39px,#5e5e5e 40.5px,#2a2a2a 43.8px,#131313 45.8px,#070707 47.8px,#010101 50.5px,#010101 56.2px,#080808 59px,#1b1b1b 61.2px,#505050 65px,#606060 66.5px,#6a6a6a 68.2px,#6d6d6d 70.8px,#6b6b6b 73.2px,#626262 75px,#515151 76.8px,#232323 80px,#121212 81.5px,#060606 83.2px,#010101 85.5px,#010101 91px,#080808 93.8px,#181818 96px,#444444 99.8px,#545454 101.5px,#5d5d5d 103.5px,#5f5f5f 106px,#5d5d5d 108.5px,#565656 110.2px,#484848 112px,#1e1e1e 115.5px,#101010 117px,#060606 118.8px,#010101 120.8px,#020202 190.8px,#0c0c0c 194.5px,#161616 196px,#252525 197.5px,#494949 200px,#a3a3a3 205px,#c3c3c3 207.5px,#d3d3d3 210px,#d6d6d6 213px,#d2d2d2 216px,#c2c2c2 218.5px,#a2a2a2 221px,#484848 226px,#242424 228.5px,#151515 230px,#0b0b0b 231.5px,#020202 235.2px,#000000 420px)"></i>
<i style="top:119px;background:linear-gradient(90deg,#000000 0px,#000000 17.5px,#070707 22px,#101010 23.8px,#202020 25.5px,#606060 30.2px,#747474 32px,#7f7f7f 33.8px,#818181 35.5px,#7d7d7d 37.2px,#717171 38.8px,#5d5d5d 40.2px,#2a2a2a 43.5px,#131313 45.5px,#070707 47.5px,#010101 50.2px,#010101 55.8px,#080808 58.5px,#1c1c1c 60.8px,#4d4d4d 64.2px,#606060 66px,#6a6a6a 67.8px,#6d6d6d 70.2px,#6b6b6b 72.5px,#636363 74.2px,#525252 76px,#242424 79.2px,#131313 80.8px,#070707 82.5px,#010101 84.8px,#010101 90px,#070707 92.8px,#161616 95px,#444444 99px,#535353 100.8px,#5c5c5c 102.8px,#5e5e5e 105.2px,#5c5c5c 107.8px,#545454 109.5px,#454545 111.2px,#1f1f1f 114.5px,#101010 116px,#060606 117.8px,#010101 119.8px,#020202 188.8px,#0b0b0b 192.5px,#151515 194px,#232323 195.5px,#464646 198px,#a3a3a3 203.2px,#c2c2c2 205.8px,#d1d1d1 208.2px,#d5d5d5 211.2px,#d1d1d1 214.2px,#c1c1c1 216.8px,#a1a1a1 219.2px,#484848 224.2px,#252525 226.8px,#161616 228.2px,#0c0c0c 229.8px,#020202 233.5px,#000000 420px)"></i>
<i style="top:120px;background:linear-gradient(90deg,#000000 0px,#000000 17.2px,#070707 21.8px,#101010 23.5px,#202020 25.2px,#606060 30px,#717171 31.5px,#7d7d7d 33.2px,#818181 35px,#7e7e7e 36.8px,#707070 38.5px,#606060 39.8px,#292929 43.2px,#131313 45.2px,#060606 47.2px,#010101 50px,#010101 55.2px,#080808 58px,#1c1c1c 60.2px,#4d4d4d 63.8px,#606060 65.5px,#696969 67.2px,#6c6c6c 69.8px,#6a6a6a 72px,#626262 73.8px,#505050 75.5px,#222222 78.8px,#111111 80.2px,#060606 82px,#010101 84.2px,#010101 89.2px,#070707 92px,#171717 94.2px,#424242 98px,#525252 99.8px,#5b5b5b 101.8px,#5d5d5d 104.2px,#5b5b5b 106.8px,#545454 108.5px,#464646 110.2px,#1f1f1f 113.5px,#111111 115px,#060606 116.8px,#010101 118.8px,#020202 187px,#0b0b0b 190.8px,#151515 192.2px,#232323 193.8px,#464646 196.2px,#a2a2a2 201.5px,#c1c1c1 204px,#d0d0d0 206.5px,#d4d4d4 209.5px,#d0d0d0 212.5px,#c0c0c0 215px,#a1a1a1 217.5px,#494949 222.5px,#252525 225px,#161616 226.5px,#0c0c0c 228px,#020202 231.8px,#000000 420px)"></i>
<i style="top:121px;background:linear-gradient(90deg,#000000 0px,#000000 17px,#070707 21.5px,#101010 23.2px,#202020 25px,#606060 29.8px,#717171 31.2px,#7d7d7d 33px,#808080 34.8px,#7d7d7d 36.5px,#6f6f6f 38.2px,#5f5f5f 39.5px,#282828 43px,#121212 45px,#060606 47px,#010101 49.5px,#010101 54.8px,#080808 57.5px,#1c1c1c 59.8px,#4d4d4d 63.2px,#5e5e5e 64.8px,#686868 66.5px,#6c6c6c 69px,#6a6a6a 71.2px,#626262 73px,#515151 74.8px,#232323 78px,#121212 79.5px,#060606 81.2px,#010101 83.5px,#010101 88.5px,#070707 91.2px,#171717 93.5px,#424242 97.2px,#515151 99px,#5a5a5a 101px,#5c5c5c 103.2px,#5b5b5b 105.8px,#525252 107.8px,#434343 109.5px,#111111 114px,#060606 115.8px,#010101 117.8px,#020202 185.2px,#0c0c0c 189px,#151515 190.5px,#242424 192px,#474747 194.5px,#9e9e9e 199.5px,#b3b3b3 201px,#c0c0c0 202.2px,#cfcfcf 204.8px,#d3d3d3 207.8px,#cfcfcf 210.8px,#bfbfbf 213.2px,#a0a0a0 215.8px,#454545 221px,#222222 223.5px,#141414 225px,#0b0b0b 226.5px,#020202 230.2px,#000000 420px)"></i>
<i style="top:122px;background:linear-gradient(90deg,#000000 0px,#000000 17px,#070707 21.2px,#101010 23px,#202020 24.8px,#606060 29.5px,#717171 31px,#7d7d7d 32.8px,#808080 34.5px,#7c7c7c 36.2px,#717171 37.8px,#5e5e5e 39.2px,#282828 42.8px,#141414 44.5px,#070707 46.5px,#010101 49.2px,#010101 54.2px,#080808 57px,#191919 59px,#4d4d4d 62.8px,#5e5e5e 64.2px,#686868 66px,#6b6b6b 68.5px,#696969 70.8px,#616161 72.5px,#4f4f4f 74.2px,#252525 77.2px,#131313 78.8px,#070707 80.5px,#010101 82.8px,#010101 87.8px,#080808 90.5px,#181818 92.8px,#404040 96.2px,#505050 98px,#595959 100px,#5b5b5b 102.5px,#595959 105px,#525252 106.8px,#444444 108.5px,#1e1e1e 111.8px,#101010 113.2px,#060606 115px,#010101 117px,#020202 183.5px,#0c0c0c 187.2px,#161616 188.8px,#252525 190.2px,#484848 192.8px,#9e9e9e 197.8px,#bdbdbd 200.2px,#cdcdcd 202.8px,#d2d2d2 206px,#cecece 209px,#bebebe 211.5px,#9f9f9f 214px,#454545 219.2px,#232323 221.8px,#151515 223.2px,#0b0b0b 224.8px,#020202 228.5px,#000000 420px)"></i>
<i style="top:123px;background:linear-gradient(90deg,#000000 0px,#000000 16.8px,#070707 21px,#101010 22.8px,#202020 24.5px,#616161 29.2px,#717171 30.8px,#7c7c7c 32.5px,#7f7f7f 34.2px,#7c7c7c 36px,#707070 37.5px,#5d5d5d 39px,#2b2b2b 42.2px,#141414 44.2px,#070707 46.2px,#010101 49px,#010101 54px,#090909 56.5px,#1a1a1a 58.5px,#4e4e4e 62.2px,#5e5e5e 63.8px,#686868 65.5px,#6b6b6b 68px,#686868 70.2px,#606060 72px,#515151 73.5px,#232323 76.8px,#121212 78.2px,#060606 80px,#010101 82.2px,#010101 87px,#080808 89.8px,#161616 91.8px,#404040 95.5px,#505050 97.2px,#585858 99.2px,#5a5a5a 101.5px,#595959 104px,#525252 105.8px,#444444 107.5px,#1e1e1e 110.8px,#101010 112.2px,#060606 114px,#010101 116px,#020202 181.5px,#0b0b0b 185.2px,#141414 186.8px,#222222 188.2px,#444444 190.8px,#9e9e9e 196px,#bdbdbd 198.5px,#cccccc 201px,#d0d0d0 204.2px,#cdcdcd 207.2px,#bdbdbd 209.8px,#9f9f9f 212.2px,#454545 217.5px,#232323 220px,#151515 221.5px,#0c0c0c 223px,#020202 226.8px,#000000 420px)"></i>
<i style="top:124px;background:linear-gradient(90deg,#000000 0px,#000000 16.5px,#070707 20.8px,#101010 22.5px,#202020 24.2px,#616161 29px,#717171 30.5px,#7c7c7c 32.2px,#7f7f7f 34px,#7b7b7b 35.8px,#6f6f6f 37.2px,#5c5c5c 38.8px,#2a2a2a 42px,#131313 44px,#070707 46px,#010101 48.8px,#010101 53.5px,#090909 56px,#1a1a1a 58px,#4b4b4b 61.5px,#5c5c5c 63px,#676767 64.8px,#6a6a6a 67.2px,#686868 69.5px,#606060 71.2px,#4f4f4f 73px,#242424 76px,#121212 77.5px,#060606 79.2px,#010101 81.5px,#010101 86px,#070707 88.8px,#171717 91px,#404040 94.8px,#4e4e4e 96.2px,#575757 98.2px,#595959 100.8px,#585858 103.2px,#505050 105px,#424242 106.8px,#101010 111.2px,#060606 113px,#010101 115px,#020202 179.8px,#0c0c0c 183.5px,#151515 185px,#232323 186.5px,#454545 189px,#9e9e9e 194.2px,#bcbcbc 196.8px,#cbcbcb 199.2px,#cfcfcf 202.5px,#cccccc 205.5px,#bcbcbc 208px,#9e9e9e 210.5px,#464646 215.8px,#232323 218.2px,#151515 219.8px,#0c0c0c 221.2px,#050505 223px,#020202 225.2px,#000000 420px)"></i>
<i style="top:125px;background:linear-gradient(90deg,#000000 0px,#000000 16.2px,#070707 20.5px,#101010 22.2px,#202020 24px,#616161 28.8px,#717171 30.2px,#7c7c7c 32px,#7e7e7e 33.8px,#7a7a7a 35.5px,#6f6f6f 37px,#5b5b5b 38.5px,#292929 41.8px,#131313 43.8px,#070707 45.8px,#010101 48.5px,#010101 53px,#090909 55.5px,#1a1a1a 57.5px,#4b4b4b 61px,#5c5c5c 62.5px,#666666 64.2px,#696969 66.8px,#686868 69px,#5f5f5f 70.8px,#505050 72.2px,#222222 75.5px,#111111 77px,#060606 78.8px,#010101 80.8px,#010101 85.2px,#070707 88px,#171717 90.2px,#3e3e3e 93.8px,#4e4e4e 95.5px,#575757 97.5px,#585858 99.8px,#575757 102.2px,#505050 104px,#424242 105.8px,#111111 110.2px,#060606 112px,#010101 114px,#020202 178px,#0c0c0c 181.8px,#151515 183.2px,#242424 184.8px,#454545 187.2px,#9d9d9d 192.5px,#bbbbbb 195px,#cacaca 197.5px,#cecece 200.8px,#cacaca 203.8px,#bbbbbb 206.2px,#9e9e9e 208.8px,#424242 214.2px,#212121 216.8px,#141414 218.2px,#0b0b0b 219.8px,#020202 223.5px,#000000 420px)"></i>
<i style="top:126px;background:linear-gradient(90deg,#000000 0px,#000000 16px,#070707 20.2px,#101010 22px,#202020 23.8px,#5d5d5d 28.2px,#717171 30px,#7b7b7b 31.5px,#7e7e7e 33.2px,#7b7b7b 35px,#6e6e6e 36.8px,#5a5a5a 38.2px,#292929 41.5px,#121212 43.5px,#070707 45.5px,#010101 48px,#010101 52.5px,#090909 55px,#1a1a1a 57px,#4b4b4b 60.5px,#5c5c5c 62px,#666666 63.8px,#696969 66.2px,#676767 68.5px,#5f5f5f 70px,#4e4e4e 71.8px,#232323 74.8px,#121212 76.2px,#060606 78px,#010101 80.2px,#010101 84.8px,#070707 87.2px,#181818 89.5px,#3f3f3f 93px,#4c4c4c 94.5px,#555555 96.5px,#575757 99px,#565656 101.5px,#4e4e4e 103.2px,#404040 105px,#1d1d1d 108px,#0f0f0f 109.5px,#060606 111px,#010101 113px,#020202 176px,#0b0b0b 179.8px,#141414 181.2px,#212121 182.8px,#424242 185.2px,#9d9d9d 190.8px,#bababa 193.2px,#c9c9c9 195.8px,#cdcdcd 199px,#c9c9c9 202px,#bababa 204.5px,#9d9d9d 207px,#424242 212.5px,#212121 215px,#141414 216.5px,#0b0b0b 218px,#020202 221.8px,#000000 420px)"></i>
<i style="top:127px;background:linear-gradient(90deg,#000000 0px,#000000 15.8px,#070707 20px,#101010 21.8px,#202020 23.5px,#5d5d5d 28px,#6f6f6f 29.5px,#7a7a7a 31.2px,#7e7e7e 33px,#7a7a7a 34.8px,#6d6d6d 36.5px,#5d5d5d 37.8px,#282828 41.2px,#121212 43.2px,#060606 45.2px,#010101 47.8px,#010101 52px,#090909 54.5px,#1b1b1b 56.5px,#4c4c4c 60px,#5c5c5c 61.5px,#666666 63.2px,#686868 65.5px,#676767 67.8px,#5e5e5e 69.5px,#4f4f4f 71px,#212121 74.2px,#101010 75.8px,#050505 77.5px,#010101 79.5px,#010101 84px,#080808 86.5px,#161616 88.5px,#3f3f3f 92.2px,#4c4c4c 93.8px,#555555 95.8px,#575757 98px,#555555 100.5px,#4e4e4e 102.2px,#404040 104px,#101010 108.5px,#060606 110.2px,#010101 112.2px,#020202 174.2px,#0b0b0b 178px,#141414 179.5px,#222222 181px,#434343 183.5px,#999999 188.8px,#adadad 190.2px,#bababa 191.5px,#c8c8c8 194px,#cccccc 197px,#c8c8c8 200.2px,#bababa 202.8px,#9d9d9d 205.2px,#424242 210.8px,#222222 213.2px,#141414 214.8px,#0b0b0b 216.2px,#010101 220.2px,#000000 420px)"></i>
<i style="top:128px;background:linear-gradient(90deg,#000000 0px,#000000 15.5px,#070707 19.8px,#101010 21.5px,#202020 23.2px,#5d5d5d 27.8px,#6e6e6e 29.2px,#7a7a7a 31px,#7d7d7d 32.8px,#7a7a7a 34.5px,#6f6f6f 36px,#5c5c5c 37.5px,#272727 41px,#121212 43px,#060606 45px,#010101 47.5px,#010101 51.5px,#090909 54px,#1b1b1b 56px,#4c4c4c 59.5px,#5c5c5c 61px,#666666 62.8px,#686868 65px,#666666 67.2px,#5f5f5f 68.8px,#4d4d4d 70.5px,#232323 73.5px,#111111 75px,#060606 76.8px,#010101 78.8px,#010101 83px,#070707 85.5px,#161616 87.8px,#3d3d3d 91.2px,#4c4c4c 93px,#535353 94.8px,#565656 97.2px,#545454 99.8px,#4c4c4c 101.5px,#404040 103px,#101010 107.5px,#060606 109.2px,#010101 111.2px,#020202 172.8px,#0c0c0c 176.5px,#161616 178px,#242424 179.5px,#464646 182px,#999999 187px,#adadad 188.5px,#bababa 189.8px,#c9c9c9 192.2px,#cccccc 195.2px,#c8c8c8 198.5px,#b9b9b9 201px,#9c9c9c 203.5px,#414141 209px,#212121 211.5px,#141414 213px,#0b0b0b 214.5px,#020202 218.2px,#000000 420px)"></i>
<i style="top:129px;background:linear-gradient(90deg,#000000 0px,#000000 15.2px,#070707 19.5px,#101010 21.2px,#202020 23px,#5e5e5e 27.5px,#6e6e6e 29px,#7a7a7a 30.8px,#7d7d7d 32.5px,#797979 34.2px,#6e6e6e 35.8px,#5b5b5b 37.2px,#272727 40.8px,#141414 42.5px,#070707 44.5px,#010101 47.2px,#010101 51.2px,#090909 53.5px,#1b1b1b 55.5px,#494949 58.8px,#5a5a5a 60.2px,#646464 62px,#676767 64.5px,#656565 66.8px,#5d5d5d 68.2px,#4f4f4f 69.8px,#212121 73px,#121212 74.2px,#060606 76px,#010101 78px,#010101 82.2px,#070707 84.8px,#141414 86.8px,#3d3d3d 90.5px,#4a4a4a 92px,#535353 94px,#555555 96.2px,#535353 98.8px,#4c4c4c 100.5px,#3e3e3e 102.2px,#1c1c1c 105.2px,#0f0f0f 106.8px,#060606 108.2px,#010101 110.2px,#020202 171px,#0c0c0c 174.8px,#151515 176.2px,#232323 177.8px,#454545 180.2px,#9d9d9d 185.5px,#bababa 188px,#c9c9c9 190.5px,#cdcdcd 193.5px,#c9c9c9 196.8px,#b9b9b9 199.2px,#9c9c9c 201.8px,#444444 207px,#232323 209.5px,#151515 211px,#0b0b0b 212.5px,#010101 216.5px,#000000 420px)"></i>
<i style="top:130px;background:linear-gradient(90deg,#000000 0px,#000000 15px,#070707 19.2px,#101010 21px,#202020 22.8px,#5e5e5e 27.2px,#6e6e6e 28.8px,#7a7a7a 30.5px,#7c7c7c 32.2px,#797979 34px,#6d6d6d 35.5px,#5a5a5a 37px,#292929 40.2px,#131313 42.2px,#070707 44.2px,#010101 47px,#010101 50.8px,#090909 53px,#1b1b1b 55px,#494949 58.2px,#5a5a5a 59.8px,#646464 61.5px,#676767 63.8px,#656565 66px,#5e5e5e 67.5px,#4d4d4d 69.2px,#222222 72.2px,#111111 73.8px,#050505 75.5px,#010101 77.5px,#010101 81.5px,#070707 84px,#151515 86px,#3d3d3d 89.8px,#4a4a4a 91.2px,#515151 93px,#545454 95.5px,#525252 97.8px,#4c4c4c 99.5px,#3e3e3e 101.2px,#0f0f0f 105.8px,#060606 107.2px,#010101 109.2px,#020202 169.2px,#0b0b0b 173px,#151515 174.5px,#232323 176px,#454545 178.5px,#9c9c9c 183.8px,#bababa 186.2px,#c9c9c9 188.8px,#cdcdcd 191.8px,#cacaca 194.8px,#bbbbbb 197.2px,#afafaf 198.5px,#9b9b9b 200px,#434343 205.2px,#222222 207.8px,#141414 209.2px,#0b0b0b 210.8px,#010101 214.8px,#000000 420px)"></i>
<i style="top:131px;background:linear-gradient(90deg,#000000 0px,#010101 15px,#070707 19px,#101010 20.8px,#202020 22.5px,#5e5e5e 27px,#6e6e6e 28.5px,#797979 30.2px,#7c7c7c 32px,#787878 33.8px,#6c6c6c 35.2px,#5a5a5a 36.8px,#292929 40px,#131313 42px,#070707 44px,#010101 46.5px,#010101 50.2px,#090909 52.5px,#1c1c1c 54.5px,#4a4a4a 57.8px,#5a5a5a 59.2px,#646464 61px,#666666 63.2px,#646464 65.5px,#5d5d5d 67px,#4e4e4e 68.5px,#202020 71.8px,#121212 73px,#060606 74.8px,#010101 76.8px,#010101 80.8px,#070707 83.2px,#151515 85.2px,#3b3b3b 88.8px,#484848 90.2px,#515151 92.2px,#535353 94.5px,#515151 97px,#4a4a4a 98.8px,#3e3e3e 100.2px,#0f0f0f 104.8px,#050505 106.5px,#010101 108.5px,#020202 167.8px,#0b0b0b 171.2px,#141414 172.8px,#222222 174.2px,#444444 176.8px,#9c9c9c 182px,#bababa 184.5px,#c9c9c9 187px,#cdcdcd 190px,#cacaca 193px,#bbbbbb 195.5px,#9e9e9e 198px,#424242 203.5px,#212121 206px,#131313 207.5px,#0b0b0b 209px,#010101 212.8px,#000000 420px)"></i>
<i style="top:132px;background:linear-gradient(90deg,#000000 0px,#010101 14.8px,#070707 18.8px,#101010 20.5px,#202020 22.2px,#5e5e5e 26.8px,#6e6e6e 28.2px,#787878 29.8px,#7b7b7b 31.5px,#797979 33.2px,#6c6c6c 35px,#595959 36.5px,#282828 39.8px,#121212 41.8px,#070707 43.8px,#010101 46.2px,#010101 49.8px,#090909 52px,#191919 53.8px,#4a4a4a 57.2px,#5a5a5a 58.8px,#646464 60.5px,#666666 62.8px,#646464 64.8px,#5b5b5b 66.5px,#4c4c4c 68px,#212121 71px,#121212 72.2px,#060606 74px,#010101 76px,#010101 80px,#080808 82.5px,#161616 84.5px,#3b3b3b 88px,#484848 89.5px,#505050 91.2px,#525252 93.8px,#505050 96px,#4a4a4a 97.8px,#3c3c3c 99.5px,#1b1b1b 102.5px,#0e0e0e 104px,#060606 105.5px,#010101 107.5px,#020202 166px,#0b0b0b 169.5px,#141414 171px,#222222 172.5px,#434343 175px,#9c9c9c 180.2px,#bababa 182.8px,#cacaca 185.2px,#cdcdcd 188.2px,#cacaca 191.2px,#bbbbbb 193.8px,#9e9e9e 196.2px,#454545 201.5px,#232323 204px,#151515 205.5px,#0b0b0b 207px,#050505 208.8px,#010101 211px,#000000 420px)"></i>
<i style="top:133px;background:linear-gradient(90deg,#000000 0px,#010101 14.5px,#070707 18.5px,#101010 20.2px,#1e1e1e 21.8px,#5e5e5e 26.5px,#6e6e6e 28px,#787878 29.5px,#7b7b7b 31.2px,#787878 33px,#6b6b6b 34.8px,#5b5b5b 36px,#282828 39.5px,#121212 41.5px,#060606 43.5px,#010101 46px,#010101 49.2px,#090909 51.5px,#191919 53.2px,#474747 56.5px,#585858 58px,#636363 59.8px,#656565 62px,#636363 64.2px,#5c5c5c 65.8px,#4d4d4d 67.2px,#1f1f1f 70.5px,#111111 71.8px,#050505 73.5px,#010101 75.5px,#010101 79.2px,#070707 81.5px,#141414 83.5px,#393939 87px,#464646 88.5px,#4f4f4f 90.5px,#515151 92.8px,#4f4f4f 95.2px,#484848 97px,#3c3c3c 98.5px,#0e0e0e 103px,#060606 104.5px,#010101 106.5px,#020202 164.5px,#0c0c0c 168px,#151515 169.5px,#242424 171px,#474747 173.5px,#9c9c9c 178.5px,#bbbbbb 181px,#cacaca 183.5px,#cecece 186.5px,#cacaca 189.5px,#bbbbbb 192px,#9d9d9d 194.5px,#444444 199.8px,#222222 202.2px,#141414 203.8px,#0b0b0b 205.2px,#020202 209px,#000000 420px)"></i>
<i style="top:134px;background:linear-gradient(90deg,#000000 0px,#000000 14.2px,#070707 18.2px,#101010 20px,#1e1e1e 21.5px,#5e5e5e 26.2px,#6e6e6e 27.8px,#787878 29.2px,#7b7b7b 31px,#777777 32.8px,#6a6a6a 34.5px,#5a5a5a 35.8px,#272727 39.2px,#121212 41.2px,#060606 43.2px,#010101 45.8px,#010101 48.8px,#090909 51px,#191919 52.8px,#474747 56px,#585858 57.5px,#626262 59.2px,#656565 61.5px,#626262 63.8px,#5b5b5b 65.2px,#4b4b4b 66.8px,#202020 69.8px,#121212 71px,#060606 72.8px,#010101 74.8px,#010101 78.5px,#070707 80.8px,#141414 82.8px,#393939 86.2px,#464646 87.8px,#4e4e4e 89.5px,#505050 92px,#4e4e4e 94.2px,#484848 96px,#3a3a3a 97.8px,#0f0f0f 102px,#060606 103.5px,#010101 105.5px,#020202 162.8px,#0b0b0b 166.2px,#151515 167.8px,#232323 169.2px,#464646 171.8px,#9c9c9c 176.8px,#bbbbbb 179.2px,#cacaca 181.8px,#cecece 184.8px,#cacaca 187.8px,#bbbbbb 190.2px,#9d9d9d 192.8px,#434343 198px,#212121 200.5px,#131313 202px,#0a0a0a 203.5px,#010101 207.2px,#000000 420px)"></i>
<i style="top:135px;background:linear-gradient(90deg,#000000 0px,#010101 14.2px,#080808 18.2px,#121212 20px,#212121 21.5px,#5a5a5a 25.8px,#6c6c6c 27.2px,#777777 29px,#7a7a7a 30.8px,#777777 32.5px,#6c6c6c 34px,#5a5a5a 35.5px,#262626 39px,#111111 41px,#060606 43px,#010101 45.5px,#020202 48.5px,#090909 50.5px,#1a1a1a 52.2px,#484848 55.5px,#585858 57px,#626262 58.8px,#646464 61px,#626262 63px,#5b5b5b 64.5px,#4d4d4d 66px,#1e1e1e 69.2px,#101010 70.5px,#060606 72px,#010101 74px,#010101 77.5px,#070707 80px,#151515 82px,#3a3a3a 85.5px,#464646 87px,#4d4d4d 88.8px,#4f4f4f 91px,#4e4e4e 93.2px,#484848 95px,#3a3a3a 96.8px,#0f0f0f 101px,#050505 102.8px,#010101 104.5px,#020202 161px,#0b0b0b 164.5px,#141414 166px,#232323 167.5px,#454545 170px,#9c9c9c 175px,#bbbbbb 177.5px,#cacaca 180px,#cecece 183px,#cdcdcd 185px,#c9c9c9 186.5px,#bfbfbf 188px,#b3b3b3 189.2px,#949494 191.5px,#3a3a3a 196.8px,#262626 198.2px,#191919 199.5px,#080808 202.2px,#010101 205.5px,#000000 420px)"></i>
<i style="top:136px;background:linear-gradient(90deg,#000000 0px,#010101 14px,#080808 18px,#121212 19.8px,#212121 21.2px,#5b5b5b 25.5px,#6c6c6c 27px,#777777 28.8px,#7a7a7a 30.5px,#767676 32.2px,#6b6b6b 33.8px,#595959 35.2px,#292929 38.5px,#131313 40.5px,#070707 42.5px,#010101 45.2px,#020202 48px,#090909 50px,#1a1a1a 51.8px,#484848 55px,#565656 56.2px,#616161 58px,#646464 60.2px,#626262 62.5px,#5a5a5a 64px,#4b4b4b 65.5px,#202020 68.5px,#111111 69.8px,#050505 71.5px,#010101 73.5px,#010101 77px,#070707 79.2px,#151515 81.2px,#373737 84.5px,#444444 86px,#4c4c4c 87.8px,#4e4e4e 90px,#4c4c4c 92.5px,#464646 94.2px,#3a3a3a 95.8px,#0e0e0e 100.2px,#050505 101.8px,#010101 103.8px,#020202 159.5px,#0c0c0c 163px,#161616 164.5px,#252525 166px,#454545 168.2px,#9c9c9c 173.2px,#bbbbbb 175.8px,#cbcbcb 178.2px,#cecece 181.2px,#cbcbcb 184.2px,#bbbbbb 186.8px,#9b9b9b 189.2px,#444444 194.2px,#222222 196.8px,#141414 198.2px,#0b0b0b 199.8px,#010101 203.5px,#000000 420px)"></i>
<i style="top:137px;background:linear-gradient(90deg,#000000 0px,#010101 13.8px,#080808 17.8px,#121212 19.5px,#212121 21px,#5b5b5b 25.2px,#6b6b6b 26.8px,#767676 28.2px,#797979 30px,#777777 31.8px,#6a6a6a 33.5px,#585858 35px,#282828 38.2px,#131313 40.2px,#070707 42.2px,#010101 44.8px,#020202 47.5px,#0a0a0a 49.5px,#1a1a1a 51.2px,#454545 54.2px,#565656 55.8px,#616161 57.5px,#636363 59.8px,#616161 62px,#595959 63.5px,#494949 65px,#212121 67.8px,#101010 69.2px,#060606 70.8px,#010101 72.8px,#010101 76.2px,#080808 78.5px,#141414 80.2px,#383838 83.8px,#444444 85.2px,#4b4b4b 87px,#4d4d4d 89.2px,#4c4c4c 91.5px,#464646 93.2px,#383838 95px,#0e0e0e 99.2px,#060606 100.8px,#010101 102.8px,#020202 157.8px,#0c0c0c 161.2px,#151515 162.8px,#242424 164.2px,#444444 166.5px,#9b9b9b 171.5px,#bbbbbb 174px,#cbcbcb 176.5px,#cfcfcf 179.5px,#cacaca 182.8px,#c1c1c1 184.2px,#b6b6b6 185.5px,#979797 187.8px,#3b3b3b 193px,#272727 194.5px,#191919 195.8px,#080808 198.5px,#010101 201.8px,#000000 420px)"></i>
<i style="top:138px;background:linear-gradient(90deg,#000000 0px,#010101 13.5px,#080808 17.5px,#121212 19.2px,#212121 20.8px,#5a5a5a 25px,#6b6b6b 26.5px,#757575 28px,#797979 29.8px,#767676 31.5px,#696969 33.2px,#575757 34.8px,#282828 38px,#121212 40px,#070707 42px,#010101 44.5px,#020202 47px,#0a0a0a 49px,#1a1a1a 50.8px,#454545 53.8px,#565656 55.2px,#606060 57px,#626262 59px,#606060 61.2px,#595959 62.8px,#4a4a4a 64.2px,#1f1f1f 67.2px,#111111 68.5px,#060606 70px,#010101 72px,#010101 75.2px,#070707 77.5px,#141414 79.5px,#363636 82.8px,#424242 84.2px,#4a4a4a 86px,#4c4c4c 88.2px,#4a4a4a 90.8px,#444444 92.5px,#383838 94px,#0e0e0e 98.2px,#060606 99.8px,#010101 101.8px,#020202 156.2px,#0d0d0d 159.8px,#171717 161.2px,#242424 162.5px,#434343 164.8px,#9b9b9b 169.8px,#bbbbbb 172.2px,#cbcbcb 174.8px,#cfcfcf 177.8px,#cbcbcb 180.8px,#bdbdbd 183px,#9e9e9e 185.5px,#464646 190.5px,#232323 193px,#141414 194.5px,#0b0b0b 196px,#010101 199.8px,#000000 420px)"></i>
<i style="top:139px;background:linear-gradient(90deg,#000000 0px,#010101 13.2px,#080808 17.2px,#111111 18.8px,#1e1e1e 20.2px,#5a5a5a 24.8px,#6b6b6b 26.2px,#747474 27.8px,#787878 29.5px,#747474 31.2px,#686868 33px,#555555 34.5px,#272727 37.8px,#121212 39.8px,#060606 41.8px,#010101 44.2px,#020202 46.5px,#0a0a0a 48.5px,#1b1b1b 50.2px,#454545 53.2px,#555555 54.8px,#5f5f5f 56.5px,#616161 58.5px,#5f5f5f 60.8px,#575757 62.2px,#484848 63.8px,#202020 66.5px,#0f0f0f 68px,#050505 69.5px,#010101 71.5px,#010101 74.5px,#070707 76.8px,#121212 78.5px,#363636 82px,#424242 83.5px,#494949 85.2px,#4b4b4b 87.5px,#494949 89.8px,#434343 91.5px,#383838 93px,#0d0d0d 97.5px,#050505 99px,#010101 100.8px,#020202 154.5px,#0c0c0c 158px,#171717 159.5px,#232323 160.8px,#474747 163.2px,#9b9b9b 168px,#bbbbbb 170.5px,#cbcbcb 173px,#cfcfcf 176px,#cacaca 179.2px,#c1c1c1 180.8px,#b5b5b5 182px,#969696 184.2px,#3d3d3d 189.2px,#282828 190.8px,#1a1a1a 192px,#080808 194.8px,#010101 198px,#000000 323.8px,#020202 331px,#0b0b0b 334px,#1d1d1d 336.2px,#3c3c3c 338.5px,#8d8d8d 342.8px,#a9a9a9 344.5px,#b7b7b7 345.8px,#bebebe 346.8px,#c3c3c3 349px,#c3c3c3 349.5px,#000000 349.8px,#000000 420px)"></i>
<i style="top:140px;background:linear-gradient(90deg,#000000 0px,#010101 12.8px,#070707 16.8px,#111111 18.5px,#1e1e1e 20px,#5a5a5a 24.5px,#6a6a6a 26px,#747474 27.5px,#767676 29.2px,#737373 31px,#666666 32.8px,#575757 34px,#262626 37.5px,#111111 39.5px,#060606 41.5px,#010101 44px,#020202 46.2px,#0a0a0a 48px,#181818 49.5px,#454545 52.8px,#555555 54.2px,#5e5e5e 56px,#606060 58px,#5e5e5e 60px,#575757 61.5px,#484848 63px,#1e1e1e 66px,#101010 67.2px,#060606 68.8px,#010101 70.8px,#010101 73.8px,#070707 76px,#131313 77.8px,#404040 82.5px,#474747 84.2px,#4a4a4a 86.5px,#484848 88.8px,#434343 90.5px,#363636 92.2px,#0d0d0d 96.5px,#050505 98px,#010101 99.8px,#020202 152.8px,#0c0c0c 156.2px,#161616 157.8px,#232323 159px,#464646 161.5px,#9b9b9b 166.2px,#bbbbbb 168.8px,#cbcbcb 171.2px,#cfcfcf 174.2px,#cacaca 177.5px,#c1c1c1 179px,#b5b5b5 180.2px,#959595 182.5px,#3c3c3c 187.5px,#272727 189px,#1a1a1a 190.2px,#080808 193px,#010101 196.2px,#000000 320.5px,#020202 327.5px,#0b0b0b 330.5px,#1d1d1d 332.8px,#3c3c3c 335px,#8e8e8e 339.2px,#aaaaaa 341px,#b8b8b8 342.2px,#bfbfbf 343.2px,#c4c4c4 345.5px,#bfbfbf 347.8px,#b1b1b1 349.5px,#000000 349.8px,#000000 420px)"></i>
<i style="top:141px;background:linear-gradient(90deg,#000000 0px,#010101 12.5px,#070707 16.5px,#111111 18.2px,#1f1f1f 19.8px,#5a5a5a 24.2px,#696969 25.8px,#737373 27.2px,#757575 29px,#727272 30.8px,#676767 32.2px,#565656 33.8px,#252525 37.2px,#131313 39px,#070707 41px,#010101 43.5px,#020202 45.8px,#0a0a0a 47.5px,#181818 49px,#454545 52.2px,#525252 53.5px,#5c5c5c 55.2px,#5f5f5f 57.2px,#5d5d5d 59.5px,#555555 61px,#464646 62.5px,#1f1f1f 65.2px,#111111 66.5px,#060606 68px,#010101 70px,#010101 73px,#070707 75.2px,#131313 77px,#333333 80.2px,#3f3f3f 81.8px,#474747 83.5px,#484848 85.8px,#474747 88px,#414141 89.8px,#363636 91.2px,#0d0d0d 95.5px,#050505 97px,#010101 98.8px,#020202 151px,#0c0c0c 154.5px,#161616 156px,#222222 157.2px,#464646 159.8px,#9f9f9f 164.8px,#bbbbbb 167px,#cccccc 169.5px,#cfcfcf 172.5px,#cacaca 175.8px,#c1c1c1 177.2px,#b4b4b4 178.5px,#949494 180.8px,#3b3b3b 185.8px,#262626 187.2px,#191919 188.5px,#080808 191.2px,#010101 194.5px,#000000 317px,#020202 324px,#0b0b0b 327px,#1d1d1d 329.2px,#3d3d3d 331.5px,#8e8e8e 335.8px,#aaaaaa 337.5px,#b8b8b8 338.8px,#c0c0c0 339.8px,#c5c5c5 342px,#c1c1c1 344px,#b4b4b4 345.8px,#9d9d9d 347.5px,#787878 349.5px,#000000 349.8px,#000000 420px)"></i>
<i style="top:142px;background:linear-gradient(90deg,#000000 0px,#010101 12.2px,#070707 16.2px,#111111 18px,#1f1f1f 19.5px,#565656 23.8px,#676767 25.2px,#727272 27px,#747474 28.8px,#717171 30.5px,#666666 32px,#555555 33.5px,#272727 36.8px,#121212 38.8px,#070707 40.8px,#010101 43.2px,#020202 45.2px,#0a0a0a 47px,#181818 48.5px,#424242 51.5px,#525252 53px,#5c5c5c 54.8px,#5e5e5e 56.8px,#5c5c5c 58.8px,#555555 60.2px,#474747 61.8px,#1d1d1d 64.8px,#101010 66px,#060606 67.5px,#010101 69.5px,#020202 72.5px,#080808 74.5px,#131313 76.2px,#3d3d3d 80.8px,#454545 82.5px,#474747 84.8px,#464646 87px,#404040 88.8px,#363636 90.2px,#0e0e0e 94.5px,#050505 96px,#010101 98px,#020202 149.5px,#0d0d0d 153px,#181818 154.5px,#252525 155.8px,#454545 158px,#9b9b9b 162.8px,#bbbbbb 165.2px,#cccccc 167.8px,#cfcfcf 170.8px,#cacaca 174px,#c0c0c0 175.5px,#b4b4b4 176.8px,#949494 179px,#3a3a3a 184px,#1b1b1b 186.5px,#080808 189.2px,#010101 192.5px,#000000 313.5px,#020202 320.5px,#0c0c0c 323.5px,#1e1e1e 325.8px,#3d3d3d 328px,#8f8f8f 332.2px,#ababab 334px,#b7b7b7 335px,#c0c0c0 336.2px,#c5c5c5 338.5px,#c4c4c4 340px,#bcbcbc 341.5px,#acacac 343px,#949494 344.5px,#363636 349.5px,#000000 349.8px,#000000 420px)"></i>
<i style="top:143px;background:linear-gradient(90deg,#000000 0px,#010101 12.2px,#080808 16px,#111111 17.8px,#1f1f1f 19.2px,#565656 23.5px,#666666 25px,#707070 26.5px,#737373 28.2px,#717171 30px,#656565 31.8px,#535353 33.2px,#262626 36.5px,#121212 38.5px,#060606 40.5px,#010101 43px,#040404 45.2px,#0e0e0e 47px,#1f1f1f 48.5px,#454545 51.2px,#535353 52.8px,#5b5b5b 54.2px,#5c5c5c 56.2px,#5b5b5b 58.2px,#535353 59.8px,#454545 61.2px,#1f1f1f 64px,#101010 65.2px,#060606 66.8px,#010101 68.8px,#010101 71.5px,#070707 73.5px,#121212 75.2px,#313131 78.5px,#3d3d3d 80px,#444444 81.8px,#464646 84px,#454545 86.2px,#3e3e3e 88px,#343434 89.5px,#0c0c0c 93.8px,#050505 95.2px,#010101 97px,#020202 147.8px,#0d0d0d 151.2px,#171717 152.8px,#242424 154px,#454545 156.2px,#9a9a9a 161px,#bbbbbb 163.5px,#c5c5c5 164.8px,#cccccc 166px,#cfcfcf 169px,#cacaca 172.2px,#c0c0c0 173.8px,#b4b4b4 175px,#939393 177.2px,#3e3e3e 182px,#282828 183.5px,#1a1a1a 184.8px,#080808 187.5px,#010101 190.8px,#000000 310px,#020202 317px,#0c0c0c 320px,#1e1e1e 322.2px,#3e3e3e 324.5px,#909090 328.8px,#acacac 330.5px,#c0c0c0 332.5px,#c6c6c6 335px,#c5c5c5 336.2px,#c0c0c0 337.5px,#acacac 339.5px,#909090 341.2px,#505050 344.5px,#363636 346px,#1e1e1e 347.8px,#0f0f0f 349.5px,#000000 349.8px,#000000 420px)"></i>
<i style="top:144px;background:linear-gradient(90deg,#000000 0px,#010101 12px,#080808 15.8px,#121212 17.5px,#1f1f1f 19px,#565656 23.2px,#666666 24.8px,#6f6f6f 26.2px,#727272 28px,#6f6f6f 29.8px,#636363 31.5px,#525252 33px,#252525 36.2px,#111111 38.2px,#060606 40.2px,#010101 42.8px,#040404 44.8px,#0e0e0e 46.5px,#1c1c1c 47.8px,#454545 50.8px,#535353 52.2px,#5a5a5a 53.8px,#5b5b5b 55.5px,#595959 57.8px,#525252 59.2px,#424242 60.8px,#1d1d1d 63.5px,#0f0f0f 64.8px,#050505 66.2px,#010101 68px,#010101 70.8px,#070707 72.8px,#121212 74.5px,#313131 77.8px,#3d3d3d 79.2px,#434343 81px,#454545 83px,#444444 85.2px,#3e3e3e 87px,#333333 88.5px,#0c0c0c 92.8px,#050505 94.2px,#010101 96px,#020202 146px,#0c0c0c 149.5px,#171717 151px,#242424 152.2px,#454545 154.5px,#9e9e9e 159.5px,#bbbbbb 161.8px,#c5c5c5 163px,#cccccc 164.2px,#cfcfcf 167.2px,#cacaca 170.5px,#c2c2c2 171.8px,#b6b6b6 173px,#969696 175.2px,#3d3d3d 180.2px,#272727 181.8px,#1a1a1a 183px,#080808 185.8px,#010101 189px,#000000 306.2px,#020202 313.2px,#0b0b0b 316.2px,#1d1d1d 318.5px,#2c2c2c 319.8px,#404040 321px,#929292 325.2px,#aeaeae 327px,#c1c1c1 329px,#c7c7c7 331.5px,#c2c2c2 333.8px,#b9b9b9 335px,#adadad 336px,#919191 337.8px,#3f3f3f 342px,#1f1f1f 344.2px,#0c0c0c 346.5px,#000000 349.8px,#000000 420px)"></i>
<i style="top:145px;background:linear-gradient(90deg,#000000 0px,#010101 11.8px,#080808 15.5px,#101010 17px,#1d1d1d 18.5px,#565656 23px,#656565 24.5px,#6e6e6e 26px,#717171 27.8px,#6e6e6e 29.5px,#626262 31.2px,#545454 32.5px,#242424 36px,#111111 38px,#060606 40px,#010101 42.2px,#040404 44.2px,#0e0e0e 46px,#1c1c1c 47.2px,#444444 50.2px,#525252 51.8px,#595959 53.2px,#5a5a5a 55px,#585858 57px,#525252 58.5px,#434343 60px,#1e1e1e 62.8px,#101010 64px,#060606 65.5px,#010101 67.5px,#010101 70px,#070707 72px,#121212 73.8px,#3b3b3b 78.2px,#424242 80px,#444444 82.2px,#424242 84.5px,#3d3d3d 86px,#333333 87.5px,#0c0c0c 91.8px,#050505 93.2px,#010101 95px,#000000 138.8px,#020202 144.5px,#0c0c0c 147.8px,#171717 149.2px,#242424 150.5px,#444444 152.8px,#9e9e9e 157.8px,#bbbbbb 160px,#cbcbcb 162.2px,#cfcfcf 165.2px,#cbcbcb 168.5px,#c2c2c2 170px,#b6b6b6 171.2px,#969696 173.5px,#3c3c3c 178.5px,#272727 180px,#191919 181.2px,#090909 183.8px,#010101 187.2px,#000000 302.8px,#020202 309.8px,#0b0b0b 312.8px,#1d1d1d 315px,#3d3d3d 317.2px,#939393 321.8px,#afafaf 323.5px,#c2c2c2 325.5px,#c8c8c8 328px,#c4c4c4 330px,#b4b4b4 332px,#969696 334px,#484848 338px,#282828 340px,#1a1a1a 341.2px,#0f0f0f 342.5px,#040404 345.2px,#000000 349.8px,#000000 420px)"></i>
<i style="top:146px;background:linear-gradient(90deg,#000000 0px,#010101 11.5px,#080808 15.2px,#101010 16.8px,#1d1d1d 18.2px,#525252 22.5px,#626262 24px,#6d6d6d 25.8px,#707070 27.5px,#6d6d6d 29.2px,#616161 31px,#262626 35.5px,#121212 37.5px,#070707 39.5px,#010101 42px,#040404 43.8px,#0f0f0f 45.5px,#1c1c1c 46.8px,#414141 49.5px,#505050 51px,#575757 52.5px,#595959 54.5px,#575757 56.5px,#505050 58px,#414141 59.5px,#1c1c1c 62.2px,#0e0e0e 63.5px,#050505 65px,#010101 66.8px,#010101 69.2px,#070707 71.2px,#121212 73px,#2f2f2f 76px,#3a3a3a 77.5px,#414141 79.2px,#434343 81.2px,#414141 83.5px,#3b3b3b 85.2px,#313131 86.8px,#0c0c0c 90.8px,#050505 92.2px,#010101 94px,#020202 142.8px,#0c0c0c 146px,#161616 147.5px,#232323 148.8px,#444444 151px,#9e9e9e 156px,#bbbbbb 158.2px,#cbcbcb 160.5px,#cfcfcf 163.5px,#cbcbcb 166.5px,#bdbdbd 168.8px,#afafaf 170px,#9d9d9d 171.2px,#434343 176.2px,#232323 178.5px,#141414 180px,#0a0a0a 181.5px,#010101 185.2px,#000000 299.2px,#020202 306.2px,#0c0c0c 309.2px,#1e1e1e 311.5px,#3e3e3e 313.8px,#909090 318px,#b0b0b0 320px,#c3c3c3 322px,#c9c9c9 324.5px,#c4c4c4 326.8px,#bababa 328px,#aeaeae 329px,#929292 330.8px,#404040 335px,#202020 337.2px,#0d0d0d 339.5px,#030303 342px,#000000 347.8px,#000000 420px)"></i>
<i style="top:147px;background:linear-gradient(90deg,#000000 0px,#010101 11.2px,#080808 15px,#101010 16.5px,#1d1d1d 18px,#525252 22.2px,#626262 23.8px,#6c6c6c 25.5px,#6f6f6f 27.2px,#6c6c6c 29px,#626262 30.5px,#515151 32px,#232323 35.5px,#121212 37.2px,#060606 39.2px,#010101 41.8px,#050505 43.5px,#0f0f0f 45px,#1c1c1c 46.2px,#414141 49px,#4f4f4f 50.5px,#565656 52px,#585858 53.8px,#565656 55.8px,#505050 57.2px,#424242 58.8px,#1d1d1d 61.5px,#0f0f0f 62.8px,#050505 64.2px,#010101 66.2px,#010101 68.5px,#070707 70.5px,#121212 72.2px,#2f2f2f 75.2px,#3a3a3a 76.8px,#404040 78.5px,#414141 80.5px,#404040 82.8px,#3b3b3b 84.2px,#313131 85.8px,#0c0c0c 89.8px,#050505 91.2px,#010101 93px,#020202 141px,#0c0c0c 144.2px,#161616 145.8px,#232323 147px,#434343 149.2px,#9e9e9e 154.2px,#bbbbbb 156.5px,#cbcbcb 158.8px,#cfcfcf 161.8px,#cacaca 165px,#c1c1c1 166.5px,#b5b5b5 167.8px,#949494 170px,#3a3a3a 175px,#1a1a1a 177.5px,#080808 180.2px,#010101 183.5px,#000000 295.8px,#030303 302.8px,#0b0b0b 305.5px,#1d1d1d 307.8px,#2c2c2c 309px,#404040 310.2px,#929292 314.5px,#b1b1b1 316.5px,#c4c4c4 318.5px,#c9c9c9 321px,#c6c6c6 323px,#b5b5b5 325px,#9c9c9c 326.8px,#454545 331.2px,#262626 333.2px,#181818 334.5px,#0e0e0e 335.8px,#040404 338.5px,#000000 344.5px,#000000 420px)"></i>
<i style="top:148px;background:linear-gradient(90deg,#000000 0px,#010101 11px,#080808 14.8px,#101010 16.2px,#1d1d1d 17.8px,#525252 22px,#616161 23.5px,#6c6c6c 25.2px,#6e6e6e 27px,#6b6b6b 28.8px,#606060 30.2px,#505050 31.8px,#252525 35px,#111111 37px,#060606 39px,#010101 41.2px,#050505 43px,#0f0f0f 44.5px,#1d1d1d 45.8px,#414141 48.5px,#4d4d4d 49.8px,#555555 51.2px,#575757 53.2px,#555555 55.2px,#4e4e4e 56.8px,#404040 58.2px,#1b1b1b 61px,#0e0e0e 62.2px,#050505 63.8px,#010101 65.5px,#010101 67.8px,#070707 69.8px,#101010 71.2px,#383838 75.8px,#3f3f3f 77.5px,#404040 79.5px,#3f3f3f 81.8px,#3a3a3a 83.2px,#303030 84.8px,#0c0c0c 88.8px,#050505 90.2px,#010101 92px,#020202 139.2px,#0c0c0c 142.5px,#161616 144px,#222222 145.2px,#434343 147.5px,#9d9d9d 152.5px,#bbbbbb 154.8px,#cacaca 157px,#cfcfcf 160px,#cacaca 163.2px,#c1c1c1 164.8px,#b4b4b4 166px,#939393 168.2px,#393939 173.2px,#1a1a1a 175.8px,#090909 178.2px,#010101 181.8px,#000000 292px,#020202 299px,#0c0c0c 302px,#1e1e1e 304.2px,#3d3d3d 306.5px,#939393 311px,#b3b3b3 313px,#c5c5c5 315px,#cacaca 317.5px,#c5c5c5 319.8px,#bebebe 320.8px,#b0b0b0 322px,#949494 323.8px,#424242 328px,#2e2e2e 329.2px,#1e1e1e 330.5px,#0c0c0c 332.8px,#030303 335.2px,#000000 341.2px,#000000 420px)"></i>
<i style="top:149px;background:linear-gradient(90deg,#000000 0px,#010101 10.8px,#080808 14.5px,#111111 16px,#1d1d1d 17.5px,#525252 21.8px,#616161 23.2px,#6a6a6a 24.8px,#6d6d6d 26.5px,#6a6a6a 28.2px,#5f5f5f 30px,#4e4e4e 31.5px,#242424 34.8px,#111111 36.8px,#060606 38.8px,#010101 41px,#050505 42.5px,#0f0f0f 44px,#3e3e3e 47.8px,#4d4d4d 49.2px,#545454 50.8px,#555555 52.8px,#545454 54.8px,#4c4c4c 56.2px,#404040 57.5px,#1c1c1c 60.2px,#0f0f0f 61.5px,#050505 63px,#010101 64.8px,#010101 67px,#070707 69px,#111111 70.5px,#373737 75px,#3e3e3e 76.8px,#3f3f3f 78.8px,#3e3e3e 81px,#383838 82.5px,#2e2e2e 84px,#0b0b0b 88px,#010101 91px,#020202 137.5px,#0b0b0b 140.8px,#161616 142.2px,#222222 143.5px,#424242 145.8px,#9c9c9c 150.8px,#b9b9b9 153px,#c9c9c9 155.2px,#cdcdcd 158.2px,#c8c8c8 161.5px,#bfbfbf 163px,#b3b3b3 164.2px,#929292 166.5px,#3c3c3c 171.2px,#272727 172.8px,#191919 174px,#080808 176.5px,#010101 180px,#000000 288.8px,#020202 295.5px,#0c0c0c 298.5px,#1e1e1e 300.8px,#3e3e3e 303px,#959595 307.5px,#b1b1b1 309.2px,#bfbfbf 310.5px,#c6c6c6 311.5px,#cbcbcb 314px,#c6c6c6 316.2px,#bfbfbf 317.2px,#b1b1b1 318.5px,#959595 320.2px,#424242 324.5px,#2e2e2e 325.8px,#1e1e1e 327px,#0c0c0c 329.2px,#030303 331.8px,#000000 337.8px,#000000 420px)"></i>
<i style="top:150px;background:linear-gradient(90deg,#000000 0px,#010101 10.5px,#080808 14.2px,#111111 15.8px,#1e1e1e 17.2px,#515151 21.5px,#606060 23px,#696969 24.5px,#6c6c6c 26.2px,#696969 28px,#5e5e5e 29.8px,#4d4d4d 31.2px,#232323 34.5px,#101010 36.5px,#070707 38.2px,#020202 40.5px,#050505 42px,#0f0f0f 43.5px,#3e3e3e 47.2px,#4c4c4c 48.8px,#535353 50.2px,#545454 52px,#535353 54px,#4c4c4c 55.5px,#3e3e3e 57px,#1a1a1a 59.8px,#0d0d0d 61px,#040404 62.5px,#010101 64.2px,#020202 66.5px,#070707 68.2px,#111111 69.8px,#353535 74px,#3c3c3c 75.8px,#3e3e3e 77.8px,#3d3d3d 80px,#383838 81.5px,#2e2e2e 83px,#0b0b0b 87px,#040404 88.5px,#010101 90px,#000000 130.2px,#020202 136px,#0c0c0c 139.2px,#171717 140.8px,#252525 142px,#464646 144.2px,#9b9b9b 149px,#b8b8b8 151.2px,#c8c8c8 153.5px,#cccccc 156.5px,#c7c7c7 159.8px,#bebebe 161.2px,#b1b1b1 162.5px,#919191 164.8px,#3b3b3b 169.5px,#262626 171px,#181818 172.2px,#080808 174.8px,#010101 178px,#000000 285px,#030303 292px,#0d0d0d 295px,#1f1f1f 297.2px,#3f3f3f 299.5px,#969696 304px,#b2b2b2 305.8px,#bdbdbd 306.8px,#c7c7c7 308px,#cccccc 310.2px,#c8c8c8 312.5px,#bababa 314.2px,#9e9e9e 316.2px,#474747 320.8px,#282828 322.8px,#1a1a1a 324px,#0f0f0f 325.2px,#030303 328.2px,#000000 334.2px,#000000 420px)"></i>
<i style="top:151px;background:linear-gradient(90deg,#000000 0px,#010101 10.2px,#080808 14px,#111111 15.5px,#1e1e1e 17px,#4e4e4e 21px,#5d5d5d 22.5px,#686868 24.2px,#6b6b6b 26px,#686868 27.8px,#5c5c5c 29.5px,#222222 34.2px,#111111 36px,#070707 37.8px,#020202 40px,#050505 41.5px,#101010 43px,#3e3e3e 46.8px,#4a4a4a 48px,#515151 49.5px,#535353 51.5px,#515151 53.5px,#4a4a4a 55px,#3f3f3f 56.2px,#0e0e0e 60.2px,#050505 61.8px,#010101 63.5px,#010101 65.5px,#060606 67.2px,#111111 69px,#353535 73.2px,#3b3b3b 75px,#3d3d3d 77px,#3c3c3c 79px,#373737 80.5px,#2d2d2d 82px,#0b0b0b 86px,#040404 87.5px,#010101 89px,#020202 134.2px,#0c0c0c 137.5px,#171717 139px,#242424 140.2px,#454545 142.5px,#9a9a9a 147.2px,#b7b7b7 149.5px,#c6c6c6 151.8px,#cbcbcb 154.8px,#c7c7c7 157.8px,#b8b8b8 160px,#aaaaaa 161.2px,#979797 162.5px,#464646 167px,#252525 169.2px,#181818 170.5px,#0d0d0d 172px,#030303 175px,#000000 181.5px,#010101 286.8px,#080808 290.5px,#101010 292px,#1b1b1b 293.2px,#2a2a2a 294.5px,#3d3d3d 295.8px,#989898 300.5px,#b3b3b3 302.2px,#bfbfbf 303.2px,#c8c8c8 304.5px,#cdcdcd 306.8px,#c7c7c7 309.2px,#c0c0c0 310.2px,#b2b2b2 311.5px,#969696 313.2px,#3f3f3f 317.8px,#1f1f1f 320px,#0d0d0d 322.2px,#030303 325px,#000000 331px,#000000 420px)"></i>
<i style="top:152px;background:linear-gradient(90deg,#000000 0px,#010101 10px,#090909 13.8px,#111111 15.2px,#1e1e1e 16.8px,#4e4e4e 20.8px,#5d5d5d 22.2px,#676767 24px,#6a6a6a 25.8px,#676767 27.5px,#5d5d5d 29px,#4e4e4e 30.5px,#212121 34px,#111111 35.8px,#070707 37.5px,#020202 39.8px,#070707 41.2px,#101010 42.5px,#3d3d3d 46.2px,#494949 47.5px,#505050 49px,#525252 51px,#515151 52.8px,#4a4a4a 54.2px,#3d3d3d 55.8px,#0f0f0f 59.5px,#050505 61px,#010101 62.8px,#010101 64.8px,#060606 66.5px,#0f0f0f 68px,#343434 72.5px,#3a3a3a 74px,#3c3c3c 76px,#3a3a3a 78.2px,#353535 79.8px,#2b2b2b 81.2px,#0b0b0b 85px,#040404 86.5px,#010101 88px,#020202 132.5px,#0c0c0c 135.8px,#171717 137.2px,#242424 138.5px,#444444 140.8px,#999999 145.5px,#b6b6b6 147.8px,#c5c5c5 150px,#c9c9c9 153px,#c5c5c5 156px,#b7b7b7 158.2px,#a8a8a8 159.5px,#969696 160.8px,#454545 165.2px,#242424 167.5px,#0e0e0e 170px,#030303 173.2px,#000000 179.8px,#010101 283.2px,#090909 287px,#111111 288.5px,#1c1c1c 289.8px,#2b2b2b 291px,#3e3e3e 292.2px,#959595 296.8px,#b4b4b4 298.8px,#c7c7c7 300.8px,#cecece 303.2px,#c8c8c8 305.8px,#c1c1c1 306.8px,#b3b3b3 308px,#979797 309.8px,#404040 314.2px,#202020 316.5px,#0d0d0d 318.8px,#030303 321.5px,#000000 327.8px,#000000 420px)"></i>
<i style="top:153px;background:linear-gradient(90deg,#000000 0px,#010101 9.5px,#080808 13.2px,#0f0f0f 14.8px,#1c1c1c 16.2px,#4e4e4e 20.5px,#5c5c5c 22px,#666666 23.8px,#696969 25.5px,#666666 27.2px,#5c5c5c 28.8px,#4c4c4c 30.2px,#232323 33.5px,#101010 35.5px,#070707 37.2px,#020202 39.2px,#070707 40.8px,#101010 42px,#3a3a3a 45.5px,#484848 47px,#4f4f4f 48.5px,#515151 50.2px,#4f4f4f 52.2px,#494949 53.8px,#3b3b3b 55.2px,#1b1b1b 57.8px,#0e0e0e 59px,#050505 60.5px,#010101 62.2px,#010101 64px,#060606 65.8px,#0f0f0f 67.2px,#333333 71.5px,#393939 73.2px,#3a3a3a 75.2px,#393939 77.2px,#353535 78.8px,#2b2b2b 80.2px,#0b0b0b 84px,#040404 85.5px,#010101 87px,#020202 130.8px,#0c0c0c 134px,#161616 135.5px,#232323 136.8px,#444444 139px,#989898 143.8px,#b5b5b5 146px,#c4c4c4 148.2px,#c8c8c8 151.2px,#c4c4c4 154.2px,#b5b5b5 156.5px,#989898 158.8px,#444444 163.5px,#242424 165.8px,#0d0d0d 168.2px,#020202 171.5px,#000000 178px,#010101 279.8px,#090909 283.5px,#121212 285px,#1d1d1d 286.2px,#2c2c2c 287.5px,#3f3f3f 288.8px,#969696 293.2px,#b6b6b6 295.2px,#c8c8c8 297.2px,#cfcfcf 299.8px,#c9c9c9 302.2px,#c2c2c2 303.2px,#b3b3b3 304.5px,#979797 306.2px,#414141 310.8px,#202020 313px,#0c0c0c 315.5px,#030303 318.2px,#000000 324.5px,#000000 420px)"></i>
<i style="top:154px;background:linear-gradient(90deg,#000000 0px,#010101 9.2px,#080808 13px,#101010 14.5px,#1c1c1c 16px,#4d4d4d 20.2px,#5c5c5c 21.8px,#646464 23.2px,#686868 25px,#666666 26.5px,#5f5f5f 28px,#515151 29.5px,#252525 33px,#161616 34.5px,#090909 36.5px,#020202 38.8px,#070707 40.2px,#101010 41.5px,#3a3a3a 45px,#464646 46.2px,#4e4e4e 47.8px,#505050 49.8px,#4e4e4e 51.5px,#484848 53px,#3b3b3b 54.5px,#0f0f0f 58.2px,#050505 59.8px,#010101 61.5px,#010101 63.2px,#060606 65px,#0f0f0f 66.5px,#323232 70.8px,#383838 72.2px,#393939 74.2px,#383838 76.2px,#343434 77.8px,#2b2b2b 79.2px,#0b0b0b 83px,#040404 84.5px,#010101 86px,#020202 129px,#0c0c0c 132.2px,#161616 133.8px,#232323 135px,#434343 137.2px,#979797 142px,#b4b4b4 144.2px,#c3c3c3 146.5px,#c7c7c7 149.5px,#c3c3c3 152.5px,#b4b4b4 154.8px,#979797 157px,#434343 161.8px,#232323 164px,#0d0d0d 166.5px,#030303 169.5px,#000000 176px,#010101 276px,#080808 279.8px,#111111 281.2px,#1b1b1b 282.5px,#2a2a2a 283.8px,#414141 285.2px,#989898 289.8px,#b4b4b4 291.5px,#c2c2c2 292.8px,#c9c9c9 293.8px,#cfcfcf 296.2px,#cacaca 298.8px,#c2c2c2 299.8px,#b4b4b4 301px,#989898 302.8px,#414141 307.2px,#2e2e2e 308.5px,#1e1e1e 309.8px,#0c0c0c 312px,#030303 314.8px,#000000 321px,#000000 420px)"></i>
<i style="top:155px;background:linear-gradient(90deg,#000000 0px,#010101 9.2px,#080808 12.8px,#101010 14.2px,#1c1c1c 15.8px,#4d4d4d 20px,#5b5b5b 21.5px,#646464 23px,#676767 24.8px,#656565 26.2px,#5d5d5d 27.8px,#505050 29.2px,#272727 32.5px,#151515 34.2px,#0a0a0a 36px,#030303 38.2px,#060606 39.5px,#101010 41px,#3a3a3a 44.5px,#464646 45.8px,#4d4d4d 47.2px,#4e4e4e 49.2px,#4d4d4d 51px,#474747 52.5px,#393939 54px,#0d0d0d 57.8px,#040404 59.2px,#010101 61px,#060606 64.2px,#0f0f0f 65.8px,#303030 69.8px,#363636 71.2px,#383838 73.2px,#373737 75.5px,#323232 77px,#282828 78.5px,#0b0b0b 82px,#040404 83.5px,#010101 85px,#000000 122px,#020202 127.5px,#0d0d0d 130.8px,#222222 133.2px,#424242 135.5px,#969696 140.2px,#b3b3b3 142.5px,#c2c2c2 144.8px,#c6c6c6 147.8px,#c1c1c1 150.8px,#b2b2b2 153px,#969696 155.2px,#424242 160px,#252525 162px,#181818 163.2px,#0d0d0d 164.8px,#030303 167.8px,#000000 174.2px,#010101 272.5px,#090909 276.2px,#111111 277.8px,#1c1c1c 279px,#2b2b2b 280.2px,#424242 281.8px,#999999 286.2px,#b5b5b5 288px,#c3c3c3 289.2px,#cacaca 290.2px,#d0d0d0 292.8px,#cacaca 295.2px,#c3c3c3 296.2px,#b5b5b5 297.5px,#999999 299.2px,#424242 303.8px,#2e2e2e 305px,#1f1f1f 306.2px,#0c0c0c 308.5px,#030303 311.5px,#000000 317.8px,#000000 420px)"></i>
<i style="top:156px;background:linear-gradient(90deg,#000000 0px,#010101 9px,#080808 12.5px,#101010 14px,#1c1c1c 15.5px,#4d4d4d 19.8px,#5a5a5a 21.2px,#636363 22.8px,#656565 24.5px,#646464 26px,#5c5c5c 27.5px,#4e4e4e 29px,#262626 32.2px,#151515 34px,#090909 35.8px,#020202 38px,#070707 39.2px,#101010 40.5px,#373737 43.8px,#454545 45.2px,#4c4c4c 46.8px,#4d4d4d 48.8px,#4c4c4c 50.5px,#454545 52px,#3a3a3a 53.2px,#0e0e0e 57px,#050505 58.5px,#010101 60.2px,#060606 63.5px,#101010 65px,#303030 69px,#353535 70.5px,#373737 72.5px,#363636 74.5px,#323232 76px,#282828 77.5px,#0a0a0a 81.2px,#010101 84px,#000000 120.2px,#020202 125.8px,#0d0d0d 129px,#222222 131.5px,#424242 133.8px,#959595 138.5px,#b1b1b1 140.8px,#c0c0c0 143px,#c4c4c4 146px,#c0c0c0 149px,#b1b1b1 151.2px,#949494 153.5px,#414141 158.2px,#242424 160.2px,#0e0e0e 162.8px,#030303 166px,#000000 172.5px,#010101 269px,#090909 272.8px,#121212 274.2px,#1d1d1d 275.5px,#2c2c2c 276.8px,#3f3f3f 278px,#969696 282.5px,#b6b6b6 284.5px,#c4c4c4 285.8px,#cbcbcb 286.8px,#d1d1d1 289.2px,#cbcbcb 291.8px,#c4c4c4 292.8px,#b6b6b6 294px,#9a9a9a 295.8px,#434343 300.2px,#2f2f2f 301.5px,#1f1f1f 302.8px,#0b0b0b 305.2px,#030303 308px,#000000 314.2px,#000000 420px)"></i>
<i style="top:157px;background:linear-gradient(90deg,#000000 0px,#010101 8.8px,#080808 12.2px,#101010 13.8px,#1c1c1c 15.2px,#585858 20.8px,#626262 22.5px,#646464 24.2px,#636363 25.8px,#5b5b5b 27.2px,#4d4d4d 28.8px,#252525 32px,#161616 33.5px,#090909 35.5px,#030303 37.5px,#070707 38.8px,#111111 40px,#373737 43.2px,#434343 44.5px,#4a4a4a 46px,#4c4c4c 48px,#4b4b4b 49.8px,#454545 51.2px,#383838 52.8px,#0d0d0d 56.5px,#050505 57.8px,#010101 59.5px,#020202 61.2px,#060606 62.8px,#2f2f2f 68.2px,#343434 69.8px,#363636 71.5px,#313131 75px,#282828 76.5px,#0a0a0a 80.2px,#010101 83px,#020202 124px,#0c0c0c 127.2px,#222222 129.8px,#414141 132px,#949494 136.8px,#b0b0b0 139px,#bfbfbf 141.2px,#c3c3c3 144.2px,#bfbfbf 147.2px,#afafaf 149.5px,#939393 151.8px,#444444 156.2px,#232323 158.5px,#0d0d0d 161px,#030303 164px,#000000 170.5px,#010101 265.5px,#0a0a0a 269.2px,#131313 270.8px,#1e1e1e 272px,#2d2d2d 273.2px,#414141 274.5px,#979797 279px,#b8b8b8 281px,#c3c3c3 282px,#cccccc 283.2px,#d2d2d2 285.8px,#cccccc 288.2px,#c4c4c4 289.2px,#b6b6b6 290.5px,#969696 292.5px,#434343 296.8px,#1f1f1f 299.2px,#0c0c0c 301.8px,#030303 304.5px,#000000 311px,#000000 420px)"></i>
<i style="top:158px;background:linear-gradient(90deg,#000000 0px,#010101 8.5px,#080808 12px,#101010 13.5px,#1c1c1c 15px,#494949 19px,#575757 20.5px,#616161 22.2px,#636363 24px,#616161 25.5px,#5a5a5a 27px,#4c4c4c 28.5px,#252525 31.8px,#161616 33.2px,#0a0a0a 35px,#030303 37px,#060606 38px,#0e0e0e 39.2px,#373737 42.8px,#424242 44px,#494949 45.5px,#4b4b4b 47.5px,#4a4a4a 49.2px,#434343 50.8px,#383838 52px,#0e0e0e 55.8px,#040404 57.2px,#010101 59px,#020202 60.8px,#080808 62.2px,#272727 66.2px,#303030 67.8px,#353535 70.8px,#343434 72.8px,#2f2f2f 74.2px,#0a0a0a 79.2px,#010101 82px,#020202 122.2px,#0c0c0c 125.5px,#212121 128px,#404040 130.2px,#929292 135px,#aeaeae 137.2px,#bdbdbd 139.5px,#c1c1c1 142.5px,#bdbdbd 145.5px,#adadad 147.8px,#919191 150px,#424242 154.5px,#222222 156.8px,#0d0d0d 159.2px,#030303 162.2px,#000000 168.8px,#010101 261.8px,#090909 265.5px,#111111 267px,#1c1c1c 268.2px,#2a2a2a 269.5px,#414141 271px,#989898 275.5px,#b8b8b8 277.5px,#c3c3c3 278.5px,#cdcdcd 279.8px,#d2d2d2 282.2px,#cccccc 284.8px,#c4c4c4 285.8px,#b6b6b6 287px,#969696 289px,#434343 293.2px,#202020 295.8px,#0c0c0c 298.2px,#020202 301.2px,#000000 307.5px,#000000 420px)"></i>
<i style="top:159px;background:linear-gradient(90deg,#000000 0px,#010101 8.2px,#080808 11.8px,#1a1a1a 14.5px,#494949 18.8px,#575757 20.2px,#606060 22px,#626262 23.8px,#606060 25.2px,#585858 26.8px,#4a4a4a 28.2px,#242424 31.5px,#151515 33px,#0a0a0a 34.8px,#030303 36.8px,#111111 39px,#373737 42.2px,#424242 43.5px,#484848 45px,#4a4a4a 47px,#484848 48.8px,#414141 50.2px,#363636 51.5px,#0c0c0c 55.2px,#050505 56.5px,#010101 58.2px,#020202 60px,#080808 61.5px,#2e2e2e 66.8px,#333333 69.8px,#333333 71.8px,#2e2e2e 73.2px,#252525 74.8px,#0a0a0a 78.2px,#010101 81px,#000000 115.5px,#020202 120.8px,#0d0d0d 124px,#232323 126.5px,#3f3f3f 128.5px,#909090 133.2px,#acacac 135.5px,#bababa 137.8px,#bebebe 140.8px,#bababa 143.8px,#aaaaaa 146px,#8e8e8e 148.2px,#404040 152.8px,#212121 155px,#0c0c0c 157.5px,#020202 160.5px,#000000 167px,#010101 258.2px,#090909 262px,#111111 263.5px,#1c1c1c 264.8px,#2b2b2b 266px,#424242 267.5px,#989898 272px,#b8b8b8 274px,#c3c3c3 275px,#cccccc 276.2px,#d2d2d2 278.8px,#cbcbcb 281.2px,#c4c4c4 282.2px,#b6b6b6 283.5px,#9a9a9a 285.2px,#434343 289.8px,#1f1f1f 292.2px,#0c0c0c 294.8px,#020202 297.8px,#000000 304.2px,#000000 420px)"></i>
<i style="top:160px;background:linear-gradient(90deg,#000000 0px,#010101 8px,#080808 11.5px,#1a1a1a 14.2px,#494949 18.5px,#565656 20px,#5e5e5e 21.5px,#616161 23.2px,#5f5f5f 25px,#575757 26.5px,#494949 28px,#171717 32.5px,#0a0a0a 34.2px,#030303 36.2px,#0f0f0f 38.2px,#363636 41.8px,#414141 43px,#474747 44.5px,#484848 46.5px,#474747 48.2px,#414141 49.5px,#373737 50.8px,#0d0d0d 54.5px,#040404 56px,#010101 57.5px,#020202 59.2px,#080808 60.8px,#2d2d2d 66px,#323232 69px,#313131 71px,#2d2d2d 72.5px,#0a0a0a 77.2px,#010101 80px,#020202 119px,#0d0d0d 122.2px,#222222 124.8px,#414141 127px,#8d8d8d 131.5px,#a9a9a9 133.8px,#b7b7b7 136px,#bbbbbb 138.8px,#b7b7b7 141.8px,#aaaaaa 144px,#8f8f8f 146.2px,#3e3e3e 151px,#232323 153px,#0d0d0d 155.5px,#030303 158.5px,#000000 165px,#010101 254.8px,#090909 258.5px,#111111 260px,#1c1c1c 261.2px,#2b2b2b 262.5px,#424242 264px,#989898 268.5px,#b8b8b8 270.5px,#c3c3c3 271.5px,#cccccc 272.8px,#d1d1d1 275.2px,#cbcbcb 277.8px,#c3c3c3 278.8px,#b5b5b5 280px,#999999 281.8px,#424242 286.2px,#1f1f1f 288.8px,#0b0b0b 291.2px,#020202 294.2px,#000000 300.8px,#000000 420px)"></i>
<i style="top:161px;background:linear-gradient(90deg,#000000 0px,#010101 7.8px,#090909 11.2px,#1b1b1b 14px,#545454 19.5px,#5d5d5d 21.2px,#606060 23px,#5e5e5e 24.8px,#565656 26.2px,#484848 27.8px,#161616 32.2px,#0a0a0a 34px,#040404 35.8px,#0f0f0f 37.8px,#343434 41px,#3f3f3f 42.2px,#464646 43.8px,#474747 45.8px,#464646 47.5px,#404040 49px,#353535 50.2px,#0c0c0c 54px,#050505 55.2px,#010101 57px,#080808 60px,#2c2c2c 65px,#313131 68px,#303030 70px,#2c2c2c 71.5px,#0a0a0a 76.2px,#010101 79px,#020202 117.2px,#0c0c0c 120.5px,#212121 123px,#404040 125.2px,#8b8b8b 129.8px,#a6a6a6 132px,#b4b4b4 134.2px,#b8b8b8 137px,#b4b4b4 140px,#a7a7a7 142.2px,#8c8c8c 144.5px,#3c3c3c 149.2px,#212121 151.2px,#0c0c0c 153.8px,#030303 156.8px,#000000 163.2px,#010101 251.2px,#090909 255px,#121212 256.5px,#1c1c1c 257.8px,#2b2b2b 259px,#424242 260.5px,#989898 265px,#b4b4b4 266.8px,#c3c3c3 268px,#cacaca 269px,#d1d1d1 271.5px,#cccccc 274px,#c3c3c3 275.2px,#b7b7b7 276.2px,#989898 278.2px,#424242 282.8px,#1f1f1f 285.2px,#0b0b0b 287.8px,#020202 290.8px,#000000 297.2px,#000000 420px)"></i>
<i style="top:162px;background:linear-gradient(90deg,#000000 0px,#010101 7.5px,#090909 11px,#1b1b1b 13.8px,#535353 19.2px,#5d5d5d 21px,#5f5f5f 22.8px,#5d5d5d 24.5px,#545454 26px,#474747 27.5px,#181818 31.8px,#0b0b0b 33.5px,#040404 35.2px,#060606 36px,#0f0f0f 37.2px,#333333 40.5px,#3e3e3e 41.8px,#454545 43.2px,#464646 45.2px,#454545 47px,#3f3f3f 48.2px,#353535 49.5px,#0c0c0c 53.2px,#050505 54.5px,#010101 56.2px,#080808 59.2px,#2b2b2b 64.2px,#303030 67.2px,#2b2b2b 70.5px,#0a0a0a 75.2px,#010101 78px,#000000 110.5px,#020202 115.8px,#0c0c0c 118.8px,#202020 121.2px,#3e3e3e 123.5px,#888888 128px,#a3a3a3 130.2px,#b1b1b1 132.5px,#b5b5b5 135.2px,#b1b1b1 138.2px,#a4a4a4 140.5px,#898989 142.8px,#3e3e3e 147.2px,#202020 149.5px,#0c0c0c 152px,#030303 154.8px,#000000 161px,#010101 247.8px,#090909 251.5px,#121212 253px,#1d1d1d 254.2px,#2b2b2b 255.5px,#424242 257px,#999999 261.5px,#b4b4b4 263.2px,#c2c2c2 264.5px,#cacaca 265.5px,#d0d0d0 268px,#cbcbcb 270.5px,#c2c2c2 271.8px,#b7b7b7 272.8px,#979797 274.8px,#414141 279.2px,#1f1f1f 281.8px,#0b0b0b 284.2px,#020202 287.2px,#000000 293.8px,#000000 420px)"></i>
<i style="top:163px;background:linear-gradient(90deg,#000000 0px,#010101 7.2px,#090909 10.8px,#1b1b1b 13.5px,#535353 19px,#5c5c5c 20.8px,#5e5e5e 22.5px,#5c5c5c 24px,#555555 25.5px,#484848 27px,#171717 31.5px,#0b0b0b 33.2px,#040404 35px,#0f0f0f 36.8px,#333333 40px,#3e3e3e 41.2px,#444444 42.8px,#454545 44.8px,#434343 46.5px,#3e3e3e 47.8px,#333333 49px,#0d0d0d 52.5px,#040404 54px,#010101 55.5px,#020202 57px,#080808 58.5px,#292929 63.2px,#2f2f2f 66.2px,#2e2e2e 68.2px,#2a2a2a 69.8px,#080808 74.5px,#010101 77px,#020202 114px,#0b0b0b 117px,#1f1f1f 119.5px,#3c3c3c 121.8px,#868686 126.2px,#a1a1a1 128.5px,#aeaeae 130.8px,#b2b2b2 133.5px,#aeaeae 136.5px,#a1a1a1 138.8px,#868686 141px,#3c3c3c 145.5px,#212121 147.5px,#0c0c0c 150px,#030303 153px,#000000 159.2px,#010101 244.2px,#090909 248px,#121212 249.5px,#1d1d1d 250.8px,#3e3e3e 253.2px,#999999 258px,#b4b4b4 259.8px,#c2c2c2 261px,#cacaca 262px,#d0d0d0 264.5px,#cbcbcb 267px,#c1c1c1 268.2px,#b6b6b6 269.2px,#979797 271.2px,#414141 275.8px,#1e1e1e 278.2px,#0b0b0b 280.8px,#020202 283.8px,#000000 290.2px,#000000 420px)"></i>
<i style="top:164px;background:linear-gradient(90deg,#000000 0px,#010101 7px,#090909 10.5px,#1b1b1b 13.2px,#525252 18.8px,#5b5b5b 20.5px,#5d5d5d 22.2px,#5b5b5b 23.8px,#545454 25.2px,#474747 26.8px,#161616 31.2px,#0c0c0c 32.8px,#050505 34.5px,#0f0f0f 36.2px,#333333 39.5px,#3d3d3d 40.8px,#434343 42.2px,#444444 44.2px,#424242 45.8px,#3e3e3e 47px,#343434 48.2px,#0c0c0c 52px,#040404 53.2px,#010101 55px,#080808 57.8px,#292929 62.5px,#2d2d2d 65.5px,#292929 68.8px,#080808 73.5px,#010101 76px,#020202 112.2px,#0b0b0b 115.2px,#1e1e1e 117.8px,#3b3b3b 120px,#838383 124.5px,#9e9e9e 126.8px,#acacac 129px,#afafaf 131.8px,#ababab 134.8px,#9e9e9e 137px,#838383 139.2px,#3b3b3b 143.8px,#202020 145.8px,#0c0c0c 148.2px,#030303 151px,#000000 157.2px,#010101 240.8px,#090909 244.5px,#121212 246px,#1d1d1d 247.2px,#3f3f3f 249.8px,#999999 254.5px,#b4b4b4 256.2px,#c2c2c2 257.5px,#c9c9c9 258.5px,#cfcfcf 261px,#cacaca 263.5px,#c1c1c1 264.8px,#b5b5b5 265.8px,#969696 267.8px,#414141 272.2px,#1e1e1e 274.8px,#0b0b0b 277.2px,#020202 280.2px,#000000 286.8px,#000000 420px)"></i>
<i style="top:165px;background:linear-gradient(90deg,#000000 0px,#010101 7px,#090909 10.2px,#1b1b1b 13px,#454545 17px,#515151 18.5px,#5a5a5a 20.2px,#5c5c5c 22px,#5a5a5a 23.5px,#525252 25px,#454545 26.5px,#181818 30.8px,#0d0d0d 32.2px,#050505 34px,#0f0f0f 35.8px,#303030 38.8px,#3b3b3b 40px,#414141 41.5px,#434343 43.5px,#414141 45.2px,#3c3c3c 46.5px,#323232 47.8px,#0c0c0c 51.2px,#050505 52.5px,#010101 54.2px,#080808 57px,#272727 61.5px,#2c2c2c 64.5px,#282828 67.8px,#080808 72.5px,#010101 75px,#020202 110.5px,#0c0c0c 113.8px,#202020 116.2px,#393939 118.2px,#818181 122.8px,#9b9b9b 125px,#a9a9a9 127.2px,#acacac 130px,#a8a8a8 133px,#9b9b9b 135.2px,#808080 137.5px,#393939 142px,#1f1f1f 144px,#0b0b0b 146.5px,#030303 149.2px,#000000 155.5px,#010101 237.2px,#090909 241px,#121212 242.5px,#1d1d1d 243.8px,#3f3f3f 246.2px,#949494 250.8px,#b4b4b4 252.8px,#c2c2c2 254px,#c9c9c9 255px,#cfcfcf 257.5px,#c9c9c9 260px,#c0c0c0 261.2px,#b5b5b5 262.2px,#959595 264.2px,#404040 268.8px,#1e1e1e 271.2px,#0b0b0b 273.8px,#020202 276.8px,#000000 283.2px,#000000 420px)"></i>
<i style="top:166px;background:linear-gradient(90deg,#000000 0px,#010101 6.8px,#090909 10px,#1b1b1b 12.8px,#4f4f4f 18px,#585858 19.8px,#5b5b5b 21.5px,#595959 23.2px,#515151 24.8px,#444444 26.2px,#171717 30.5px,#0c0c0c 32px,#050505 33.8px,#111111 35.5px,#2f2f2f 38.2px,#3a3a3a 39.5px,#404040 41px,#414141 43px,#404040 44.8px,#3a3a3a 46px,#0b0b0b 50.8px,#040404 52px,#010101 53.5px,#080808 56.2px,#272727 60.8px,#2b2b2b 63.8px,#272727 67px,#080808 71.5px,#010101 74.2px,#020202 109px,#0b0b0b 112px,#1f1f1f 114.5px,#383838 116.5px,#7f7f7f 121px,#989898 123.2px,#a6a6a6 125.5px,#a9a9a9 128.2px,#a5a5a5 131.2px,#989898 133.5px,#7d7d7d 135.8px,#3a3a3a 140px,#202020 142px,#0c0c0c 144.5px,#030303 147.2px,#000000 153.5px,#010101 233.8px,#0a0a0a 237.5px,#121212 239px,#1d1d1d 240.2px,#3f3f3f 242.8px,#949494 247.2px,#b4b4b4 249.2px,#c1c1c1 250.5px,#c9c9c9 251.5px,#cecece 254px,#c9c9c9 256.5px,#bfbfbf 257.8px,#b4b4b4 258.8px,#959595 260.8px,#404040 265.2px,#1e1e1e 267.8px,#0b0b0b 270.2px,#020202 273.5px,#000000 420px)"></i>
<i style="top:167px;background:linear-gradient(90deg,#000000 0px,#010101 6.5px,#090909 9.8px,#191919 12.2px,#4e4e4e 17.8px,#575757 19.5px,#5a5a5a 21.2px,#585858 23px,#505050 24.5px,#434343 26px,#171717 30.2px,#0c0c0c 31.8px,#060606 33.2px,#0f0f0f 34.8px,#2f2f2f 37.8px,#393939 39px,#3f3f3f 40.5px,#404040 42.5px,#3f3f3f 44px,#3a3a3a 45.2px,#303030 46.5px,#0b0b0b 50px,#040404 51.2px,#010101 52.8px,#070707 55.2px,#262626 60px,#2a2a2a 62.8px,#262626 66px,#080808 70.5px,#010101 73.2px,#020202 107.2px,#0b0b0b 110.2px,#1e1e1e 112.8px,#373737 114.8px,#7c7c7c 119.2px,#969696 121.5px,#a3a3a3 123.8px,#a6a6a6 126.5px,#a2a2a2 129.5px,#959595 131.8px,#7b7b7b 134px,#393939 138.2px,#1f1f1f 140.2px,#0b0b0b 142.8px,#030303 145.5px,#000000 151.8px,#010101 230.2px,#090909 233.8px,#1b1b1b 236.5px,#292929 237.8px,#404040 239.2px,#949494 243.8px,#b4b4b4 245.8px,#bfbfbf 246.8px,#c8c8c8 248px,#cecece 250.5px,#c8c8c8 253px,#c1c1c1 254px,#b3b3b3 255.2px,#949494 257.2px,#3f3f3f 261.8px,#1d1d1d 264.2px,#0b0b0b 266.8px,#020202 270px,#000000 420px)"></i>
<i style="top:168px;background:linear-gradient(90deg,#000000 0px,#010101 6.2px,#090909 9.5px,#191919 12px,#4e4e4e 17.5px,#565656 19.2px,#595959 21px,#565656 22.8px,#4f4f4f 24.2px,#181818 29.8px,#0d0d0d 31.2px,#060606 32.8px,#0f0f0f 34.2px,#2f2f2f 37.2px,#393939 38.5px,#3e3e3e 40px,#3f3f3f 41.8px,#3e3e3e 43.5px,#383838 44.8px,#2e2e2e 46px,#0c0c0c 49.2px,#050505 50.5px,#010101 52px,#070707 54.5px,#242424 59px,#292929 62px,#252525 65px,#070707 69.8px,#010101 72.2px,#020202 105.5px,#0a0a0a 108.5px,#1d1d1d 111px,#353535 113px,#7a7a7a 117.5px,#939393 119.8px,#a0a0a0 122px,#a3a3a3 124.8px,#a0a0a0 127.5px,#949494 129.8px,#7b7b7b 132px,#373737 136.5px,#1e1e1e 138.5px,#0b0b0b 141px,#020202 143.8px,#000000 150px,#010101 226.8px,#090909 230.2px,#1b1b1b 233px,#292929 234.2px,#404040 235.8px,#949494 240.2px,#b4b4b4 242.2px,#bfbfbf 243.2px,#c8c8c8 244.5px,#cdcdcd 247px,#c8c8c8 249.5px,#c0c0c0 250.5px,#b3b3b3 251.8px,#939393 253.8px,#3f3f3f 258.2px,#1d1d1d 260.8px,#0b0b0b 263.2px,#020202 266.5px,#000000 420px)"></i>
<i style="top:169px;background:linear-gradient(90deg,#000000 0px,#010101 6px,#090909 9.2px,#181818 11.8px,#4d4d4d 17.2px,#555555 19px,#585858 20.8px,#555555 22.5px,#4d4d4d 24px,#171717 29.5px,#0c0c0c 31px,#060606 32.5px,#111111 34px,#2c2c2c 36.5px,#373737 37.8px,#3d3d3d 39.2px,#3e3e3e 41.2px,#3d3d3d 42.8px,#383838 44px,#2e2e2e 45.2px,#0b0b0b 48.8px,#010101 51.2px,#070707 53.8px,#242424 58.2px,#282828 61px,#242424 64.2px,#070707 68.8px,#010101 71.2px,#020202 104px,#0a0a0a 106.8px,#1c1c1c 109.2px,#373737 111.5px,#777777 115.8px,#909090 118px,#9d9d9d 120.2px,#a0a0a0 123px,#9d9d9d 125.8px,#919191 128px,#787878 130.2px,#383838 134.5px,#1f1f1f 136.5px,#0b0b0b 139px,#030303 141.8px,#000000 148px,#010101 223.2px,#090909 226.8px,#1b1b1b 229.5px,#2a2a2a 230.8px,#404040 232.2px,#949494 236.8px,#b3b3b3 238.8px,#bebebe 239.8px,#c8c8c8 241px,#cdcdcd 243.5px,#c7c7c7 246px,#c0c0c0 247px,#b2b2b2 248.2px,#939393 250.2px,#3e3e3e 254.8px,#1d1d1d 257.2px,#0a0a0a 259.8px,#020202 263px,#000000 420px)"></i>
<i style="top:170px;background:linear-gradient(90deg,#000000 0px,#010101 6px,#080808 9px,#181818 11.5px,#4c4c4c 17px,#555555 18.8px,#575757 20.5px,#545454 22.2px,#4c4c4c 23.8px,#181818 29px,#0d0d0d 30.5px,#060606 32px,#0f0f0f 33.2px,#2c2c2c 36px,#363636 37.2px,#3c3c3c 38.8px,#3d3d3d 40.8px,#3b3b3b 42.2px,#363636 43.5px,#2c2c2c 44.8px,#0b0b0b 48px,#040404 49.2px,#010101 50.8px,#070707 53px,#232323 57.2px,#272727 60.2px,#232323 63.2px,#070707 67.8px,#010101 70.2px,#020202 102.2px,#0b0b0b 105.2px,#1d1d1d 107.8px,#363636 109.8px,#757575 114px,#8e8e8e 116.2px,#9a9a9a 118.5px,#9d9d9d 121.2px,#9a9a9a 124px,#8e8e8e 126.2px,#767676 128.5px,#373737 132.8px,#1e1e1e 134.8px,#0b0b0b 137.2px,#020202 140px,#000000 146.2px,#010101 219.8px,#090909 223.2px,#1c1c1c 226px,#2a2a2a 227.2px,#404040 228.8px,#959595 233.2px,#b3b3b3 235.2px,#bebebe 236.2px,#c7c7c7 237.5px,#cccccc 240px,#c6c6c6 242.5px,#bfbfbf 243.5px,#b1b1b1 244.8px,#969696 246.5px,#3e3e3e 251.2px,#1d1d1d 253.8px,#0a0a0a 256.2px,#020202 259.5px,#000000 420px)"></i>
<i style="top:171px;background:linear-gradient(90deg,#000000 0px,#010101 5.8px,#080808 8.8px,#1a1a1a 11.5px,#4b4b4b 16.8px,#545454 18.5px,#565656 20.2px,#545454 21.8px,#4c4c4c 23.2px,#404040 24.8px,#171717 28.8px,#070707 31.5px,#0f0f0f 32.8px,#2b2b2b 35.5px,#353535 36.8px,#3b3b3b 38.2px,#3c3c3c 40px,#3a3a3a 41.8px,#353535 43px,#0c0c0c 47.2px,#050505 48.5px,#010101 50px,#070707 52.2px,#222222 56.5px,#262626 59.2px,#232323 62.2px,#070707 66.8px,#010101 69.2px,#020202 100.5px,#0a0a0a 103.5px,#1c1c1c 106px,#343434 108px,#737373 112.2px,#8b8b8b 114.5px,#979797 116.8px,#9a9a9a 119.5px,#979797 122.2px,#8b8b8b 124.5px,#737373 126.8px,#353535 131px,#1d1d1d 133px,#0c0c0c 135.2px,#030303 138px,#000000 144.2px,#010101 216.2px,#090909 219.8px,#1c1c1c 222.5px,#3c3c3c 225px,#959595 229.8px,#b3b3b3 231.8px,#bebebe 232.8px,#c7c7c7 234px,#cccccc 236.5px,#c6c6c6 239px,#bfbfbf 240px,#b1b1b1 241.2px,#969696 243px,#3d3d3d 247.8px,#1c1c1c 250.2px,#0a0a0a 252.8px,#020202 256px,#000000 420px)"></i>
<i style="top:172px;background:linear-gradient(90deg,#000000 0px,#020202 5.8px,#090909 8.8px,#191919 11.2px,#4a4a4a 16.5px,#525252 18px,#545454 19.8px,#525252 21.5px,#4b4b4b 23px,#181818 28.2px,#070707 31px,#0f0f0f 32.2px,#333333 36px,#393939 37.5px,#3a3a3a 39.5px,#393939 41px,#343434 42.2px,#2b2b2b 43.5px,#0b0b0b 46.8px,#010101 49.2px,#070707 51.5px,#222222 55.8px,#262626 58.5px,#222222 61.5px,#070707 65.8px,#010101 68.2px,#020202 99px,#0a0a0a 101.8px,#1c1c1c 104.2px,#333333 106.2px,#707070 110.5px,#888888 112.8px,#949494 115px,#979797 117.8px,#949494 120.5px,#888888 122.8px,#707070 125px,#333333 129.2px,#1c1c1c 131.2px,#0b0b0b 133.5px,#020202 136.2px,#000000 142.5px,#010101 212.8px,#090909 216.2px,#1c1c1c 219px,#3d3d3d 221.5px,#959595 226.2px,#b3b3b3 228.2px,#bebebe 229.2px,#c7c7c7 230.5px,#cbcbcb 233px,#c5c5c5 235.5px,#bebebe 236.5px,#b0b0b0 237.8px,#959595 239.5px,#414141 244px,#2b2b2b 245.5px,#1c1c1c 246.8px,#0a0a0a 249.2px,#020202 252.5px,#000000 324.2px,#030303 331.2px,#0c0c0c 334px,#202020 336.5px,#3d3d3d 338.8px,#7f7f7f 343px,#979797 345px,#a3a3a3 347px,#a6a6a6 349px,#a6a6a6 349.5px,#000000 349.8px,#000000 420px)"></i>
<i style="top:173px;background:linear-gradient(90deg,#000000 0px,#010101 5.5px,#090909 8.5px,#181818 11px,#494949 16.2px,#515151 17.8px,#535353 19.5px,#515151 21.2px,#4a4a4a 22.8px,#171717 28px,#080808 30.5px,#0f0f0f 31.8px,#323232 35.5px,#383838 37px,#393939 39px,#383838 40.5px,#333333 41.8px,#0b0b0b 46px,#010101 48.5px,#070707 50.8px,#212121 54.8px,#252525 57.5px,#212121 60.5px,#070707 64.8px,#010101 67.2px,#020202 97.2px,#090909 100px,#1a1a1a 102.5px,#313131 104.5px,#717171 109px,#858585 111px,#919191 113.2px,#949494 116px,#919191 118.8px,#858585 121px,#6d6d6d 123.2px,#343434 127.2px,#1d1d1d 129.2px,#0c0c0c 131.5px,#030303 134.2px,#000000 140.5px,#010101 209.2px,#090909 212.8px,#1c1c1c 215.5px,#2b2b2b 216.8px,#414141 218.2px,#959595 222.8px,#b0b0b0 224.5px,#bdbdbd 225.8px,#c5c5c5 226.8px,#cbcbcb 229.2px,#c6c6c6 231.8px,#bdbdbd 233px,#b3b3b3 234px,#949494 236px,#3d3d3d 240.8px,#1c1c1c 243.2px,#0a0a0a 245.8px,#020202 249px,#000000 319px,#030303 326px,#0d0d0d 328.8px,#202020 331.2px,#3e3e3e 333.5px,#808080 337.8px,#989898 339.8px,#a4a4a4 341.5px,#a7a7a7 343.8px,#a6a6a6 345.2px,#a0a0a0 346.8px,#979797 348px,#858585 349.5px,#000000 349.8px,#000000 420px)"></i>
<i style="top:174px;background:linear-gradient(90deg,#000000 0px,#010101 5.2px,#080808 8.2px,#181818 10.8px,#494949 16px,#505050 17.5px,#525252 19.2px,#505050 21px,#484848 22.5px,#161616 27.8px,#080808 30.2px,#323232 35px,#373737 36.5px,#383838 38.5px,#363636 40px,#313131 41.2px,#0c0c0c 45.2px,#050505 46.5px,#010101 47.8px,#080808 50px,#202020 54px,#242424 56.8px,#202020 59.8px,#070707 63.8px,#010101 66.2px,#020202 95.8px,#0a0a0a 98.5px,#1c1c1c 101px,#333333 103px,#6e6e6e 107.2px,#838383 109.2px,#8f8f8f 111.5px,#929292 114.2px,#8f8f8f 117px,#828282 119.2px,#6e6e6e 121.2px,#323232 125.5px,#1b1b1b 127.5px,#0b0b0b 129.8px,#020202 132.5px,#000000 138.8px,#010101 205.8px,#090909 209.2px,#1c1c1c 212px,#3d3d3d 214.5px,#959595 219.2px,#b0b0b0 221px,#bdbdbd 222.2px,#c5c5c5 223.2px,#cacaca 225.8px,#c6c6c6 228.2px,#bdbdbd 229.5px,#b2b2b2 230.5px,#949494 232.5px,#3c3c3c 237.2px,#1c1c1c 239.8px,#0a0a0a 242.2px,#020202 245.5px,#000000 313.8px,#030303 320.8px,#0d0d0d 323.5px,#212121 326px,#3b3b3b 328px,#828282 332.5px,#999999 334.5px,#a5a5a5 336.2px,#a8a8a8 338.5px,#a6a6a6 340.2px,#9f9f9f 341.8px,#929292 343.2px,#7b7b7b 345px,#343434 349.5px,#000000 349.8px,#000000 420px)"></i>
<i style="top:175px;background:linear-gradient(90deg,#000000 0px,#020202 5.2px,#090909 8.2px,#171717 10.5px,#484848 15.8px,#4f4f4f 17.2px,#515151 19px,#4f4f4f 20.8px,#474747 22.2px,#171717 27.2px,#080808 29.8px,#313131 34.5px,#363636 35.8px,#373737 37.8px,#363636 39.2px,#313131 40.5px,#0b0b0b 44.8px,#010101 47px,#060606 49px,#1f1f1f 53px,#232323 55.8px,#1f1f1f 58.8px,#060606 63px,#010101 65.2px,#020202 94px,#090909 96.8px,#1a1a1a 99.2px,#313131 101.2px,#6c6c6c 105.5px,#808080 107.5px,#8c8c8c 109.8px,#8f8f8f 112.5px,#8c8c8c 115.2px,#7f7f7f 117.5px,#6b6b6b 119.5px,#303030 123.8px,#1c1c1c 125.5px,#0b0b0b 127.8px,#020202 130.5px,#000000 136.8px,#010101 202.2px,#090909 205.8px,#1c1c1c 208.5px,#3d3d3d 211px,#909090 215.5px,#afafaf 217.5px,#bdbdbd 218.8px,#c4c4c4 219.8px,#cacaca 222.2px,#c5c5c5 224.8px,#bcbcbc 226px,#b1b1b1 227px,#939393 229px,#404040 233.5px,#2a2a2a 235px,#1b1b1b 236.2px,#0a0a0a 238.8px,#020202 242px,#000000 308.8px,#030303 315.5px,#0d0d0d 318.2px,#212121 320.8px,#3b3b3b 322.8px,#838383 327.2px,#9b9b9b 329.2px,#a6a6a6 331px,#aaaaaa 333.2px,#a5a5a5 335.8px,#959595 337.8px,#7f7f7f 339.5px,#424242 343.2px,#2a2a2a 345px,#131313 347.2px,#070707 349.5px,#000000 349.8px,#000000 420px)"></i>
<i style="top:176px;background:linear-gradient(90deg,#000000 0px,#010101 5px,#090909 8px,#171717 10.2px,#474747 15.5px,#4e4e4e 17px,#505050 18.8px,#4e4e4e 20.2px,#474747 21.8px,#181818 26.8px,#080808 29.2px,#2f2f2f 33.8px,#353535 35.2px,#363636 37.2px,#343434 38.8px,#2f2f2f 40px,#0b0b0b 44px,#010101 46.2px,#060606 48.2px,#1f1f1f 52.2px,#222222 55px,#1f1f1f 57.8px,#060606 62px,#010101 64.2px,#020202 92.5px,#0a0a0a 95.2px,#191919 97.5px,#2f2f2f 99.5px,#696969 103.8px,#7d7d7d 105.8px,#898989 108px,#8c8c8c 110.8px,#898989 113.5px,#7e7e7e 115.5px,#686868 117.8px,#313131 121.8px,#1a1a1a 123.8px,#0a0a0a 126px,#030303 128.5px,#000000 134.5px,#010101 198.8px,#090909 202.2px,#121212 203.8px,#1d1d1d 205px,#3e3e3e 207.5px,#909090 212px,#afafaf 214px,#bdbdbd 215.2px,#c4c4c4 216.2px,#cacaca 218.8px,#c4c4c4 221.2px,#bbbbbb 222.5px,#b1b1b1 223.5px,#929292 225.5px,#3f3f3f 230px,#1e1e1e 232.5px,#131313 233.8px,#0a0a0a 235.2px,#020202 238.5px,#000000 303.5px,#030303 310.2px,#0d0d0d 313px,#222222 315.5px,#3c3c3c 317.5px,#858585 322px,#9d9d9d 324px,#a8a8a8 325.8px,#acacac 328px,#a8a8a8 330.2px,#9c9c9c 332px,#848484 334px,#3f3f3f 338.2px,#212121 340.5px,#0d0d0d 343px,#030303 345.8px,#000000 349.8px,#000000 420px)"></i>
<i style="top:177px;background:linear-gradient(90deg,#000000 0px,#020202 5px,#080808 7.8px,#181818 10.2px,#444444 15px,#4c4c4c 16.5px,#4f4f4f 18.2px,#4d4d4d 20px,#464646 21.5px,#171717 26.5px,#090909 28.8px,#2e2e2e 33.2px,#343434 34.8px,#353535 36.8px,#2f2f2f 39.2px,#0a0a0a 43.5px,#010101 45.8px,#080808 47.8px,#1d1d1d 51.2px,#212121 54px,#1e1e1e 57px,#060606 61px,#010101 63.2px,#020202 90.8px,#090909 93.5px,#1a1a1a 96px,#303030 98px,#676767 102px,#7b7b7b 104px,#868686 106.2px,#898989 108.8px,#878787 111.5px,#7c7c7c 113.8px,#686868 115.8px,#2f2f2f 120px,#191919 122px,#090909 124.2px,#020202 126.8px,#000000 133px,#010101 195.2px,#090909 198.8px,#121212 200.2px,#1d1d1d 201.5px,#3e3e3e 204px,#919191 208.5px,#afafaf 210.5px,#bcbcbc 211.8px,#c3c3c3 212.8px,#c9c9c9 215.2px,#c4c4c4 217.8px,#bbbbbb 219px,#b0b0b0 220px,#929292 222px,#3f3f3f 226.5px,#1d1d1d 229px,#121212 230.2px,#0a0a0a 231.8px,#020202 235px,#000000 298.2px,#030303 305px,#0d0d0d 307.8px,#222222 310.2px,#3d3d3d 312.2px,#838383 316.5px,#9c9c9c 318.5px,#aaaaaa 320.5px,#aeaeae 322.8px,#ababab 324.8px,#9d9d9d 326.8px,#858585 328.8px,#3f3f3f 333px,#232323 335px,#0e0e0e 337.5px,#030303 340.5px,#000000 346.5px,#000000 420px)"></i>
<i style="top:178px;background:linear-gradient(90deg,#000000 0px,#020202 4.8px,#080808 7.5px,#181818 10px,#444444 14.8px,#4b4b4b 16.2px,#4e4e4e 18px,#4c4c4c 19.8px,#454545 21.2px,#181818 26px,#090909 28.2px,#0d0d0d 29px,#2e2e2e 32.8px,#323232 34px,#333333 36px,#323232 37.5px,#2d2d2d 38.8px,#0a0a0a 42.8px,#010101 45px,#070707 46.8px,#1d1d1d 50.5px,#212121 53.2px,#1d1d1d 56px,#060606 60px,#010101 62.2px,#020202 89.2px,#090909 92px,#191919 94.2px,#2f2f2f 96.2px,#646464 100.2px,#7a7a7a 102.5px,#848484 104.5px,#868686 107px,#848484 109.8px,#797979 112px,#656565 114px,#2d2d2d 118.2px,#191919 120px,#0a0a0a 122.2px,#020202 124.8px,#000000 131px,#020202 192px,#090909 195.2px,#1d1d1d 198px,#3d3d3d 200.5px,#909090 205px,#aeaeae 207px,#bcbcbc 208.2px,#c3c3c3 209.2px,#c8c8c8 211.8px,#c3c3c3 214.2px,#bababa 215.5px,#afafaf 216.5px,#909090 218.5px,#3e3e3e 223px,#1d1d1d 225.5px,#121212 226.8px,#090909 228.2px,#020202 231.5px,#000000 293.2px,#040404 299.8px,#0e0e0e 302.5px,#232323 305px,#3e3e3e 307px,#858585 311.2px,#9e9e9e 313.2px,#acacac 315.2px,#b0b0b0 317.5px,#ababab 319.8px,#999999 322px,#828282 323.8px,#373737 328.2px,#1b1b1b 330.5px,#0b0b0b 332.8px,#030303 335.2px,#000000 341.2px,#000000 420px)"></i>
<i style="top:179px;background:linear-gradient(90deg,#000000 0px,#020202 4.8px,#090909 7.5px,#171717 9.8px,#434343 14.5px,#4b4b4b 16px,#4d4d4d 17.8px,#4b4b4b 19.5px,#434343 21px,#171717 25.8px,#090909 28px,#2d2d2d 32.2px,#313131 33.5px,#323232 35.5px,#2d2d2d 38px,#0b0b0b 42px,#010101 44.2px,#070707 46px,#1c1c1c 49.8px,#202020 52.2px,#1d1d1d 55px,#060606 59px,#010101 61.2px,#020202 87.5px,#090909 90.2px,#171717 92.5px,#2d2d2d 94.5px,#646464 98.8px,#777777 100.8px,#818181 102.8px,#848484 105.2px,#818181 108px,#767676 110.2px,#626262 112.2px,#2e2e2e 116.2px,#1a1a1a 118px,#0a0a0a 120.2px,#030303 122.8px,#000000 128.8px,#020202 188.5px,#090909 191.8px,#1c1c1c 194.5px,#3c3c3c 197px,#8f8f8f 201.5px,#adadad 203.5px,#bbbbbb 204.8px,#c1c1c1 205.8px,#c7c7c7 208.2px,#c1c1c1 210.8px,#bababa 211.8px,#adadad 213px,#8e8e8e 215px,#3c3c3c 219.5px,#1c1c1c 222px,#090909 224.8px,#020202 228px,#000000 288px,#040404 294.5px,#0e0e0e 297.2px,#232323 299.8px,#3f3f3f 301.8px,#878787 306px,#a1a1a1 308px,#aeaeae 310px,#b2b2b2 312.2px,#adadad 314.5px,#9b9b9b 316.8px,#828282 318.5px,#373737 323px,#1b1b1b 325.2px,#0b0b0b 327.5px,#030303 330px,#000000 336px,#000000 420px)"></i>
<i style="top:180px;background:linear-gradient(90deg,#000000 0px,#020202 4.5px,#090909 7.2px,#171717 9.5px,#424242 14.2px,#4a4a4a 15.8px,#4c4c4c 17.5px,#4a4a4a 19.2px,#424242 20.8px,#161616 25.5px,#090909 27.5px,#2b2b2b 31.5px,#303030 33px,#313131 35px,#2b2b2b 37.5px,#0a0a0a 41.5px,#020202 43.5px,#070707 45.2px,#1b1b1b 48.8px,#1f1f1f 51.5px,#1c1c1c 54.2px,#060606 58px,#010101 60.2px,#020202 86px,#090909 88.8px,#181818 91px,#2b2b2b 92.8px,#626262 97px,#757575 99px,#7e7e7e 101px,#818181 103.5px,#7e7e7e 106.2px,#757575 108.2px,#5f5f5f 110.5px,#2b2b2b 114.5px,#191919 116.2px,#090909 118.5px,#020202 121px,#000000 127.2px,#020202 185.2px,#0a0a0a 188.5px,#1b1b1b 191px,#3b3b3b 193.5px,#929292 198.2px,#acacac 200px,#b9b9b9 201.2px,#c0c0c0 202.2px,#c6c6c6 204.8px,#c0c0c0 207.2px,#b9b9b9 208.2px,#ababab 209.5px,#919191 211.2px,#3e3e3e 215.8px,#282828 217.2px,#1a1a1a 218.5px,#090909 221px,#010101 224.5px,#000000 283.2px,#040404 289.5px,#101010 292.2px,#242424 294.5px,#404040 296.5px,#898989 300.8px,#a3a3a3 302.8px,#b1b1b1 304.8px,#b4b4b4 306.8px,#afafaf 309.2px,#9c9c9c 311.5px,#838383 313.2px,#3b3b3b 317.5px,#1b1b1b 320px,#0b0b0b 322.2px,#030303 325px,#000000 331px,#000000 420px)"></i>
<i style="top:181px;background:linear-gradient(90deg,#000000 0px,#020202 4.5px,#080808 7px,#161616 9.2px,#414141 14px,#494949 15.5px,#4b4b4b 17.2px,#494949 18.8px,#424242 20.2px,#171717 25px,#0a0a0a 27px,#2a2a2a 31px,#2f2f2f 32.5px,#303030 34.5px,#2a2a2a 37px,#0a0a0a 40.8px,#020202 42.8px,#070707 44.5px,#1b1b1b 48px,#1e1e1e 50.8px,#1b1b1b 53.2px,#060606 57px,#010101 59.2px,#020202 84.2px,#090909 87px,#171717 89.2px,#2c2c2c 91.2px,#5f5f5f 95.2px,#727272 97.2px,#7b7b7b 99.2px,#7e7e7e 101.8px,#7b7b7b 104.5px,#727272 106.5px,#5f5f5f 108.5px,#292929 112.8px,#171717 114.5px,#0a0a0a 116.5px,#020202 119px,#000000 125px,#020202 181.8px,#090909 185px,#121212 186.5px,#1d1d1d 187.8px,#3e3e3e 190.2px,#8c8c8c 194.5px,#ababab 196.5px,#b8b8b8 197.8px,#bfbfbf 198.8px,#c4c4c4 201.2px,#bebebe 203.8px,#adadad 205.8px,#8f8f8f 207.8px,#3c3c3c 212.2px,#1c1c1c 214.8px,#111111 216px,#090909 217.5px,#010101 220.8px,#000000 278px,#040404 284.2px,#101010 287px,#252525 289.2px,#414141 291.2px,#8b8b8b 295.5px,#a5a5a5 297.5px,#b2b2b2 299.2px,#b6b6b6 301.5px,#b1b1b1 304px,#a0a0a0 306px,#848484 308px,#3b3b3b 312.2px,#1b1b1b 314.8px,#0b0b0b 317px,#030303 319.8px,#000000 325.8px,#000000 420px)"></i>
<i style="top:182px;background:linear-gradient(90deg,#000000 0px,#020202 4.2px,#080808 6.8px,#161616 9px,#404040 13.8px,#484848 15.2px,#4a4a4a 17px,#484848 18.5px,#414141 20px,#181818 24.5px,#0a0a0a 26.5px,#2a2a2a 30.5px,#2e2e2e 31.8px,#2f2f2f 33.8px,#2a2a2a 36.2px,#0b0b0b 40px,#020202 42px,#060606 43.5px,#1a1a1a 47.2px,#1d1d1d 49.8px,#1b1b1b 52.2px,#050505 56.2px,#010101 58.2px,#020202 82.8px,#080808 85.2px,#161616 87.5px,#2b2b2b 89.5px,#5d5d5d 93.5px,#6f6f6f 95.5px,#797979 97.5px,#7b7b7b 100px,#797979 102.8px,#6f6f6f 104.8px,#5d5d5d 106.8px,#2a2a2a 110.8px,#181818 112.5px,#0a0a0a 114.5px,#020202 117px,#000000 123.2px,#020202 178.5px,#0a0a0a 181.8px,#1c1c1c 184.2px,#3d3d3d 186.8px,#8f8f8f 191.2px,#aaaaaa 193px,#b7b7b7 194.2px,#bebebe 195.2px,#c3c3c3 197.8px,#bebebe 200px,#b6b6b6 201.2px,#ababab 202.2px,#8d8d8d 204.2px,#3b3b3b 208.8px,#1a1a1a 211.2px,#090909 213.8px,#010101 217.2px,#000000 272.8px,#040404 279px,#101010 281.8px,#252525 284px,#424242 286px,#8c8c8c 290.2px,#a7a7a7 292.2px,#b4b4b4 294px,#b8b8b8 296.2px,#b3b3b3 298.8px,#a2a2a2 300.8px,#858585 302.8px,#3a3a3a 307px,#1b1b1b 309.5px,#0a0a0a 311.8px,#020202 314.5px,#000000 320.5px,#000000 420px)"></i>
<i style="top:183px;background:linear-gradient(90deg,#000000 0px,#020202 4.2px,#090909 6.8px,#151515 8.8px,#404040 13.5px,#474747 15px,#494949 16.5px,#474747 18.2px,#404040 19.8px,#171717 24.2px,#0b0b0b 26px,#292929 30px,#2d2d2d 31.2px,#2e2e2e 33.2px,#282828 35.8px,#0a0a0a 39.5px,#020202 41.5px,#070707 43px,#191919 46.2px,#1c1c1c 48.8px,#191919 51.5px,#050505 55.2px,#010101 57.2px,#020202 81.2px,#080808 83.8px,#171717 86px,#292929 87.8px,#5a5a5a 91.8px,#6d6d6d 93.8px,#767676 95.8px,#787878 98.2px,#767676 101px,#6c6c6c 103px,#5a5a5a 105px,#282828 109px,#161616 110.8px,#090909 112.8px,#020202 115.2px,#000000 121.5px,#020202 175px,#0a0a0a 178.2px,#1b1b1b 180.8px,#3c3c3c 183.2px,#8e8e8e 187.8px,#a9a9a9 189.5px,#b6b6b6 190.8px,#bdbdbd 191.8px,#c2c2c2 194.2px,#bdbdbd 196.5px,#b4b4b4 197.8px,#a9a9a9 198.8px,#8b8b8b 200.8px,#3d3d3d 205px,#1c1c1c 207.5px,#111111 208.8px,#090909 210.2px,#010101 213.5px,#000000 267.5px,#040404 273.8px,#101010 276.5px,#262626 278.8px,#434343 280.8px,#8e8e8e 285px,#a8a8a8 287px,#b5b5b5 288.8px,#b9b9b9 291px,#b3b3b3 293.5px,#a2a2a2 295.5px,#858585 297.5px,#3a3a3a 301.8px,#1d1d1d 304px,#0a0a0a 306.5px,#020202 309.2px,#000000 315.5px,#000000 420px)"></i>
<i style="top:184px;background:linear-gradient(90deg,#000000 0px,#020202 4px,#080808 6.5px,#171717 8.8px,#3f3f3f 13.2px,#464646 14.8px,#484848 16.2px,#464646 18px,#3e3e3e 19.5px,#161616 24px,#0b0b0b 25.8px,#282828 29.5px,#2c2c2c 32.8px,#262626 35.2px,#0a0a0a 38.8px,#020202 40.8px,#191919 45.5px,#1c1c1c 48px,#191919 50.5px,#050505 54.2px,#010101 56.2px,#020202 79.5px,#080808 82px,#161616 84.2px,#272727 86px,#585858 90px,#6a6a6a 92px,#737373 94px,#767676 96.5px,#737373 99.2px,#696969 101.2px,#575757 103.2px,#292929 107px,#171717 108.8px,#0a0a0a 110.8px,#020202 113.2px,#000000 119.2px,#010101 171.5px,#090909 174.8px,#1a1a1a 177.2px,#3b3b3b 179.8px,#8d8d8d 184.2px,#a7a7a7 186px,#b5b5b5 187.2px,#bbbbbb 188.2px,#c1c1c1 190.8px,#bcbcbc 193px,#b3b3b3 194.2px,#a8a8a8 195.2px,#8d8d8d 197px,#3b3b3b 201.5px,#1b1b1b 204px,#090909 206.5px,#010101 210px,#000000 262.5px,#040404 268.5px,#111111 271.2px,#262626 273.5px,#434343 275.5px,#8e8e8e 279.8px,#a6a6a6 281.5px,#b5b5b5 283.5px,#b9b9b9 285.8px,#b3b3b3 288.2px,#a2a2a2 290.2px,#898989 292px,#3a3a3a 296.5px,#1c1c1c 298.8px,#0b0b0b 301px,#020202 304px,#000000 310.2px,#000000 420px)"></i>
<i style="top:185px;background:linear-gradient(90deg,#000000 0px,#020202 3.8px,#080808 6.2px,#161616 8.5px,#3e3e3e 13px,#454545 14.5px,#474747 16px,#444444 17.8px,#3d3d3d 19.2px,#171717 23.5px,#0b0b0b 25.2px,#262626 28.8px,#2a2a2a 30px,#2b2b2b 32px,#262626 34.5px,#090909 38.2px,#020202 40px,#171717 44.5px,#1b1b1b 47.2px,#181818 49.8px,#050505 53.2px,#010101 55.2px,#020202 78px,#080808 80.5px,#141414 82.5px,#282828 84.5px,#555555 88.2px,#676767 90.2px,#707070 92.2px,#737373 94.8px,#707070 97.5px,#676767 99.5px,#545454 101.5px,#272727 105.2px,#161616 107px,#090909 109px,#020202 111.2px,#000000 117.2px,#020202 168.2px,#0a0a0a 171.5px,#1c1c1c 174px,#3e3e3e 176.5px,#8c8c8c 180.8px,#a6a6a6 182.5px,#b3b3b3 183.8px,#bababa 184.8px,#bfbfbf 187px,#bababa 189.5px,#a9a9a9 191.5px,#8b8b8b 193.5px,#393939 198px,#191919 200.5px,#090909 203px,#010101 206.5px,#000000 257.2px,#040404 263.2px,#111111 266px,#262626 268.2px,#444444 270.2px,#8b8b8b 274.2px,#a6a6a6 276.2px,#b5b5b5 278.2px,#b9b9b9 280.5px,#b4b4b4 282.8px,#acacac 284px,#a1a1a1 285px,#888888 286.8px,#393939 291.2px,#1c1c1c 293.5px,#0b0b0b 295.8px,#020202 298.8px,#000000 305px,#000000 420px)"></i>
<i style="top:186px;background:linear-gradient(90deg,#000000 0px,#020202 3.8px,#090909 6.2px,#151515 8.2px,#3d3d3d 12.8px,#444444 14.2px,#464646 15.8px,#444444 17.2px,#3d3d3d 18.8px,#161616 23.2px,#0c0c0c 24.8px,#262626 28.2px,#292929 29.5px,#2a2a2a 31.5px,#242424 34px,#090909 37.5px,#020202 39.2px,#171717 43.8px,#1a1a1a 46.2px,#171717 48.8px,#050505 52.2px,#010101 54.2px,#020202 76.2px,#080808 78.8px,#151515 81px,#272727 82.8px,#535353 86.5px,#656565 88.5px,#6e6e6e 90.5px,#707070 93px,#6e6e6e 95.5px,#656565 97.5px,#545454 99.5px,#282828 103.2px,#161616 105px,#090909 107px,#020202 109.5px,#000000 115.5px,#020202 164.8px,#090909 168px,#1b1b1b 170.5px,#3d3d3d 173px,#8a8a8a 177.2px,#a5a5a5 179px,#b2b2b2 180.2px,#b9b9b9 181.2px,#bebebe 183.5px,#b9b9b9 186px,#a7a7a7 188px,#898989 190px,#3c3c3c 194.2px,#1b1b1b 196.8px,#090909 199.2px,#010101 202.8px,#000000 252px,#050505 258px,#111111 260.8px,#272727 263px,#444444 265px,#8b8b8b 269px,#a6a6a6 271px,#b5b5b5 273px,#b9b9b9 275.2px,#b4b4b4 277.5px,#ababab 278.8px,#a1a1a1 279.8px,#888888 281.5px,#393939 286px,#1c1c1c 288.2px,#0a0a0a 290.8px,#020202 293.8px,#000000 420px)"></i>
<i style="top:187px;background:linear-gradient(90deg,#000000 0px,#020202 3.8px,#080808 6px,#151515 8px,#3c3c3c 12.5px,#434343 14px,#454545 15.5px,#434343 17px,#3c3c3c 18.5px,#0c0c0c 24.2px,#252525 27.8px,#292929 31px,#242424 33.2px,#0a0a0a 36.8px,#020202 38.5px,#171717 43px,#191919 45.5px,#171717 47.8px,#050505 51.2px,#010101 53.2px,#020202 74.8px,#080808 77.2px,#141414 79.2px,#252525 81px,#515151 84.8px,#626262 86.8px,#6b6b6b 88.8px,#6d6d6d 91.2px,#6b6b6b 93.8px,#636363 95.8px,#515151 97.8px,#262626 101.5px,#151515 103.2px,#090909 105.2px,#020202 107.5px,#000000 113.5px,#020202 161.5px,#090909 164.5px,#1b1b1b 167px,#3c3c3c 169.5px,#898989 173.8px,#a4a4a4 175.5px,#b1b1b1 176.8px,#b8b8b8 177.8px,#bdbdbd 180px,#b7b7b7 182.5px,#a6a6a6 184.5px,#8c8c8c 186.2px,#3a3a3a 190.8px,#282828 192px,#191919 193.2px,#090909 195.8px,#010101 199.2px,#000000 246.8px,#050505 252.8px,#111111 255.5px,#272727 257.8px,#454545 259.8px,#8c8c8c 263.8px,#a7a7a7 265.8px,#b5b5b5 267.8px,#b9b9b9 269.8px,#b4b4b4 272.2px,#adadad 273.2px,#a1a1a1 274.5px,#878787 276.2px,#3c3c3c 280.5px,#1c1c1c 283px,#0a0a0a 285.5px,#020202 288.5px,#000000 420px)"></i>
<i style="top:188px;background:linear-gradient(90deg,#000000 0px,#020202 3.5px,#080808 5.8px,#141414 7.8px,#3b3b3b 12.2px,#424242 13.8px,#434343 15.2px,#424242 16.8px,#3b3b3b 18.2px,#0d0d0d 23.8px,#242424 27.2px,#282828 30.5px,#232323 32.8px,#090909 36.2px,#020202 37.8px,#151515 42px,#181818 44.8px,#151515 47px,#050505 50.2px,#010101 52.2px,#020202 73px,#080808 75.5px,#131313 77.5px,#232323 79.2px,#515151 83.2px,#5f5f5f 85px,#686868 87px,#6b6b6b 89.5px,#686868 92px,#606060 94px,#4f4f4f 96px,#272727 99.5px,#161616 101.2px,#090909 103.2px,#020202 105.5px,#000000 111.2px,#020202 158px,#090909 161px,#1a1a1a 163.5px,#282828 164.8px,#3a3a3a 166px,#888888 170.2px,#a3a3a3 172px,#b0b0b0 173.2px,#b7b7b7 174.2px,#bbbbbb 176.5px,#b6b6b6 179px,#a4a4a4 181px,#8a8a8a 182.8px,#3c3c3c 187px,#1b1b1b 189.5px,#090909 192px,#010101 195.5px,#000000 241.5px,#050505 247.5px,#111111 250.2px,#282828 252.5px,#454545 254.5px,#8c8c8c 258.5px,#a7a7a7 260.5px,#b5b5b5 262.5px,#b9b9b9 264.5px,#b4b4b4 267px,#a3a3a3 269px,#868686 271px,#383838 275.5px,#1b1b1b 277.8px,#0a0a0a 280.2px,#020202 283.2px,#000000 420px)"></i>
<i style="top:189px;background:linear-gradient(90deg,#000000 0px,#020202 3.5px,#080808 5.8px,#151515 7.8px,#3a3a3a 12px,#404040 13.2px,#424242 14.8px,#414141 16.2px,#3b3b3b 17.8px,#141414 22.2px,#0d0d0d 23.5px,#232323 26.8px,#272727 29.8px,#212121 32.2px,#090909 35.5px,#030303 37px,#151515 41.2px,#171717 43.8px,#151515 46px,#050505 49.2px,#000000 51.2px,#020202 71.5px,#080808 74px,#131313 76px,#232323 77.8px,#4d4d4d 81.5px,#5d5d5d 83.5px,#656565 85.5px,#676767 87.8px,#656565 90.2px,#5c5c5c 92.2px,#4e4e4e 94px,#242424 97.8px,#141414 99.5px,#080808 101.5px,#020202 103.5px,#000000 109.5px,#020202 154.8px,#090909 157.8px,#1b1b1b 160.2px,#393939 162.5px,#878787 166.8px,#a1a1a1 168.5px,#afafaf 169.8px,#b5b5b5 170.8px,#bababa 173px,#b4b4b4 175.5px,#a2a2a2 177.5px,#888888 179.2px,#3a3a3a 183.5px,#282828 184.8px,#1a1a1a 186px,#090909 188.5px,#010101 192px,#000000 236.5px,#050505 242.5px,#121212 245px,#282828 247.2px,#464646 249.2px,#8d8d8d 253.2px,#a7a7a7 255.2px,#b4b4b4 257px,#b9b9b9 259.2px,#b4b4b4 261.8px,#a3a3a3 263.8px,#868686 265.8px,#3b3b3b 270px,#1b1b1b 272.5px,#090909 275px,#020202 278px,#000000 420px)"></i>
<i style="top:190px;background:linear-gradient(90deg,#000000 0px,#020202 3.2px,#080808 5.5px,#141414 7.5px,#393939 11.8px,#3f3f3f 13px,#414141 14.5px,#404040 16px,#393939 17.5px,#0d0d0d 23px,#212121 26px,#252525 29.2px,#212121 31.5px,#080808 35px,#020202 36.5px,#141414 40.2px,#171717 43px,#141414 45px,#040404 48.5px,#000000 50.2px,#020202 70px,#070707 72.5px,#131313 74.5px,#232323 76.2px,#494949 79.8px,#595959 81.8px,#616161 83.8px,#626262 86px,#606060 88.5px,#575757 90.5px,#494949 92.2px,#232323 95.8px,#131313 97.5px,#070707 99.5px,#020202 101.5px,#000000 107.2px,#020202 151.2px,#090909 154.2px,#1b1b1b 156.8px,#383838 159px,#858585 163.2px,#a0a0a0 165px,#adadad 166.2px,#b4b4b4 167.2px,#b9b9b9 169.5px,#b4b4b4 171.8px,#a6a6a6 173.5px,#8e8e8e 175.2px,#454545 179.2px,#262626 181.2px,#121212 183.2px,#050505 185.8px,#000000 191.5px,#010101 234.5px,#080808 238px,#1a1a1a 240.8px,#3a3a3a 243.2px,#858585 247.5px,#a2a2a2 249.5px,#b3b3b3 251.5px,#b9b9b9 254px,#b3b3b3 256.5px,#a2a2a2 258.5px,#858585 260.5px,#3b3b3b 264.8px,#1b1b1b 267.2px,#090909 269.8px,#020202 272.8px,#000000 420px)"></i>
<i style="top:191px;background:linear-gradient(90deg,#000000 0px,#020202 3.2px,#090909 5.5px,#141414 7.2px,#393939 11.5px,#3e3e3e 12.8px,#404040 14.2px,#3f3f3f 15.8px,#383838 17.2px,#0d0d0d 22.5px,#212121 25.5px,#242424 28.8px,#1f1f1f 31px,#090909 34.2px,#030303 35.8px,#131313 39.5px,#161616 42px,#131313 44.2px,#040404 47.5px,#000000 49.2px,#010101 68.5px,#060606 70.8px,#111111 72.8px,#202020 74.5px,#474747 78.2px,#545454 80px,#5c5c5c 82px,#5e5e5e 84.2px,#5c5c5c 86.5px,#545454 88.5px,#474747 90.2px,#121212 95.5px,#070707 97.5px,#020202 99.5px,#000000 105.8px,#020202 148px,#0a0a0a 151px,#1a1a1a 153.2px,#282828 154.5px,#3b3b3b 155.8px,#848484 159.8px,#9f9f9f 161.5px,#b2b2b2 163.5px,#b8b8b8 166px,#b4b4b4 168px,#a5a5a5 170px,#8c8c8c 171.8px,#434343 175.8px,#282828 177.5px,#111111 179.8px,#050505 182.2px,#000000 187.8px,#010101 229.2px,#080808 232.8px,#181818 235.2px,#373737 237.8px,#868686 242.2px,#a2a2a2 244.2px,#b4b4b4 246.2px,#b9b9b9 248.8px,#b3b3b3 251.2px,#a2a2a2 253.2px,#858585 255.2px,#3a3a3a 259.5px,#1a1a1a 262px,#090909 264.5px,#020202 267.5px,#000000 420px)"></i>
<i style="top:192px;background:linear-gradient(90deg,#000000 0px,#020202 3.2px,#080808 5.2px,#131313 7px,#383838 11.2px,#3d3d3d 12.5px,#3f3f3f 14px,#3e3e3e 15.5px,#373737 17px,#0e0e0e 22px,#212121 25.2px,#232323 28.2px,#1e1e1e 30.5px,#090909 33.5px,#030303 35px,#131313 38.8px,#151515 41.2px,#131313 43.2px,#040404 46.5px,#010101 48.2px,#010101 67px,#060606 69.2px,#101010 71.2px,#1f1f1f 73px,#434343 76.5px,#505050 78.2px,#575757 80.2px,#595959 82.5px,#575757 84.8px,#4f4f4f 86.8px,#424242 88.5px,#121212 93.5px,#070707 95.5px,#020202 97.5px,#020202 144.5px,#090909 147.5px,#191919 149.8px,#363636 152px,#878787 156.5px,#a1a1a1 158.2px,#b2b2b2 160.2px,#b6b6b6 162.5px,#b3b3b3 164.5px,#a3a3a3 166.5px,#8a8a8a 168.2px,#414141 172.2px,#272727 174px,#121212 176px,#050505 178.5px,#000000 184px,#010101 224px,#080808 227.5px,#191919 230px,#373737 232.5px,#868686 237px,#a3a3a3 239px,#b4b4b4 241px,#b9b9b9 243.5px,#b4b4b4 245.8px,#acacac 247px,#a2a2a2 248px,#898989 249.8px,#3a3a3a 254.2px,#1a1a1a 256.8px,#090909 259.2px,#020202 262.2px,#000000 420px)"></i>
<i style="top:193px;background:linear-gradient(90deg,#000000 0px,#020202 3px,#080808 5px,#121212 6.8px,#373737 11px,#3c3c3c 12.2px,#3e3e3e 13.8px,#3c3c3c 15.2px,#373737 16.5px,#141414 20.8px,#0e0e0e 21.8px,#1f1f1f 24.5px,#222222 27.5px,#1d1d1d 29.8px,#080808 33px,#030303 34.2px,#121212 37.8px,#151515 40.2px,#121212 42.5px,#040404 45.5px,#010101 47.2px,#010101 65.5px,#060606 67.8px,#101010 69.8px,#3e3e3e 74.8px,#4b4b4b 76.5px,#525252 78.2px,#545454 80.5px,#535353 83px,#4c4c4c 84.8px,#404040 86.5px,#111111 91.5px,#070707 93.5px,#020202 95.5px,#020202 141.2px,#0a0a0a 144.2px,#1b1b1b 146.5px,#393939 148.8px,#868686 153px,#a0a0a0 154.8px,#b1b1b1 156.8px,#b5b5b5 159px,#b1b1b1 161px,#a1a1a1 163px,#888888 164.8px,#444444 168.5px,#282828 170.2px,#111111 172.5px,#060606 174.8px,#000000 180.2px,#010101 218.8px,#080808 222.2px,#181818 224.8px,#373737 227.2px,#858585 231.8px,#a1a1a1 233.8px,#b2b2b2 235.8px,#b7b7b7 238.2px,#b2b2b2 240.5px,#aaaaaa 241.8px,#9f9f9f 242.8px,#868686 244.5px,#383838 249px,#1b1b1b 251.2px,#0a0a0a 253.8px,#020202 257px,#000000 420px)"></i>
<i style="top:194px;background:linear-gradient(90deg,#000000 0px,#020202 3px,#080808 5px,#141414 6.8px,#363636 10.8px,#3b3b3b 12px,#3d3d3d 13.5px,#3b3b3b 15px,#363636 16.2px,#0e0e0e 21.2px,#1e1e1e 24px,#212121 27px,#1c1c1c 29.2px,#030303 33.5px,#121212 37px,#141414 39.5px,#121212 41.5px,#040404 44.5px,#010101 46.2px,#010101 64px,#060606 66.2px,#101010 68.2px,#3c3c3c 73.2px,#484848 75px,#4e4e4e 76.8px,#505050 78.8px,#4e4e4e 81.2px,#484848 83px,#3c3c3c 84.8px,#0f0f0f 89.8px,#060606 91.5px,#020202 93.5px,#020202 137.8px,#0a0a0a 140.8px,#1a1a1a 143px,#383838 145.2px,#858585 149.5px,#9e9e9e 151.2px,#afafaf 153.2px,#b4b4b4 155.5px,#afafaf 157.8px,#9d9d9d 159.8px,#828282 161.5px,#393939 165.5px,#272727 166.8px,#191919 168px,#080808 170.5px,#010101 174px,#000000 211px,#060606 216.5px,#111111 218.8px,#272727 221px,#444444 223px,#858585 226.8px,#a0a0a0 228.8px,#afafaf 230.8px,#b2b2b2 233px,#aeaeae 235.2px,#9b9b9b 237.5px,#828282 239.2px,#393939 243.5px,#191919 246px,#090909 248.5px,#010101 251.8px,#000000 420px)"></i>
<i style="top:195px;background:linear-gradient(90deg,#000000 0px,#020202 2.8px,#080808 4.8px,#131313 6.5px,#353535 10.5px,#3c3c3c 13px,#3b3b3b 14.5px,#343434 16px,#0e0e0e 20.8px,#1d1d1d 23.5px,#202020 26.5px,#1b1b1b 28.5px,#030303 32.8px,#121212 36.2px,#141414 38.8px,#111111 40.8px,#040404 43.8px,#010101 45.2px,#010101 62.5px,#050505 64.8px,#0e0e0e 66.5px,#383838 71.5px,#444444 73.2px,#4a4a4a 75px,#4b4b4b 77px,#494949 79.5px,#434343 81.2px,#373737 83px,#0f0f0f 87.8px,#060606 89.5px,#020202 91.5px,#020202 134.5px,#090909 137.2px,#191919 139.5px,#373737 141.8px,#848484 146px,#9d9d9d 147.8px,#aeaeae 149.8px,#b3b3b3 152px,#adadad 154.2px,#9b9b9b 156.2px,#808080 158px,#383838 162px,#252525 163.2px,#171717 164.5px,#070707 167px,#010101 170.2px,#000000 205.8px,#060606 211.2px,#101010 213.5px,#252525 215.8px,#424242 217.8px,#868686 221.8px,#9c9c9c 223.5px,#aaaaaa 225.5px,#aeaeae 227.5px,#a9a9a9 230px,#999999 232px,#818181 233.8px,#363636 238.2px,#181818 240.8px,#080808 243.2px,#010101 246.2px,#000000 420px)"></i>
<i style="top:196px;background:linear-gradient(90deg,#000000 0px,#020202 2.8px,#070707 4.5px,#121212 6.2px,#343434 10.2px,#3b3b3b 12.8px,#393939 14.2px,#343434 15.5px,#0f0f0f 20.2px,#1c1c1c 23px,#1e1e1e 25.8px,#1a1a1a 28px,#030303 32px,#111111 35.2px,#131313 37.8px,#111111 39.8px,#040404 42.8px,#000000 44.5px,#010101 61px,#050505 63.2px,#0d0d0d 65px,#343434 69.8px,#3f3f3f 71.5px,#454545 73.2px,#464646 75.2px,#454545 77.5px,#404040 79.2px,#353535 81px,#0e0e0e 85.8px,#060606 87.5px,#010101 89.5px,#020202 131px,#090909 133.8px,#191919 136px,#353535 138.2px,#828282 142.5px,#9c9c9c 144.2px,#adadad 146.2px,#b1b1b1 148.5px,#acacac 150.8px,#999999 152.8px,#7e7e7e 154.5px,#363636 158.5px,#191919 160.8px,#080808 163.2px,#010101 166.8px,#000000 200.8px,#060606 206.2px,#111111 208.5px,#272727 210.8px,#3f3f3f 212.5px,#7e7e7e 216.2px,#989898 218.2px,#a6a6a6 220.2px,#a9a9a9 222.2px,#a4a4a4 224.8px,#949494 226.8px,#7d7d7d 228.5px,#363636 232.8px,#181818 235.2px,#080808 237.8px,#010101 241px,#000000 420px)"></i>
<i style="top:197px;background:linear-gradient(90deg,#000000 0px,#020202 2.5px,#080808 4.5px,#111111 6px,#333333 10px,#3a3a3a 12.5px,#383838 14px,#333333 15.2px,#0f0f0f 20px,#1c1c1c 22.5px,#1d1d1d 25.2px,#181818 27.5px,#030303 31.2px,#111111 34.5px,#121212 37px,#101010 38.8px,#040404 41.8px,#000000 43.5px,#010101 59.8px,#050505 61.8px,#0c0c0c 63.5px,#3b3b3b 69.8px,#404040 71.5px,#424242 73.5px,#414141 75.8px,#3b3b3b 77.5px,#323232 79px,#0d0d0d 83.8px,#050505 85.5px,#010101 87.2px,#020202 127.8px,#0a0a0a 130.5px,#1a1a1a 132.8px,#383838 135px,#7d7d7d 138.8px,#989898 140.5px,#aaaaaa 142.5px,#b0b0b0 144.8px,#acacac 147px,#9b9b9b 149px,#818181 150.8px,#343434 155px,#171717 157.2px,#070707 159.8px,#010101 163px,#000000 195.5px,#050505 201px,#101010 203.2px,#252525 205.5px,#3d3d3d 207.2px,#7e7e7e 211.2px,#949494 213px,#a2a2a2 215px,#a5a5a5 217px,#a0a0a0 219.5px,#909090 221.5px,#787878 223.2px,#333333 227.5px,#161616 230px,#070707 232.5px,#010101 235.5px,#000000 420px)"></i>
<i style="top:198px;background:linear-gradient(90deg,#000000 0px,#020202 2.5px,#070707 4.2px,#121212 6px,#323232 9.8px,#383838 11px,#393939 12.2px,#373737 13.8px,#323232 15px,#0f0f0f 19.5px,#1a1a1a 21.8px,#1c1c1c 24.8px,#181818 26.8px,#040404 30.5px,#101010 33.5px,#121212 36px,#0f0f0f 38px,#040404 40.8px,#000000 42.5px,#010101 58.2px,#040404 60.2px,#0b0b0b 62px,#373737 68.2px,#3c3c3c 69.8px,#3d3d3d 71.8px,#3c3c3c 73.8px,#373737 75.5px,#2d2d2d 77.2px,#0d0d0d 81.5px,#050505 83.2px,#010101 85px,#020202 124.2px,#090909 127px,#191919 129.2px,#363636 131.5px,#7e7e7e 135.5px,#979797 137.2px,#a8a8a8 139.2px,#acacac 141.2px,#a8a8a8 143.5px,#969696 145.5px,#7d7d7d 147.2px,#353535 151.2px,#242424 152.5px,#161616 153.8px,#070707 156.2px,#010101 159.5px,#000000 190.8px,#060606 196px,#111111 198.2px,#232323 200.2px,#3b3b3b 202px,#7b7b7b 206px,#909090 207.8px,#9c9c9c 209.5px,#a1a1a1 211.8px,#9b9b9b 214.2px,#8b8b8b 216.2px,#747474 218px,#343434 222px,#171717 224.5px,#080808 227px,#010101 230.2px,#000000 420px)"></i>
<i style="top:199px;background:linear-gradient(90deg,#000000 0px,#020202 2.5px,#080808 4.2px,#111111 5.8px,#313131 9.5px,#373737 10.8px,#383838 12px,#323232 14.5px,#0e0e0e 19px,#1a1a1a 21.5px,#1b1b1b 24.8px,#171717 26.2px,#040404 29.8px,#0f0f0f 32.8px,#111111 35.2px,#0f0f0f 37px,#030303 40px,#000000 41.5px,#020202 57.8px,#0b0b0b 60.8px,#323232 66.5px,#383838 68.2px,#393939 70.2px,#333333 73.8px,#0c0c0c 79.5px,#040404 81.2px,#010101 83px,#020202 121px,#080808 123.5px,#181818 125.8px,#343434 128px,#787878 132px,#919191 133.8px,#a1a1a1 135.8px,#a5a5a5 137.8px,#a0a0a0 140px,#909090 142px,#777777 143.8px,#323232 147.8px,#171717 150px,#070707 152.5px,#010101 156px,#000000 185.8px,#060606 191px,#121212 193.2px,#252525 195.2px,#3c3c3c 197px,#747474 200.5px,#8c8c8c 202.5px,#989898 204.2px,#9c9c9c 206.5px,#989898 208.8px,#898989 210.8px,#737373 212.5px,#313131 216.8px,#151515 219.2px,#070707 221.8px,#010101 224.8px,#000000 420px)"></i>
<i style="top:200px;background:linear-gradient(90deg,#000000 0px,#020202 2.2px,#070707 4px,#101010 5.5px,#303030 9.2px,#363636 10.5px,#373737 11.8px,#303030 14.2px,#0e0e0e 18.5px,#191919 21px,#1a1a1a 24px,#151515 25.8px,#040404 29px,#0e0e0e 31.8px,#111111 34.2px,#0f0f0f 36px,#030303 39px,#000000 40.5px,#010101 56.2px,#0a0a0a 59.2px,#2f2f2f 65px,#343434 68.5px,#333333 70.5px,#2e2e2e 72px,#0a0a0a 77.5px,#010101 80.8px,#020202 117.5px,#080808 120px,#161616 122.2px,#313131 124.5px,#737373 128.5px,#8a8a8a 130.2px,#9a9a9a 132.2px,#9d9d9d 134.2px,#999999 136.5px,#898989 138.5px,#707070 140.2px,#2f2f2f 144.2px,#151515 146.5px,#060606 149px,#010101 152.2px,#000000 180.5px,#060606 185.8px,#111111 188px,#232323 190px,#3a3a3a 191.8px,#747474 195.5px,#888888 197.2px,#949494 199px,#989898 201.2px,#939393 203.5px,#858585 205.5px,#6f6f6f 207.2px,#2e2e2e 211.5px,#161616 213.8px,#070707 216.2px,#010101 219.5px,#000000 420px)"></i>
<i style="top:201px;background:linear-gradient(90deg,#000000 0px,#020202 2.2px,#070707 4px,#111111 5.5px,#303030 9px,#363636 11.2px,#303030 13.8px,#0e0e0e 18px,#181818 20.5px,#191919 23.5px,#151515 25px,#040404 28.2px,#0e0e0e 31px,#101010 33.5px,#0e0e0e 35.2px,#000000 39.5px,#010101 55px,#0a0a0a 58px,#2b2b2b 63.2px,#303030 66.8px,#2b2b2b 70px,#0a0a0a 75.2px,#010101 78.5px,#020202 114px,#070707 116.5px,#151515 118.8px,#2f2f2f 121px,#6d6d6d 125px,#848484 126.8px,#929292 128.8px,#969696 130.8px,#929292 133px,#828282 135px,#6b6b6b 136.8px,#2f2f2f 140.5px,#131313 143px,#060606 145.5px,#010101 148.8px,#000000 175.8px,#060606 180.8px,#101010 182.8px,#212121 184.8px,#383838 186.5px,#707070 190.2px,#848484 192px,#909090 193.8px,#939393 196px,#8f8f8f 198.2px,#808080 200.2px,#6a6a6a 202px,#2f2f2f 206px,#141414 208.5px,#060606 211px,#010101 214.2px,#000000 420px)"></i>
<i style="top:202px;background:linear-gradient(90deg,#000000 0px,#020202 2.2px,#070707 3.8px,#101010 5.2px,#2f2f2f 8.8px,#353535 11px,#343434 12.2px,#2f2f2f 13.5px,#0e0e0e 17.5px,#171717 19.8px,#181818 22.8px,#141414 24.5px,#040404 27.5px,#0e0e0e 30.2px,#0f0f0f 32.5px,#0e0e0e 34.2px,#030303 37.2px,#000000 38.8px,#010101 53.8px,#090909 56.8px,#272727 61.8px,#2c2c2c 65px,#272727 68px,#090909 73px,#010101 76px,#020202 110.8px,#080808 113.2px,#161616 115.5px,#2c2c2c 117.5px,#686868 121.5px,#7d7d7d 123.2px,#8b8b8b 125.2px,#8e8e8e 127.2px,#8b8b8b 129.2px,#808080 131px,#6c6c6c 132.8px,#373737 136.2px,#202020 138px,#0e0e0e 140px,#050505 142px,#000000 147px,#010101 172.8px,#060606 175.8px,#141414 178.2px,#2c2c2c 180.5px,#696969 184.8px,#7e7e7e 186.5px,#8b8b8b 188.5px,#8f8f8f 190.8px,#8a8a8a 193px,#7b7b7b 195px,#666666 196.8px,#2c2c2c 200.8px,#141414 203px,#060606 205.5px,#010101 208.8px,#000000 420px)"></i>
<i style="top:203px;background:linear-gradient(90deg,#000000 0px,#020202 2.2px,#070707 3.8px,#111111 5.2px,#2e2e2e 8.5px,#343434 10.8px,#333333 12px,#2d2d2d 13.2px,#0e0e0e 17px,#171717 19.5px,#171717 22.2px,#131313 23.8px,#040404 26.8px,#0d0d0d 29.2px,#0f0f0f 31.8px,#0d0d0d 33.5px,#030303 36.2px,#000000 37.8px,#010101 52.5px,#080808 55.2px,#242424 60.2px,#272727 63.2px,#232323 66.2px,#080808 71px,#010101 73.8px,#020202 107.2px,#070707 109.8px,#151515 112px,#2a2a2a 114px,#636363 118px,#777777 119.8px,#848484 121.8px,#878787 123.8px,#848484 125.8px,#797979 127.5px,#666666 129.2px,#333333 132.8px,#202020 134.2px,#0f0f0f 136.2px,#060606 138.2px,#000000 143.2px,#010101 167.8px,#070707 170.8px,#131313 173px,#2a2a2a 175.2px,#636363 179.2px,#787878 181px,#868686 183px,#8b8b8b 185.2px,#878787 187.5px,#7a7a7a 189.5px,#666666 191.2px,#292929 195.5px,#131313 197.8px,#060606 200.2px,#010101 203.5px,#000000 420px)"></i>
<i style="top:204px;background:linear-gradient(90deg,#000000 0px,#020202 2.2px,#070707 3.8px,#101010 5px,#2d2d2d 8.2px,#333333 10.5px,#2d2d2d 12.8px,#0e0e0e 16.5px,#161616 19px,#161616 21.8px,#121212 23.2px,#040404 26px,#0d0d0d 28.5px,#0e0e0e 30.8px,#0c0c0c 32.5px,#000000 36.8px,#010101 51.2px,#070707 54px,#1f1f1f 58.5px,#232323 61.5px,#1f1f1f 64.2px,#070707 68.8px,#010101 71.5px,#020202 103.8px,#070707 106.2px,#131313 108.5px,#272727 110.5px,#5d5d5d 114.5px,#717171 116.2px,#7d7d7d 118.2px,#808080 120.2px,#7d7d7d 122.2px,#727272 124px,#606060 125.8px,#303030 129.2px,#1e1e1e 130.8px,#0f0f0f 132.5px,#060606 134.5px,#000000 139.5px,#010101 162.5px,#060606 165.5px,#141414 168px,#2b2b2b 170.2px,#606060 174px,#757575 175.8px,#838383 177.8px,#888888 180px,#848484 182.2px,#767676 184.2px,#626262 186px,#2a2a2a 190px,#131313 192.2px,#060606 194.8px,#010101 198px,#000000 420px)"></i>
<i style="top:205px;background:linear-gradient(90deg,#000000 0px,#020202 2px,#070707 3.5px,#0f0f0f 4.8px,#2c2c2c 8px,#313131 9px,#323232 10.2px,#2b2b2b 12.5px,#0e0e0e 16px,#151515 18.2px,#151515 21px,#121212 22.5px,#040404 25.2px,#0c0c0c 27.8px,#0d0d0d 30px,#000000 35.8px,#010101 50px,#060606 52.5px,#1c1c1c 57px,#1f1f1f 59.8px,#1c1c1c 62.2px,#060606 66.8px,#010101 69.2px,#010101 100.2px,#060606 102.8px,#121212 105px,#252525 107px,#585858 111px,#6a6a6a 112.8px,#757575 114.5px,#787878 116.8px,#757575 118.8px,#6b6b6b 120.5px,#5a5a5a 122.2px,#2c2c2c 125.8px,#1c1c1c 127.2px,#0e0e0e 129px,#050505 131px,#000000 135.8px,#010101 157.5px,#070707 160.5px,#131313 162.8px,#2a2a2a 165px,#616161 169px,#757575 170.8px,#818181 172.8px,#848484 174.8px,#818181 177px,#737373 179px,#5f5f5f 180.8px,#282828 184.8px,#121212 187px,#050505 189.5px,#010101 192.5px,#000000 420px)"></i>
<i style="top:206px;background:linear-gradient(90deg,#000000 0px,#020202 2px,#070707 3.5px,#2b2b2b 7.8px,#303030 8.8px,#313131 10px,#2c2c2c 12px,#0c0c0c 15.8px,#141414 17.8px,#141414 20.5px,#101010 22px,#040404 24.5px,#0c0c0c 26.8px,#0d0d0d 29.2px,#000000 34.8px,#010101 48.8px,#050505 51.2px,#181818 55.2px,#1b1b1b 58px,#181818 60.2px,#050505 64.5px,#000000 67px,#020202 97px,#070707 99.5px,#111111 101.5px,#232323 103.5px,#535353 107.5px,#626262 109px,#6e6e6e 111px,#717171 113.2px,#6e6e6e 115.2px,#656565 117px,#545454 118.8px,#1c1c1c 123.5px,#0e0e0e 125.2px,#060606 127.2px,#000000 132px,#010101 152.5px,#060606 155.2px,#121212 157.5px,#282828 159.8px,#5e5e5e 163.8px,#727272 165.5px,#7e7e7e 167.5px,#818181 169.5px,#7e7e7e 171.5px,#727272 173.5px,#5f5f5f 175.2px,#282828 179.2px,#121212 181.5px,#060606 184px,#010101 187.2px,#000000 420px)"></i>
<i style="top:207px;background:linear-gradient(90deg,#000000 0px,#060606 3.2px,#0f0f0f 4.5px,#2a2a2a 7.5px,#303030 9.5px,#2f2f2f 10.8px,#2a2a2a 11.8px,#0c0c0c 15.2px,#131313 17.2px,#131313 19.8px,#101010 21.2px,#040404 23.8px,#0b0b0b 26px,#0c0c0c 28.2px,#000000 33.8px,#000000 47.8px,#040404 50px,#131313 53.8px,#151515 56.2px,#131313 58.5px,#040404 62.2px,#000000 64.5px,#010101 93.5px,#060606 96px,#101010 98px,#212121 100px,#4e4e4e 104px,#5c5c5c 105.5px,#676767 107.5px,#6a6a6a 109.8px,#676767 111.8px,#5e5e5e 113.5px,#4e4e4e 115.2px,#1a1a1a 120px,#0d0d0d 121.8px,#050505 123.8px,#000000 128.5px,#010101 147.2px,#060606 150px,#111111 152.2px,#262626 154.5px,#5c5c5c 158.5px,#6f6f6f 160.2px,#7b7b7b 162.2px,#7e7e7e 164.2px,#7b7b7b 166.2px,#6f6f6f 168.2px,#5b5b5b 170px,#262626 174px,#111111 176.2px,#050505 178.8px,#010101 181.8px,#000000 420px)"></i>
<i style="top:208px;background:linear-gradient(90deg,#000000 0px,#020202 1.8px,#070707 3.2px,#292929 7.2px,#2f2f2f 9.2px,#2a2a2a 11.2px,#0c0c0c 14.8px,#121212 16.8px,#121212 19.2px,#0f0f0f 20.8px,#040404 23px,#0a0a0a 25.2px,#0b0b0b 27.5px,#000000 32.8px,#000000 46.8px,#030303 48.8px,#0e0e0e 52.2px,#0f0f0f 54.5px,#0e0e0e 56.5px,#030303 59.8px,#000000 61.8px,#010101 90px,#060606 92.5px,#0f0f0f 94.5px,#1f1f1f 96.5px,#555555 102px,#606060 104px,#626262 106px,#606060 108.2px,#575757 110px,#484848 111.8px,#181818 116.5px,#0c0c0c 118.2px,#050505 120px,#000000 124.8px,#010101 142.2px,#060606 145px,#121212 147.2px,#252525 149.2px,#595959 153.2px,#6c6c6c 155px,#787878 157px,#7b7b7b 159px,#787878 161px,#6b6b6b 163px,#585858 164.8px,#262626 168.5px,#111111 170.8px,#050505 173.2px,#010101 176.5px,#000000 420px)"></i>
<i style="top:209px;background:linear-gradient(90deg,#000000 0px,#060606 3px,#0e0e0e 4.2px,#282828 7px,#2e2e2e 9px,#282828 11px,#0c0c0c 14.2px,#111111 16.2px,#111111 18.8px,#040404 22.2px,#0a0a0a 24.5px,#0b0b0b 26.5px,#000000 31.8px,#000000 45.8px,#0a0a0a 52.8px,#000000 59.2px,#010101 86.5px,#060606 89px,#0e0e0e 91px,#1d1d1d 93px,#4f4f4f 98.5px,#595959 100.5px,#5b5b5b 102.5px,#585858 104.8px,#515151 106.5px,#434343 108.2px,#161616 113px,#0b0b0b 114.8px,#050505 116.5px,#000000 121px,#010101 137px,#060606 139.8px,#111111 142px,#262626 144.2px,#575757 148px,#696969 149.8px,#747474 151.5px,#787878 153.8px,#757575 155.8px,#686868 157.8px,#585858 159.2px,#242424 163.2px,#101010 165.5px,#050505 167.8px,#010101 171px,#000000 420px)"></i>
<i style="top:210px;background:linear-gradient(90deg,#000000 0px,#060606 3px,#272727 6.8px,#2d2d2d 8.8px,#272727 10.8px,#0b0b0b 13.8px,#101010 15.8px,#101010 18px,#040404 21.5px,#0a0a0a 25.5px,#000000 31.2px,#000000 45.2px,#040404 50.5px,#000000 56.8px,#010101 83px,#050505 85.5px,#0d0d0d 87.5px,#1b1b1b 89.5px,#494949 95px,#515151 97px,#545454 99px,#515151 101.2px,#4a4a4a 103px,#141414 109.5px,#0b0b0b 111.2px,#050505 113px,#000000 117.5px,#010101 132px,#060606 134.8px,#101010 136.8px,#242424 139px,#545454 142.8px,#666666 144.5px,#717171 146.2px,#747474 148.5px,#717171 150.5px,#646464 152.5px,#545454 154px,#252525 157.8px,#101010 160px,#050505 162.5px,#010101 165.8px,#000000 420px)"></i>
<i style="top:211px;background:linear-gradient(90deg,#000000 0px,#060606 2.8px,#0e0e0e 4px,#282828 6.8px,#2c2c2c 8.5px,#272727 10.2px,#0b0b0b 13.2px,#0f0f0f 15.2px,#0f0f0f 17.5px,#040404 20.8px,#090909 24.5px,#000000 30.2px,#010101 79.5px,#050505 81.8px,#0b0b0b 83.8px,#191919 86px,#434343 91.5px,#4a4a4a 93.5px,#4c4c4c 95.5px,#4a4a4a 97.8px,#434343 99.5px,#131313 106px,#050505 109.2px,#000000 113.8px,#010101 127px,#060606 129.8px,#111111 131.8px,#232323 133.8px,#525252 137.5px,#646464 139.2px,#6e6e6e 141px,#717171 143px,#6e6e6e 145.2px,#636363 147px,#545454 148.5px,#222222 152.5px,#0f0f0f 154.8px,#050505 157px,#010101 160.2px,#000000 420px)"></i>
<i style="top:212px;background:linear-gradient(90deg,#000000 0px,#060606 2.8px,#252525 6.2px,#2c2c2c 8px,#272727 9.8px,#0a0a0a 13px,#0e0e0e 14.5px,#0f0f0f 16.8px,#040404 20.2px,#080808 23.8px,#000000 29.2px,#010101 76.2px,#050505 78.8px,#0d0d0d 81px,#3e3e3e 88.5px,#454545 92px,#434343 94px,#3d3d3d 96px,#121212 102.2px,#050505 105.5px,#000000 110px,#010101 121.8px,#060606 124.5px,#101010 126.5px,#212121 128.5px,#4f4f4f 132.2px,#616161 134px,#6b6b6b 135.8px,#6e6e6e 137.8px,#6c6c6c 139.8px,#606060 141.8px,#515151 143.2px,#232323 147px,#0f0f0f 149.2px,#040404 151.8px,#000000 155px,#000000 420px)"></i>
<i style="top:213px;background:linear-gradient(90deg,#000000 0px,#060606 2.8px,#242424 6px,#2b2b2b 7.8px,#262626 9.5px,#0a0a0a 12.5px,#0d0d0d 14px,#0e0e0e 16.2px,#030303 19.5px,#070707 22.8px,#000000 28.2px,#010101 73.5px,#090909 77.5px,#131313 79.5px,#353535 84.8px,#3b3b3b 86.5px,#3d3d3d 88.5px,#3b3b3b 90.5px,#353535 92.2px,#101010 98px,#040404 101.2px,#000000 105.5px,#010101 117px,#060606 119.5px,#0f0f0f 121.5px,#202020 123.5px,#4d4d4d 127.2px,#5b5b5b 128.8px,#656565 130.5px,#686868 132.5px,#666666 134.5px,#5c5c5c 136.2px,#4e4e4e 137.8px,#1f1f1f 141.8px,#0e0e0e 143.8px,#040404 146px,#000000 149.2px,#000000 420px)"></i>
<i style="top:214px;background:linear-gradient(90deg,#000000 0px,#060606 2.5px,#252525 6px,#2a2a2a 7.5px,#242424 9.2px,#090909 12px,#0d0d0d 15.8px,#030303 18.8px,#070707 22px,#000000 27px,#010101 71px,#080808 74.8px,#2e2e2e 81.5px,#333333 83.2px,#353535 85px,#333333 86.8px,#2e2e2e 88.5px,#0d0d0d 94px,#030303 96.8px,#000000 100.8px,#010101 112.2px,#050505 114.8px,#0f0f0f 116.8px,#202020 118.8px,#535353 123.5px,#5d5d5d 125.2px,#5f5f5f 127.2px,#5d5d5d 129.2px,#535353 131px,#1d1d1d 136px,#0d0d0d 138px,#040404 140.2px,#000000 143.5px,#000000 420px)"></i>
<i style="top:215px;background:linear-gradient(90deg,#000000 0px,#060606 2.5px,#242424 5.8px,#282828 7.2px,#242424 8.8px,#090909 11.5px,#0c0c0c 15.2px,#030303 18px,#060606 21px,#000000 26px,#010101 68.5px,#060606 72px,#272727 78.2px,#2d2d2d 81.5px,#282828 84.5px,#0b0b0b 89.8px,#030303 92.5px,#000000 96.2px,#010101 107.5px,#040404 109.8px,#0d0d0d 111.8px,#1a1a1a 113.5px,#4c4c4c 118.5px,#555555 120.2px,#575757 122px,#555555 123.8px,#4c4c4c 125.5px,#191919 130.5px,#0b0b0b 132.5px,#030303 134.8px,#000000 137.8px,#000000 420px)"></i>
<i style="top:216px;background:linear-gradient(90deg,#000000 0px,#050505 2.2px,#232323 5.5px,#272727 7px,#222222 8.5px,#090909 11px,#0b0b0b 14.5px,#030303 17.2px,#050505 20.8px,#000000 25.2px,#010101 66.2px,#070707 69.8px,#212121 75.2px,#252525 78px,#212121 80.8px,#090909 85.5px,#020202 88.2px,#010101 102.8px,#040404 105px,#0b0b0b 106.8px,#191919 108.8px,#444444 113.2px,#4c4c4c 115px,#4e4e4e 116.8px,#4c4c4c 118.5px,#454545 120px,#181818 124.8px,#0a0a0a 126.8px,#030303 128.8px,#000000 131.8px,#000000 420px)"></i>
<i style="top:217px;background:linear-gradient(90deg,#000000 0px,#050505 2.2px,#222222 5.2px,#262626 6.8px,#202020 8.2px,#080808 10.8px,#0a0a0a 14px,#030303 16.8px,#040404 19.8px,#000000 24.2px,#000000 63.8px,#050505 67px,#1a1a1a 72px,#1c1c1c 74.5px,#191919 77px,#070707 81.5px,#020202 83.8px,#010101 98.2px,#040404 100.2px,#0a0a0a 102px,#161616 103.8px,#3d3d3d 108.2px,#434343 109.8px,#454545 111.5px,#434343 113.2px,#3c3c3c 114.8px,#141414 119.2px,#090909 121px,#030303 123px,#000000 126px,#000000 420px)"></i>
<i style="top:218px;background:linear-gradient(90deg,#000000 0px,#060606 2.2px,#202020 5px,#252525 6.2px,#202020 7.8px,#080808 10.2px,#090909 13.2px,#020202 16px,#000000 61.2px,#030303 64px,#121212 68.5px,#151515 71px,#131313 73.2px,#050505 77px,#010101 79.2px,#010101 93.8px,#080808 97.2px,#131313 99px,#353535 103.2px,#3b3b3b 104.8px,#3c3c3c 106.2px,#3a3a3a 107.8px,#343434 109.2px,#131313 113.2px,#080808 115px,#020202 117px,#000000 119.8px,#000000 420px)"></i>
<i style="top:219px;background:linear-gradient(90deg,#000000 0px,#050505 2px,#1f1f1f 4.8px,#242424 6px,#1e1e1e 7.5px,#080808 9.8px,#080808 12.8px,#020202 15.2px,#000000 59px,#0e0e0e 67.5px,#010101 74.8px,#010101 89.2px,#080808 92.8px,#2d2d2d 98px,#333333 100.8px,#323232 102.2px,#2c2c2c 103.8px,#101010 107.5px,#070707 109.2px,#020202 111px,#000000 113.8px,#000000 420px)"></i>
<i style="top:220px;background:linear-gradient(90deg,#000000 0px,#050505 2px,#1e1e1e 4.5px,#222222 5.8px,#1e1e1e 7px,#070707 9.5px,#070707 12.2px,#010101 14.8px,#000000 56.5px,#070707 64px,#000000 70.2px,#000000 84.8px,#060606 88px,#252525 93px,#2a2a2a 95.5px,#252525 98.2px,#060606 103.2px,#000000 107.5px,#000000 420px)"></i>
<i style="top:221px;background:linear-gradient(90deg,#000000 0px,#040404 1.8px,#1d1d1d 4.2px,#212121 5.5px,#1d1d1d 6.8px,#060606 9px,#060606 11.8px,#010101 14.2px,#000000 19.2px,#000000 80.8px,#050505 83.5px,#1d1d1d 88px,#212121 90.2px,#1d1d1d 92.5px,#040404 97.5px,#000000 101.2px,#000000 420px)"></i>
<i style="top:222px;background:linear-gradient(90deg,#000000 0px,#050505 1.8px,#1c1c1c 4px,#202020 5.2px,#1d1d1d 6.2px,#060606 8.5px,#050505 11px,#000000 14.5px,#000000 76.2px,#030303 78.8px,#151515 83px,#181818 85px,#151515 87px,#030303 91.5px,#000000 95px,#000000 420px)"></i>
<i style="top:223px;background:linear-gradient(90deg,#000000 0px,#040404 1.5px,#1a1a1a 3.8px,#1e1e1e 5px,#1b1b1b 6px,#050505 8.2px,#000000 14.2px,#000000 72px,#020202 74.2px,#0c0c0c 77.8px,#0e0e0e 79.8px,#0d0d0d 81.5px,#020202 85.2px,#000000 88.5px,#000000 420px)"></i>
<i style="top:224px;background:linear-gradient(90deg,#000000 0px,#050505 1.5px,#191919 3.5px,#1d1d1d 4.5px,#191919 5.8px,#050505 7.8px,#000000 13.5px,#000000 67.8px,#050505 74.5px,#000000 82.2px,#000000 420px)"></i>
<i style="top:225px;background:linear-gradient(90deg,#000000 0px,#040404 1.2px,#171717 3.2px,#1b1b1b 4.2px,#181818 5.2px,#030303 7.5px,#000000 12.5px,#000000 420px)"></i>
<i style="top:226px;background:linear-gradient(90deg,#000000 0px,#050505 1.2px,#161616 3px,#1a1a1a 4px,#161616 5px,#020202 7.2px,#000000 11.8px,#000000 420px)"></i>
<i style="top:227px;background:linear-gradient(90deg,#010101 0px,#040404 1px,#161616 3px,#181818 3.8px,#141414 4.8px,#060606 6.2px,#020202 7px,#000000 10.8px,#000000 420px)"></i>
<i style="top:228px;background:linear-gradient(90deg,#010101 0px,#050505 1px,#151515 2.8px,#161616 3.5px,#141414 4.2px,#020202 6.5px,#000000 9.8px,#000000 420px)"></i>
<i style="top:229px;background:linear-gradient(90deg,#010101 0px,#040404 0.8px,#121212 2.2px,#151515 3.2px,#121212 4px,#030303 5.8px,#000000 7.8px,#000000 420px)"></i>
<i style="top:230px;background:linear-gradient(90deg,#010101 0px,#111111 2px,#131313 2.8px,#121212 3.5px,#020202 5.5px,#000000 7.2px,#000000 420px)"></i>
<i style="top:231px;background:linear-gradient(90deg,#010101 0px,#0e0e0e 1.8px,#101010 2.5px,#0e0e0e 3.2px,#020202 5px,#000000 6.5px,#000000 420px)"></i>
<i style="top:232px;background:linear-gradient(90deg,#010101 0px,#0c0c0c 2.2px,#010101 4.5px,#000000 6px,#000000 420px)"></i>
<i style="top:233px;background:linear-gradient(90deg,#010101 0px,#090909 2px,#010101 4px,#000000 5.5px,#000000 420px)"></i>
<i style="top:234px;background:linear-gradient(90deg,#010101 0px,#060606 1.8px,#000000 4.8px,#000000 420px)"></i>
<i style="top:235px;background:linear-gradient(90deg,#010101 0px,#000000 420px)"></i>
</div>
<b class="frame"></b>
<b class="org"></b>
<b class="tk" style="left:49.00px;top:271px;width:1px;height:3px"></b><b class="t" style="left:49.80px;top:276.30px;transform:scale(.25,0.27) translateX(-50%)">0</b><b class="tk" style="left:118.83px;top:271px;width:1px;height:3px"></b><b class="t" style="left:119.63px;top:276.30px;transform:scale(.25,0.27) translateX(-50%)">200</b><b class="tk" style="left:188.67px;top:271px;width:1px;height:3px"></b><b class="t" style="left:189.47px;top:276.30px;transform:scale(.25,0.27) translateX(-50%)">400</b><b class="tk" style="left:258.50px;top:271px;width:1px;height:3px"></b><b class="t" style="left:259.30px;top:276.30px;transform:scale(.25,0.27) translateX(-50%)">600</b><b class="tk" style="left:328.33px;top:271px;width:1px;height:3px"></b><b class="t" style="left:329.13px;top:276.30px;transform:scale(.25,0.27) translateX(-50%)">800</b><b class="tk" style="left:398.17px;top:271px;width:1px;height:3px"></b><b class="t" style="left:398.97px;top:276.30px;transform:scale(.25,0.27) translateX(-50%)">1000</b><b class="tk" style="left:468.00px;top:271px;width:1px;height:3px"></b><b class="t" style="left:468.80px;top:276.30px;transform:scale(.25,0.27) translateX(-50%)">1200</b><b class="tk" style="left:46px;top:230.33px;width:3px;height:1px"></b><b class="t" style="left:35.50px;top:224.54px;transform:scale(.25,0.27) translateX(-100%)">500</b><b class="tk" style="left:46px;top:190.67px;width:3px;height:1px"></b><b class="t" style="left:35.50px;top:184.87px;transform:scale(.25,0.27) translateX(-100%)">1000</b><b class="tk" style="left:46px;top:151.00px;width:3px;height:1px"></b><b class="t" style="left:35.50px;top:145.20px;transform:scale(.25,0.27) translateX(-100%)">1500</b><b class="tk" style="left:46px;top:111.33px;width:3px;height:1px"></b><b class="t" style="left:35.50px;top:105.54px;transform:scale(.25,0.27) translateX(-100%)">2000</b><b class="tk" style="left:46px;top:71.67px;width:3px;height:1px"></b><b class="t" style="left:35.50px;top:65.87px;transform:scale(.25,0.27) translateX(-100%)">2500</b><b class="tk" style="left:46px;top:32.00px;width:3px;height:1px"></b><b class="t" style="left:36.50px;top:27.20px;transform:scale(.25,0.27) translateX(-100%)">3000</b>
<b class="cbar"></b>
<b class="tk" style="left:506px;top:269.80px;width:3px;height:1px"></b><b class="t" style="left:522.20px;top:264.30px;transform:scale(.25,0.27) translateX(-50%)">0</b><b class="tk" style="left:506px;top:240.23px;width:3px;height:1px"></b><b class="t" style="left:522.20px;top:234.73px;transform:scale(.25,0.27) translateX(-50%)">10</b><b class="tk" style="left:506px;top:210.65px;width:3px;height:1px"></b><b class="t" style="left:522.20px;top:205.15px;transform:scale(.25,0.27) translateX(-50%)">20</b><b class="tk" style="left:506px;top:181.08px;width:3px;height:1px"></b><b class="t" style="left:522.20px;top:175.58px;transform:scale(.25,0.27) translateX(-50%)">30</b><b class="tk" style="left:506px;top:151.50px;width:3px;height:1px"></b><b class="t" style="left:522.20px;top:146.00px;transform:scale(.25,0.27) translateX(-50%)">40</b><b class="tk" style="left:506px;top:121.93px;width:3px;height:1px"></b><b class="t" style="left:522.20px;top:116.43px;transform:scale(.25,0.27) translateX(-50%)">50</b><b class="tk" style="left:506px;top:92.35px;width:3px;height:1px"></b><b class="t" style="left:522.20px;top:86.85px;transform:scale(.25,0.27) translateX(-50%)">60</b><b class="tk" style="left:506px;top:62.78px;width:3px;height:1px"></b><b class="t" style="left:522.20px;top:57.28px;transform:scale(.25,0.27) translateX(-50%)">70</b><b class="tk" style="left:506px;top:33.20px;width:3px;height:1px"></b><b class="t" style="left:522.20px;top:27.70px;transform:scale(.25,0.27) translateX(-50%)">80</b>
<b class="lb top" style="left:96.75px;top:23.90px;width:21.50px;height:16.40px"></b><b class="lb top" style="left:108.75px;top:23.90px;width:21.50px;height:16.40px"></b><b class="lb top" style="left:178.05px;top:23.90px;width:21.50px;height:16.40px"></b><b class="lb top" style="left:245.60px;top:24.00px;width:26.60px;height:16.40px"></b><b class="lb" style="left:385.40px;top:63.60px;width:25.80px;height:16.20px"></b><b class="lb" style="left:385.60px;top:162.90px;width:25.20px;height:16.20px"></b><b class="lb" style="left:385.60px;top:195.90px;width:25.20px;height:16.20px"></b>
</div>
<div id="txt">
<b class="t" style="left:105.70px;top:24.90px;transform:scale(.25,0.27) translateX(-50%)">3</b><b class="t" style="left:119.50px;top:24.90px;transform:scale(.25,0.27) translateX(-50%)">4</b><b class="t" style="left:187.40px;top:24.90px;transform:scale(.25,0.27) translateX(-50%)">8</b><b class="t" style="left:258.90px;top:25.00px;transform:scale(.25,0.27) translateX(-50%)">12</b><b class="t" style="left:398.30px;top:64.50px;transform:scale(.25,0.27) translateX(-50%)">24</b><b class="t" style="left:398.20px;top:163.80px;transform:scale(.25,0.27) translateX(-50%)">48</b><b class="t" style="left:398.20px;top:196.80px;transform:scale(.25,0.27) translateX(-50%)">72</b>
<b class="t" style="left:271.10px;top:1.80px;transform:scale(.25,0.27) translateX(-50%)">Selected microphone power</b><b class="t" style="left:271.10px;top:289.10px;transform:scale(.25,0.27) translateX(-50%)">Response frequency [Hz]</b><b class="t" style="left:6.90px;top:150.90px;transform:rotate(-90deg) scale(.25,0.27) translate(-50%,-50%)">Speed (RPM)</b><b class="t" style="left:540.20px;top:150.70px;transform:rotate(-90deg) scale(.25,0.27) translate(-50%,-50%)">Power [dB(Reference=1e<sup style="font-size:22px;vertical-align:0;position:relative;top:-20px;-webkit-text-stroke:0.4px #000">-12</sup>W)]</b>
</div>
</body></html>
